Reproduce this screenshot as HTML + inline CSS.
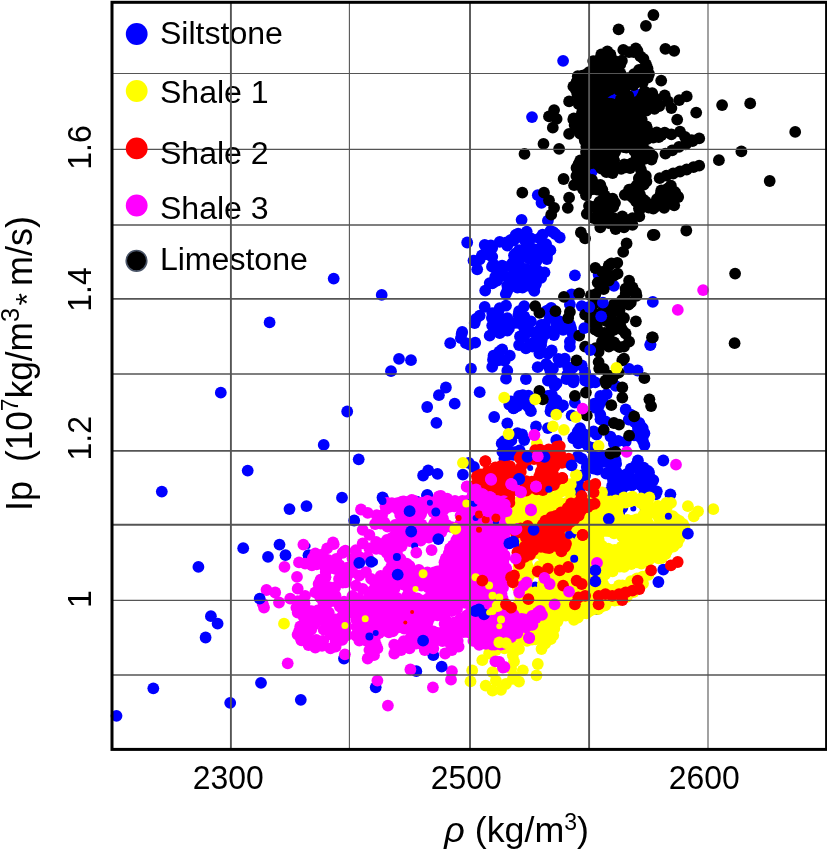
<!DOCTYPE html>
<html><head><meta charset="utf-8"><title>Crossplot</title>
<style>
html,body{margin:0;padding:0;background:#fff;}
svg{display:block;font-family:"Liberation Sans",sans-serif;}
</style></head><body>
<svg width="827" height="853" viewBox="0 0 827 853">
<rect width="827" height="853" fill="#fff"/>

<g fill="#0000ff">
<circle cx="586.0" cy="380.2" r="5.9"/>
<circle cx="523.5" cy="398.4" r="5.9"/>
<circle cx="511.0" cy="401.3" r="5.9"/>
<circle cx="547.4" cy="397.2" r="5.9"/>
<circle cx="556.4" cy="400.2" r="5.9"/>
<circle cx="553.9" cy="411.8" r="5.9"/>
<circle cx="599.3" cy="404.4" r="5.9"/>
<circle cx="581.4" cy="437.8" r="5.9"/>
<circle cx="574.5" cy="437.0" r="5.9"/>
<circle cx="583.9" cy="442.5" r="5.9"/>
<circle cx="637.9" cy="427.6" r="5.9"/>
<circle cx="639.0" cy="436.4" r="5.9"/>
<circle cx="594.2" cy="448.1" r="5.9"/>
<circle cx="597.2" cy="464.1" r="5.9"/>
<circle cx="595.5" cy="453.6" r="5.9"/>
<circle cx="610.6" cy="458.2" r="5.9"/>
<circle cx="593.6" cy="468.7" r="5.9"/>
<circle cx="592.8" cy="463.7" r="5.9"/>
<circle cx="613.5" cy="469.5" r="5.9"/>
<circle cx="619.1" cy="477.5" r="5.9"/>
<circle cx="640.3" cy="470.9" r="5.9"/>
<circle cx="649.0" cy="472.4" r="5.9"/>
<circle cx="643.8" cy="475.6" r="5.9"/>
<circle cx="626.6" cy="485.1" r="5.9"/>
<circle cx="630.2" cy="477.5" r="5.9"/>
<circle cx="617.6" cy="494.5" r="5.9"/>
<circle cx="617.3" cy="491.2" r="5.9"/>
<circle cx="647.8" cy="490.5" r="5.9"/>
<circle cx="652.1" cy="481.8" r="5.9"/>
<circle cx="508.3" cy="439.4" r="5.9"/>
<circle cx="504.0" cy="441.1" r="5.9"/>
<circle cx="519.6" cy="450.3" r="5.9"/>
<circle cx="509.3" cy="404.6" r="5.9"/>
<circle cx="551.9" cy="379.1" r="5.9"/>
<circle cx="556.5" cy="383.4" r="5.9"/>
<circle cx="567.5" cy="374.1" r="5.9"/>
<circle cx="573.9" cy="379.0" r="5.9"/>
<circle cx="589.1" cy="383.0" r="5.9"/>
<circle cx="591.3" cy="379.3" r="5.9"/>
<circle cx="602.3" cy="400.1" r="5.9"/>
<circle cx="522.8" cy="395.2" r="5.9"/>
<circle cx="528.4" cy="395.7" r="5.9"/>
<circle cx="528.9" cy="407.4" r="5.9"/>
<circle cx="513.6" cy="408.3" r="5.9"/>
<circle cx="550.2" cy="398.2" r="5.9"/>
<circle cx="553.9" cy="404.5" r="5.9"/>
<circle cx="563.0" cy="405.4" r="5.9"/>
<circle cx="554.5" cy="404.5" r="5.9"/>
<circle cx="606.6" cy="394.2" r="5.9"/>
<circle cx="594.3" cy="403.6" r="5.9"/>
<circle cx="600.5" cy="419.3" r="5.9"/>
<circle cx="628.7" cy="419.7" r="5.9"/>
<circle cx="522.1" cy="434.5" r="5.9"/>
<circle cx="577.7" cy="431.7" r="5.9"/>
<circle cx="579.4" cy="433.3" r="5.9"/>
<circle cx="577.4" cy="438.1" r="5.9"/>
<circle cx="584.0" cy="441.7" r="5.9"/>
<circle cx="634.7" cy="422.2" r="5.9"/>
<circle cx="644.4" cy="433.2" r="5.9"/>
<circle cx="634.0" cy="435.4" r="5.9"/>
<circle cx="618.2" cy="441.0" r="5.9"/>
<circle cx="642.8" cy="440.6" r="5.9"/>
<circle cx="596.6" cy="434.7" r="5.9"/>
<circle cx="591.8" cy="448.1" r="5.9"/>
<circle cx="597.7" cy="456.4" r="5.9"/>
<circle cx="603.1" cy="461.8" r="5.9"/>
<circle cx="611.6" cy="463.8" r="5.9"/>
<circle cx="616.1" cy="463.9" r="5.9"/>
<circle cx="591.5" cy="462.6" r="5.9"/>
<circle cx="591.9" cy="467.4" r="5.9"/>
<circle cx="577.8" cy="456.4" r="5.9"/>
<circle cx="606.1" cy="473.5" r="5.9"/>
<circle cx="612.9" cy="479.2" r="5.9"/>
<circle cx="619.2" cy="484.0" r="5.9"/>
<circle cx="627.8" cy="473.4" r="5.9"/>
<circle cx="637.9" cy="460.3" r="5.9"/>
<circle cx="636.5" cy="467.2" r="5.9"/>
<circle cx="647.9" cy="471.0" r="5.9"/>
<circle cx="639.8" cy="481.9" r="5.9"/>
<circle cx="628.1" cy="482.5" r="5.9"/>
<circle cx="631.3" cy="484.1" r="5.9"/>
<circle cx="615.3" cy="489.9" r="5.9"/>
<circle cx="616.4" cy="488.9" r="5.9"/>
<circle cx="640.9" cy="485.3" r="5.9"/>
<circle cx="653.3" cy="480.1" r="5.9"/>
<circle cx="610.4" cy="496.5" r="5.9"/>
<circle cx="585.1" cy="475.4" r="5.9"/>
<circle cx="579.4" cy="491.0" r="5.9"/>
<circle cx="619.3" cy="512.8" r="5.9"/>
<circle cx="511.4" cy="440.4" r="5.9"/>
<circle cx="502.4" cy="451.9" r="5.9"/>
<circle cx="513.4" cy="454.8" r="5.9"/>
<circle cx="508.9" cy="454.7" r="5.9"/>
<circle cx="656.8" cy="491.3" r="5.9"/>
<circle cx="490.9" cy="245.3" r="5.9"/>
<circle cx="506.5" cy="242.3" r="5.9"/>
<circle cx="510.8" cy="240.0" r="5.9"/>
<circle cx="481.9" cy="255.4" r="5.9"/>
<circle cx="488.5" cy="254.7" r="5.9"/>
<circle cx="492.0" cy="266.7" r="5.9"/>
<circle cx="495.2" cy="277.0" r="5.9"/>
<circle cx="502.1" cy="265.7" r="5.9"/>
<circle cx="512.5" cy="266.8" r="5.9"/>
<circle cx="492.3" cy="283.3" r="5.9"/>
<circle cx="494.5" cy="281.5" r="5.9"/>
<circle cx="509.5" cy="283.8" r="5.9"/>
<circle cx="513.5" cy="273.6" r="5.9"/>
<circle cx="505.8" cy="294.1" r="5.9"/>
<circle cx="503.7" cy="275.4" r="5.9"/>
<circle cx="476.0" cy="318.8" r="5.9"/>
<circle cx="491.9" cy="318.0" r="5.9"/>
<circle cx="498.4" cy="311.4" r="5.9"/>
<circle cx="505.6" cy="321.9" r="5.9"/>
<circle cx="502.8" cy="320.3" r="5.9"/>
<circle cx="494.3" cy="330.1" r="5.9"/>
<circle cx="499.1" cy="329.5" r="5.9"/>
<circle cx="508.9" cy="328.4" r="5.9"/>
<circle cx="493.6" cy="315.5" r="5.9"/>
<circle cx="461.6" cy="334.1" r="5.9"/>
<circle cx="469.3" cy="344.6" r="5.9"/>
<circle cx="493.0" cy="359.7" r="5.9"/>
<circle cx="499.3" cy="351.6" r="5.9"/>
<circle cx="500.8" cy="359.8" r="5.9"/>
<circle cx="499.7" cy="358.7" r="5.9"/>
<circle cx="526.2" cy="234.5" r="5.9"/>
<circle cx="524.3" cy="239.7" r="5.9"/>
<circle cx="518.2" cy="233.6" r="5.9"/>
<circle cx="527.9" cy="242.1" r="5.9"/>
<circle cx="542.6" cy="234.7" r="5.9"/>
<circle cx="546.1" cy="244.1" r="5.9"/>
<circle cx="553.3" cy="232.1" r="5.9"/>
<circle cx="547.9" cy="250.2" r="5.9"/>
<circle cx="546.9" cy="259.0" r="5.9"/>
<circle cx="538.2" cy="249.3" r="5.9"/>
<circle cx="535.0" cy="250.9" r="5.9"/>
<circle cx="528.3" cy="248.4" r="5.9"/>
<circle cx="522.7" cy="252.9" r="5.9"/>
<circle cx="515.9" cy="253.5" r="5.9"/>
<circle cx="524.0" cy="252.7" r="5.9"/>
<circle cx="527.3" cy="256.1" r="5.9"/>
<circle cx="537.2" cy="259.7" r="5.9"/>
<circle cx="537.3" cy="270.3" r="5.9"/>
<circle cx="526.8" cy="273.6" r="5.9"/>
<circle cx="519.2" cy="264.6" r="5.9"/>
<circle cx="541.1" cy="277.9" r="5.9"/>
<circle cx="533.4" cy="280.6" r="5.9"/>
<circle cx="522.8" cy="272.9" r="5.9"/>
<circle cx="514.4" cy="277.7" r="5.9"/>
<circle cx="516.8" cy="277.8" r="5.9"/>
<circle cx="534.5" cy="280.3" r="5.9"/>
<circle cx="533.6" cy="287.6" r="5.9"/>
<circle cx="523.2" cy="283.8" r="5.9"/>
<circle cx="514.3" cy="285.5" r="5.9"/>
<circle cx="534.4" cy="287.1" r="5.9"/>
<circle cx="518.4" cy="314.9" r="5.9"/>
<circle cx="524.8" cy="318.7" r="5.9"/>
<circle cx="526.3" cy="320.7" r="5.9"/>
<circle cx="523.6" cy="325.1" r="5.9"/>
<circle cx="515.1" cy="322.8" r="5.9"/>
<circle cx="527.7" cy="329.8" r="5.9"/>
<circle cx="520.0" cy="336.4" r="5.9"/>
<circle cx="528.7" cy="345.8" r="5.9"/>
<circle cx="533.5" cy="342.6" r="5.9"/>
<circle cx="541.7" cy="340.4" r="5.9"/>
<circle cx="536.4" cy="334.6" r="5.9"/>
<circle cx="541.3" cy="324.9" r="5.9"/>
<circle cx="553.9" cy="317.9" r="5.9"/>
<circle cx="548.3" cy="310.9" r="5.9"/>
<circle cx="548.8" cy="309.9" r="5.9"/>
<circle cx="551.2" cy="311.0" r="5.9"/>
<circle cx="556.4" cy="324.6" r="5.9"/>
<circle cx="557.4" cy="325.0" r="5.9"/>
<circle cx="554.0" cy="335.1" r="5.9"/>
<circle cx="541.6" cy="336.6" r="5.9"/>
<circle cx="536.9" cy="346.0" r="5.9"/>
<circle cx="551.7" cy="350.5" r="5.9"/>
<circle cx="539.7" cy="350.6" r="5.9"/>
<circle cx="563.1" cy="329.9" r="5.9"/>
<circle cx="570.9" cy="327.9" r="5.9"/>
<circle cx="573.2" cy="334.8" r="5.9"/>
<circle cx="549.0" cy="366.8" r="5.9"/>
<circle cx="550.3" cy="370.6" r="5.9"/>
<circle cx="558.4" cy="359.0" r="5.9"/>
<circle cx="572.7" cy="367.9" r="5.9"/>
<circle cx="585.2" cy="376.0" r="5.9"/>
<circle cx="525.0" cy="404.0" r="5.9"/>
<circle cx="516.5" cy="403.4" r="5.9"/>
<circle cx="551.9" cy="395.0" r="5.9"/>
<circle cx="552.1" cy="400.2" r="5.9"/>
<circle cx="550.5" cy="411.3" r="5.9"/>
<circle cx="598.1" cy="407.5" r="5.9"/>
<circle cx="582.8" cy="433.4" r="5.9"/>
<circle cx="577.6" cy="437.5" r="5.9"/>
<circle cx="580.0" cy="439.3" r="5.9"/>
<circle cx="640.6" cy="425.8" r="5.9"/>
<circle cx="643.1" cy="435.8" r="5.9"/>
<circle cx="591.1" cy="448.1" r="5.9"/>
<circle cx="595.8" cy="461.2" r="5.9"/>
<circle cx="601.1" cy="455.5" r="5.9"/>
<circle cx="610.0" cy="461.5" r="5.9"/>
<circle cx="597.5" cy="469.7" r="5.9"/>
<circle cx="587.7" cy="464.4" r="5.9"/>
<circle cx="616.5" cy="471.8" r="5.9"/>
<circle cx="623.3" cy="475.7" r="5.9"/>
<circle cx="643.7" cy="467.7" r="5.9"/>
<circle cx="645.4" cy="470.1" r="5.9"/>
<circle cx="639.6" cy="475.9" r="5.9"/>
<circle cx="631.9" cy="485.3" r="5.9"/>
<circle cx="628.2" cy="482.3" r="5.9"/>
<circle cx="621.4" cy="491.0" r="5.9"/>
<circle cx="615.8" cy="486.6" r="5.9"/>
<circle cx="644.2" cy="490.1" r="5.9"/>
<circle cx="650.3" cy="478.2" r="5.9"/>
<circle cx="508.5" cy="442.5" r="5.9"/>
<circle cx="501.7" cy="443.4" r="5.9"/>
<circle cx="514.0" cy="452.1" r="5.9"/>
<circle cx="333.7" cy="278.6" r="5.9"/>
<circle cx="381.7" cy="294.9" r="5.9"/>
<circle cx="269.6" cy="322.4" r="5.9"/>
<circle cx="399.0" cy="358.9" r="5.9"/>
<circle cx="411.0" cy="360.2" r="5.9"/>
<circle cx="391.0" cy="371.2" r="5.9"/>
<circle cx="220.8" cy="392.7" r="5.9"/>
<circle cx="347.2" cy="411.5" r="5.9"/>
<circle cx="161.8" cy="491.6" r="5.9"/>
<circle cx="247.7" cy="470.6" r="5.9"/>
<circle cx="289.5" cy="509.1" r="5.9"/>
<circle cx="243.2" cy="548.2" r="5.9"/>
<circle cx="279.5" cy="544.6" r="5.9"/>
<circle cx="285.5" cy="555.2" r="5.9"/>
<circle cx="268.0" cy="556.9" r="5.9"/>
<circle cx="198.4" cy="566.9" r="5.9"/>
<circle cx="210.9" cy="616.2" r="5.9"/>
<circle cx="217.6" cy="623.7" r="5.9"/>
<circle cx="205.6" cy="637.5" r="5.9"/>
<circle cx="153.3" cy="688.3" r="5.9"/>
<circle cx="116.5" cy="715.8" r="5.9"/>
<circle cx="230.2" cy="702.8" r="5.9"/>
<circle cx="261.0" cy="682.8" r="5.9"/>
<circle cx="300.8" cy="699.8" r="5.9"/>
<circle cx="467.2" cy="242.5" r="5.9"/>
<circle cx="484.7" cy="245.0" r="5.9"/>
<circle cx="492.2" cy="248.0" r="5.9"/>
<circle cx="499.7" cy="241.8" r="5.9"/>
<circle cx="507.3" cy="245.5" r="5.9"/>
<circle cx="513.5" cy="240.5" r="5.9"/>
<circle cx="473.5" cy="260.6" r="5.9"/>
<circle cx="479.7" cy="259.3" r="5.9"/>
<circle cx="477.2" cy="269.3" r="5.9"/>
<circle cx="492.2" cy="256.8" r="5.9"/>
<circle cx="493.5" cy="264.3" r="5.9"/>
<circle cx="497.2" cy="273.1" r="5.9"/>
<circle cx="504.7" cy="266.8" r="5.9"/>
<circle cx="512.3" cy="263.1" r="5.9"/>
<circle cx="489.7" cy="283.1" r="5.9"/>
<circle cx="497.2" cy="280.6" r="5.9"/>
<circle cx="507.3" cy="285.6" r="5.9"/>
<circle cx="513.5" cy="278.1" r="5.9"/>
<circle cx="485.2" cy="290.6" r="5.9"/>
<circle cx="507.3" cy="290.6" r="5.9"/>
<circle cx="499.7" cy="275.6" r="5.9"/>
<circle cx="484.7" cy="306.9" r="5.9"/>
<circle cx="479.7" cy="315.6" r="5.9"/>
<circle cx="474.7" cy="323.1" r="5.9"/>
<circle cx="492.2" cy="313.1" r="5.9"/>
<circle cx="499.7" cy="308.1" r="5.9"/>
<circle cx="506.0" cy="305.6" r="5.9"/>
<circle cx="507.3" cy="318.1" r="5.9"/>
<circle cx="499.7" cy="323.1" r="5.9"/>
<circle cx="492.2" cy="325.6" r="5.9"/>
<circle cx="489.7" cy="335.7" r="5.9"/>
<circle cx="499.7" cy="333.2" r="5.9"/>
<circle cx="507.3" cy="330.6" r="5.9"/>
<circle cx="497.2" cy="318.1" r="5.9"/>
<circle cx="462.2" cy="331.9" r="5.9"/>
<circle cx="460.9" cy="338.2" r="5.9"/>
<circle cx="450.2" cy="343.2" r="5.9"/>
<circle cx="465.9" cy="343.2" r="5.9"/>
<circle cx="475.2" cy="342.7" r="5.9"/>
<circle cx="493.5" cy="355.7" r="5.9"/>
<circle cx="502.2" cy="349.4" r="5.9"/>
<circle cx="509.8" cy="355.7" r="5.9"/>
<circle cx="492.2" cy="366.9" r="5.9"/>
<circle cx="504.7" cy="360.7" r="5.9"/>
<circle cx="497.2" cy="360.7" r="5.9"/>
<circle cx="471.0" cy="368.7" r="5.9"/>
<circle cx="507.3" cy="370.7" r="5.9"/>
<circle cx="506.0" cy="378.7" r="5.9"/>
<circle cx="445.9" cy="387.5" r="5.9"/>
<circle cx="438.9" cy="395.2" r="5.9"/>
<circle cx="479.7" cy="392.2" r="5.9"/>
<circle cx="427.2" cy="407.0" r="5.9"/>
<circle cx="454.7" cy="403.7" r="5.9"/>
<circle cx="494.2" cy="417.0" r="5.9"/>
<circle cx="436.4" cy="422.8" r="5.9"/>
<circle cx="513.5" cy="408.2" r="5.9"/>
<circle cx="507.3" cy="423.3" r="5.9"/>
<circle cx="563.1" cy="60.8" r="5.9"/>
<circle cx="532.0" cy="117.1" r="5.9"/>
<circle cx="591.8" cy="171.5" r="5.9"/>
<circle cx="537.8" cy="195.2" r="5.9"/>
<circle cx="541.5" cy="202.8" r="5.9"/>
<circle cx="635.4" cy="93.9" r="5.9"/>
<circle cx="611.1" cy="97.1" r="5.9"/>
<circle cx="521.6" cy="219.8" r="5.9"/>
<circle cx="547.9" cy="220.6" r="5.9"/>
<circle cx="526.7" cy="231.6" r="5.9"/>
<circle cx="520.8" cy="236.7" r="5.9"/>
<circle cx="515.7" cy="235.0" r="5.9"/>
<circle cx="530.9" cy="238.4" r="5.9"/>
<circle cx="539.4" cy="238.4" r="5.9"/>
<circle cx="542.8" cy="244.3" r="5.9"/>
<circle cx="550.4" cy="230.8" r="5.9"/>
<circle cx="555.5" cy="234.2" r="5.9"/>
<circle cx="559.7" cy="237.5" r="5.9"/>
<circle cx="550.4" cy="250.2" r="5.9"/>
<circle cx="547.0" cy="255.3" r="5.9"/>
<circle cx="539.4" cy="251.9" r="5.9"/>
<circle cx="532.6" cy="248.6" r="5.9"/>
<circle cx="525.9" cy="246.9" r="5.9"/>
<circle cx="519.1" cy="250.2" r="5.9"/>
<circle cx="514.0" cy="255.3" r="5.9"/>
<circle cx="522.5" cy="257.0" r="5.9"/>
<circle cx="529.2" cy="258.7" r="5.9"/>
<circle cx="536.0" cy="262.1" r="5.9"/>
<circle cx="532.6" cy="268.9" r="5.9"/>
<circle cx="525.9" cy="268.9" r="5.9"/>
<circle cx="519.1" cy="267.2" r="5.9"/>
<circle cx="544.5" cy="272.3" r="5.9"/>
<circle cx="537.7" cy="275.6" r="5.9"/>
<circle cx="530.9" cy="277.3" r="5.9"/>
<circle cx="524.2" cy="275.6" r="5.9"/>
<circle cx="517.4" cy="277.3" r="5.9"/>
<circle cx="514.0" cy="280.7" r="5.9"/>
<circle cx="536.0" cy="284.1" r="5.9"/>
<circle cx="529.2" cy="285.8" r="5.9"/>
<circle cx="522.5" cy="287.5" r="5.9"/>
<circle cx="517.4" cy="287.5" r="5.9"/>
<circle cx="534.3" cy="290.9" r="5.9"/>
<circle cx="574.9" cy="275.3" r="5.9"/>
<circle cx="598.6" cy="274.8" r="5.9"/>
<circle cx="613.9" cy="285.8" r="5.9"/>
<circle cx="571.6" cy="294.3" r="5.9"/>
<circle cx="524.2" cy="306.1" r="5.9"/>
<circle cx="519.1" cy="311.2" r="5.9"/>
<circle cx="524.2" cy="316.3" r="5.9"/>
<circle cx="530.9" cy="321.3" r="5.9"/>
<circle cx="524.2" cy="328.1" r="5.9"/>
<circle cx="519.1" cy="323.0" r="5.9"/>
<circle cx="530.9" cy="331.5" r="5.9"/>
<circle cx="524.2" cy="336.6" r="5.9"/>
<circle cx="519.1" cy="345.0" r="5.9"/>
<circle cx="525.9" cy="348.4" r="5.9"/>
<circle cx="532.6" cy="346.7" r="5.9"/>
<circle cx="539.4" cy="338.3" r="5.9"/>
<circle cx="537.7" cy="331.5" r="5.9"/>
<circle cx="544.5" cy="324.7" r="5.9"/>
<circle cx="549.6" cy="318.0" r="5.9"/>
<circle cx="551.2" cy="307.8" r="5.9"/>
<circle cx="546.2" cy="311.2" r="5.9"/>
<circle cx="554.6" cy="314.6" r="5.9"/>
<circle cx="559.7" cy="321.3" r="5.9"/>
<circle cx="556.3" cy="328.1" r="5.9"/>
<circle cx="551.2" cy="331.5" r="5.9"/>
<circle cx="544.5" cy="334.9" r="5.9"/>
<circle cx="541.1" cy="345.0" r="5.9"/>
<circle cx="547.9" cy="353.5" r="5.9"/>
<circle cx="539.4" cy="353.5" r="5.9"/>
<circle cx="564.8" cy="328.1" r="5.9"/>
<circle cx="569.9" cy="324.7" r="5.9"/>
<circle cx="571.6" cy="331.5" r="5.9"/>
<circle cx="569.9" cy="341.7" r="5.9"/>
<circle cx="569.9" cy="346.7" r="5.9"/>
<circle cx="569.9" cy="304.4" r="5.9"/>
<circle cx="581.7" cy="306.1" r="5.9"/>
<circle cx="650.3" cy="345.0" r="5.9"/>
<circle cx="652.8" cy="301.9" r="5.9"/>
<circle cx="537.7" cy="367.2" r="5.9"/>
<circle cx="546.2" cy="363.8" r="5.9"/>
<circle cx="552.9" cy="368.9" r="5.9"/>
<circle cx="559.7" cy="362.1" r="5.9"/>
<circle cx="564.8" cy="358.7" r="5.9"/>
<circle cx="568.2" cy="367.2" r="5.9"/>
<circle cx="581.7" cy="365.5" r="5.9"/>
<circle cx="585.1" cy="372.2" r="5.9"/>
<circle cx="629.1" cy="368.9" r="5.9"/>
<circle cx="637.6" cy="370.5" r="5.9"/>
<circle cx="525.9" cy="379.0" r="5.9"/>
<circle cx="547.9" cy="380.7" r="5.9"/>
<circle cx="554.6" cy="385.8" r="5.9"/>
<circle cx="566.5" cy="379.0" r="5.9"/>
<circle cx="573.3" cy="382.4" r="5.9"/>
<circle cx="585.1" cy="380.7" r="5.9"/>
<circle cx="595.3" cy="382.4" r="5.9"/>
<circle cx="615.6" cy="385.8" r="5.9"/>
<circle cx="600.3" cy="395.9" r="5.9"/>
<circle cx="519.1" cy="395.9" r="5.9"/>
<circle cx="525.9" cy="401.0" r="5.9"/>
<circle cx="530.9" cy="411.2" r="5.9"/>
<circle cx="517.4" cy="406.1" r="5.9"/>
<circle cx="547.9" cy="395.9" r="5.9"/>
<circle cx="554.6" cy="401.0" r="5.9"/>
<circle cx="559.7" cy="407.8" r="5.9"/>
<circle cx="551.2" cy="407.8" r="5.9"/>
<circle cx="574.9" cy="402.7" r="5.9"/>
<circle cx="602.0" cy="397.6" r="5.9"/>
<circle cx="595.3" cy="407.8" r="5.9"/>
<circle cx="600.3" cy="414.6" r="5.9"/>
<circle cx="625.7" cy="409.5" r="5.9"/>
<circle cx="630.8" cy="414.6" r="5.9"/>
<circle cx="517.4" cy="433.2" r="5.9"/>
<circle cx="524.2" cy="440.0" r="5.9"/>
<circle cx="536.0" cy="426.4" r="5.9"/>
<circle cx="547.9" cy="428.1" r="5.9"/>
<circle cx="571.6" cy="415.4" r="5.9"/>
<circle cx="580.0" cy="428.1" r="5.9"/>
<circle cx="585.1" cy="434.9" r="5.9"/>
<circle cx="573.3" cy="438.3" r="5.9"/>
<circle cx="578.3" cy="443.3" r="5.9"/>
<circle cx="556.3" cy="440.0" r="5.9"/>
<circle cx="605.4" cy="421.3" r="5.9"/>
<circle cx="639.3" cy="423.0" r="5.9"/>
<circle cx="642.7" cy="428.1" r="5.9"/>
<circle cx="639.3" cy="434.9" r="5.9"/>
<circle cx="610.5" cy="436.6" r="5.9"/>
<circle cx="613.9" cy="443.3" r="5.9"/>
<circle cx="625.7" cy="441.6" r="5.9"/>
<circle cx="644.4" cy="445.0" r="5.9"/>
<circle cx="593.6" cy="431.5" r="5.9"/>
<circle cx="588.5" cy="446.7" r="5.9"/>
<circle cx="593.6" cy="456.9" r="5.9"/>
<circle cx="600.3" cy="458.6" r="5.9"/>
<circle cx="607.1" cy="462.0" r="5.9"/>
<circle cx="615.6" cy="460.3" r="5.9"/>
<circle cx="595.3" cy="467.0" r="5.9"/>
<circle cx="586.8" cy="467.0" r="5.9"/>
<circle cx="581.7" cy="458.6" r="5.9"/>
<circle cx="608.8" cy="472.1" r="5.9"/>
<circle cx="615.6" cy="475.5" r="5.9"/>
<circle cx="622.3" cy="478.9" r="5.9"/>
<circle cx="630.8" cy="468.7" r="5.9"/>
<circle cx="635.9" cy="465.3" r="5.9"/>
<circle cx="641.0" cy="467.0" r="5.9"/>
<circle cx="646.0" cy="473.8" r="5.9"/>
<circle cx="639.3" cy="478.9" r="5.9"/>
<circle cx="632.5" cy="482.3" r="5.9"/>
<circle cx="625.7" cy="485.7" r="5.9"/>
<circle cx="619.0" cy="487.4" r="5.9"/>
<circle cx="612.2" cy="485.7" r="5.9"/>
<circle cx="644.4" cy="485.7" r="5.9"/>
<circle cx="651.1" cy="482.3" r="5.9"/>
<circle cx="608.8" cy="492.4" r="5.9"/>
<circle cx="581.7" cy="475.5" r="5.9"/>
<circle cx="580.0" cy="485.7" r="5.9"/>
<circle cx="578.3" cy="492.4" r="5.9"/>
<circle cx="615.6" cy="506.1" r="5.9"/>
<circle cx="622.3" cy="507.8" r="5.9"/>
<circle cx="630.8" cy="537.4" r="5.9"/>
<circle cx="605.4" cy="588.2" r="5.9"/>
<circle cx="568.2" cy="534.0" r="5.9"/>
<circle cx="573.3" cy="534.9" r="5.9"/>
<circle cx="576.6" cy="558.6" r="5.9"/>
<circle cx="569.9" cy="555.2" r="5.9"/>
<circle cx="534.3" cy="528.9" r="5.9"/>
<circle cx="517.4" cy="542.5" r="5.9"/>
<circle cx="535.2" cy="587.3" r="5.9"/>
<circle cx="546.2" cy="585.6" r="5.9"/>
<circle cx="587.6" cy="545.9" r="3"/>
<circle cx="633.3" cy="508.6" r="3"/>
<circle cx="642.7" cy="508.6" r="3"/>
<circle cx="613.0" cy="560.3" r="3"/>
<circle cx="601.2" cy="527.2" r="3"/>
<circle cx="597.0" cy="611.9" r="3"/>
<circle cx="507.7" cy="440.0" r="5.9"/>
<circle cx="504.4" cy="446.7" r="5.9"/>
<circle cx="509.4" cy="451.8" r="5.9"/>
<circle cx="504.4" cy="458.6" r="5.9"/>
<circle cx="468.8" cy="462.8" r="5.9"/>
<circle cx="473.9" cy="467.0" r="5.9"/>
<circle cx="462.9" cy="474.7" r="5.9"/>
<circle cx="423.1" cy="475.5" r="5.9"/>
<circle cx="428.2" cy="470.4" r="5.9"/>
<circle cx="437.5" cy="473.8" r="5.9"/>
<circle cx="382.5" cy="497.5" r="5.9"/>
<circle cx="427.3" cy="495.0" r="5.9"/>
<circle cx="473.9" cy="497.5" r="5.9"/>
<circle cx="306.5" cy="506.1" r="5.9"/>
<circle cx="354.2" cy="520.5" r="5.9"/>
<circle cx="308.5" cy="555.2" r="5.9"/>
<circle cx="307.6" cy="545.9" r="3"/>
<circle cx="344.0" cy="658.5" r="5.9"/>
<circle cx="416.3" cy="671.2" r="5.9"/>
<circle cx="433.3" cy="655.2" r="5.9"/>
<circle cx="375.7" cy="687.3" r="5.9"/>
<circle cx="423.1" cy="645.0" r="5.9"/>
<circle cx="663.3" cy="460.5" r="5.9"/>
<circle cx="655.7" cy="494.3" r="5.9"/>
<circle cx="670.4" cy="494.3" r="5.9"/>
<circle cx="663.3" cy="569.7" r="5.9"/>
<circle cx="658.4" cy="582.0" r="5.9"/>
<circle cx="650.5" cy="344.4" r="5.9"/>
<circle cx="323.7" cy="444.9" r="5.9"/>
<circle cx="358.7" cy="459.3" r="5.9"/>
<circle cx="342.0" cy="497.7" r="5.9"/>
<circle cx="383.0" cy="498.2" r="5.9"/>
<circle cx="427.0" cy="495.6" r="5.9"/>
<circle cx="416.8" cy="501.6" r="5.9"/>
</g>
<g fill="#000000">
<circle cx="611.5" cy="263.5" r="5.9"/>
<circle cx="602.2" cy="271.8" r="5.9"/>
<circle cx="617.6" cy="273.7" r="5.9"/>
<circle cx="604.4" cy="280.3" r="5.9"/>
<circle cx="597.7" cy="282.6" r="5.9"/>
<circle cx="600.3" cy="288.2" r="5.9"/>
<circle cx="630.7" cy="290.5" r="5.9"/>
<circle cx="636.5" cy="295.8" r="5.9"/>
<circle cx="625.6" cy="288.7" r="5.9"/>
<circle cx="590.9" cy="295.5" r="5.9"/>
<circle cx="616.6" cy="307.1" r="5.9"/>
<circle cx="622.1" cy="299.9" r="5.9"/>
<circle cx="628.6" cy="304.6" r="5.9"/>
<circle cx="619.5" cy="310.2" r="5.9"/>
<circle cx="608.6" cy="315.2" r="5.9"/>
<circle cx="620.3" cy="325.6" r="5.9"/>
<circle cx="620.1" cy="320.7" r="5.9"/>
<circle cx="611.6" cy="326.0" r="5.9"/>
<circle cx="604.8" cy="333.0" r="5.9"/>
<circle cx="625.6" cy="333.5" r="5.9"/>
<circle cx="595.1" cy="329.6" r="5.9"/>
<circle cx="603.0" cy="344.2" r="5.9"/>
<circle cx="607.6" cy="342.6" r="5.9"/>
<circle cx="614.0" cy="342.3" r="5.9"/>
<circle cx="619.6" cy="347.1" r="5.9"/>
<circle cx="595.6" cy="348.1" r="5.9"/>
<circle cx="597.4" cy="315.3" r="5.9"/>
<circle cx="594.2" cy="321.6" r="5.9"/>
<circle cx="594.4" cy="324.1" r="5.9"/>
<circle cx="602.7" cy="311.5" r="5.9"/>
<circle cx="608.9" cy="319.3" r="5.9"/>
<circle cx="599.2" cy="368.6" r="5.9"/>
<circle cx="612.3" cy="378.8" r="5.9"/>
<circle cx="618.7" cy="372.6" r="5.9"/>
<circle cx="606.1" cy="383.5" r="5.9"/>
<circle cx="722.1" cy="105.1" r="5.9"/>
<circle cx="750.2" cy="103.4" r="5.9"/>
<circle cx="795.2" cy="131.9" r="5.9"/>
<circle cx="741.4" cy="151.4" r="5.9"/>
<circle cx="718.9" cy="160.2" r="5.9"/>
<circle cx="769.7" cy="181.0" r="5.9"/>
<circle cx="635.8" cy="48.4" r="5.9"/>
<circle cx="607.4" cy="51.4" r="5.9"/>
<circle cx="623.3" cy="49.9" r="5.9"/>
<circle cx="629.0" cy="52.1" r="5.9"/>
<circle cx="633.9" cy="52.1" r="5.9"/>
<circle cx="637.5" cy="50.9" r="5.9"/>
<circle cx="601.3" cy="54.5" r="5.9"/>
<circle cx="603.9" cy="56.9" r="5.9"/>
<circle cx="610.4" cy="54.5" r="5.9"/>
<circle cx="640.4" cy="56.4" r="5.9"/>
<circle cx="593.2" cy="61.1" r="5.9"/>
<circle cx="598.8" cy="59.8" r="5.9"/>
<circle cx="603.3" cy="60.8" r="5.9"/>
<circle cx="606.6" cy="60.4" r="5.9"/>
<circle cx="614.0" cy="60.7" r="5.9"/>
<circle cx="621.9" cy="60.7" r="5.9"/>
<circle cx="643.5" cy="58.9" r="5.9"/>
<circle cx="594.6" cy="64.0" r="5.9"/>
<circle cx="599.2" cy="65.4" r="5.9"/>
<circle cx="604.9" cy="64.1" r="5.9"/>
<circle cx="610.6" cy="65.4" r="5.9"/>
<circle cx="615.1" cy="65.5" r="5.9"/>
<circle cx="620.3" cy="64.3" r="5.9"/>
<circle cx="646.0" cy="64.4" r="5.9"/>
<circle cx="594.1" cy="67.8" r="5.9"/>
<circle cx="598.0" cy="69.9" r="5.9"/>
<circle cx="603.8" cy="67.4" r="5.9"/>
<circle cx="606.7" cy="68.4" r="5.9"/>
<circle cx="611.5" cy="67.8" r="5.9"/>
<circle cx="616.5" cy="69.0" r="5.9"/>
<circle cx="639.0" cy="69.9" r="5.9"/>
<circle cx="642.0" cy="69.9" r="5.9"/>
<circle cx="647.5" cy="68.5" r="5.9"/>
<circle cx="586.2" cy="74.3" r="5.9"/>
<circle cx="589.1" cy="72.2" r="5.9"/>
<circle cx="593.9" cy="73.7" r="5.9"/>
<circle cx="599.6" cy="71.8" r="5.9"/>
<circle cx="605.1" cy="74.1" r="5.9"/>
<circle cx="611.3" cy="72.1" r="5.9"/>
<circle cx="614.3" cy="74.1" r="5.9"/>
<circle cx="620.5" cy="73.5" r="5.9"/>
<circle cx="634.0" cy="74.2" r="5.9"/>
<circle cx="640.7" cy="73.8" r="5.9"/>
<circle cx="644.1" cy="73.9" r="5.9"/>
<circle cx="649.0" cy="74.0" r="5.9"/>
<circle cx="577.8" cy="76.2" r="5.9"/>
<circle cx="582.4" cy="75.7" r="5.9"/>
<circle cx="587.1" cy="75.7" r="5.9"/>
<circle cx="593.5" cy="77.3" r="5.9"/>
<circle cx="596.9" cy="77.1" r="5.9"/>
<circle cx="604.1" cy="76.0" r="5.9"/>
<circle cx="608.8" cy="77.0" r="5.9"/>
<circle cx="612.8" cy="78.2" r="5.9"/>
<circle cx="617.5" cy="77.2" r="5.9"/>
<circle cx="623.4" cy="78.6" r="5.9"/>
<circle cx="627.3" cy="78.2" r="5.9"/>
<circle cx="633.4" cy="77.6" r="5.9"/>
<circle cx="637.5" cy="76.7" r="5.9"/>
<circle cx="641.5" cy="76.1" r="5.9"/>
<circle cx="576.7" cy="81.7" r="5.9"/>
<circle cx="579.6" cy="82.9" r="5.9"/>
<circle cx="584.7" cy="81.1" r="5.9"/>
<circle cx="588.8" cy="81.2" r="5.9"/>
<circle cx="595.2" cy="81.5" r="5.9"/>
<circle cx="599.4" cy="81.5" r="5.9"/>
<circle cx="603.8" cy="80.8" r="5.9"/>
<circle cx="609.1" cy="81.2" r="5.9"/>
<circle cx="613.9" cy="80.1" r="5.9"/>
<circle cx="619.7" cy="80.7" r="5.9"/>
<circle cx="625.6" cy="81.6" r="5.9"/>
<circle cx="631.1" cy="82.0" r="5.9"/>
<circle cx="636.0" cy="82.7" r="5.9"/>
<circle cx="640.0" cy="81.0" r="5.9"/>
<circle cx="573.4" cy="86.4" r="5.9"/>
<circle cx="577.0" cy="84.4" r="5.9"/>
<circle cx="581.7" cy="85.4" r="5.9"/>
<circle cx="586.6" cy="86.9" r="5.9"/>
<circle cx="593.0" cy="86.2" r="5.9"/>
<circle cx="598.2" cy="86.4" r="5.9"/>
<circle cx="602.8" cy="84.4" r="5.9"/>
<circle cx="608.7" cy="86.6" r="5.9"/>
<circle cx="612.8" cy="86.0" r="5.9"/>
<circle cx="618.3" cy="84.6" r="5.9"/>
<circle cx="623.5" cy="85.1" r="5.9"/>
<circle cx="626.5" cy="85.1" r="5.9"/>
<circle cx="633.5" cy="85.0" r="5.9"/>
<circle cx="575.8" cy="89.6" r="5.9"/>
<circle cx="580.4" cy="90.1" r="5.9"/>
<circle cx="585.2" cy="89.0" r="5.9"/>
<circle cx="591.5" cy="89.3" r="5.9"/>
<circle cx="596.8" cy="91.5" r="5.9"/>
<circle cx="598.9" cy="90.1" r="5.9"/>
<circle cx="606.3" cy="91.6" r="5.9"/>
<circle cx="610.2" cy="89.5" r="5.9"/>
<circle cx="619.4" cy="90.4" r="5.9"/>
<circle cx="624.2" cy="90.3" r="5.9"/>
<circle cx="644.5" cy="91.4" r="5.9"/>
<circle cx="577.4" cy="94.2" r="5.9"/>
<circle cx="584.3" cy="94.8" r="5.9"/>
<circle cx="587.4" cy="94.3" r="5.9"/>
<circle cx="592.1" cy="93.2" r="5.9"/>
<circle cx="596.6" cy="95.5" r="5.9"/>
<circle cx="602.2" cy="95.8" r="5.9"/>
<circle cx="624.0" cy="95.4" r="5.9"/>
<circle cx="628.2" cy="95.8" r="5.9"/>
<circle cx="643.5" cy="94.4" r="5.9"/>
<circle cx="648.6" cy="94.9" r="5.9"/>
<circle cx="652.2" cy="93.2" r="5.9"/>
<circle cx="579.4" cy="100.1" r="5.9"/>
<circle cx="585.3" cy="98.0" r="5.9"/>
<circle cx="591.5" cy="100.3" r="5.9"/>
<circle cx="595.2" cy="97.8" r="5.9"/>
<circle cx="599.4" cy="97.6" r="5.9"/>
<circle cx="621.1" cy="98.6" r="5.9"/>
<circle cx="625.1" cy="98.9" r="5.9"/>
<circle cx="641.7" cy="97.7" r="5.9"/>
<circle cx="645.3" cy="99.2" r="5.9"/>
<circle cx="651.4" cy="98.0" r="5.9"/>
<circle cx="654.6" cy="98.1" r="5.9"/>
<circle cx="578.8" cy="104.2" r="5.9"/>
<circle cx="584.2" cy="102.4" r="5.9"/>
<circle cx="586.6" cy="102.1" r="5.9"/>
<circle cx="592.9" cy="103.7" r="5.9"/>
<circle cx="599.1" cy="103.8" r="5.9"/>
<circle cx="603.3" cy="104.0" r="5.9"/>
<circle cx="607.7" cy="103.3" r="5.9"/>
<circle cx="611.4" cy="104.0" r="5.9"/>
<circle cx="617.0" cy="104.4" r="5.9"/>
<circle cx="623.3" cy="102.6" r="5.9"/>
<circle cx="626.7" cy="102.4" r="5.9"/>
<circle cx="633.2" cy="103.8" r="5.9"/>
<circle cx="636.7" cy="101.9" r="5.9"/>
<circle cx="642.9" cy="103.4" r="5.9"/>
<circle cx="647.5" cy="102.3" r="5.9"/>
<circle cx="653.1" cy="101.7" r="5.9"/>
<circle cx="657.2" cy="103.1" r="5.9"/>
<circle cx="585.8" cy="108.8" r="5.9"/>
<circle cx="589.5" cy="106.1" r="5.9"/>
<circle cx="594.8" cy="107.3" r="5.9"/>
<circle cx="600.9" cy="106.6" r="5.9"/>
<circle cx="606.2" cy="108.2" r="5.9"/>
<circle cx="610.3" cy="106.6" r="5.9"/>
<circle cx="616.7" cy="106.9" r="5.9"/>
<circle cx="621.3" cy="106.7" r="5.9"/>
<circle cx="624.5" cy="108.3" r="5.9"/>
<circle cx="629.7" cy="108.9" r="5.9"/>
<circle cx="635.3" cy="106.6" r="5.9"/>
<circle cx="639.5" cy="107.3" r="5.9"/>
<circle cx="645.8" cy="108.8" r="5.9"/>
<circle cx="649.3" cy="107.2" r="5.9"/>
<circle cx="654.5" cy="108.9" r="5.9"/>
<circle cx="659.2" cy="106.2" r="5.9"/>
<circle cx="582.4" cy="111.3" r="5.9"/>
<circle cx="586.8" cy="110.3" r="5.9"/>
<circle cx="592.2" cy="111.4" r="5.9"/>
<circle cx="599.2" cy="110.7" r="5.9"/>
<circle cx="604.2" cy="111.0" r="5.9"/>
<circle cx="607.4" cy="112.8" r="5.9"/>
<circle cx="613.8" cy="111.6" r="5.9"/>
<circle cx="616.5" cy="111.8" r="5.9"/>
<circle cx="622.4" cy="113.1" r="5.9"/>
<circle cx="626.9" cy="111.4" r="5.9"/>
<circle cx="634.0" cy="110.4" r="5.9"/>
<circle cx="637.5" cy="112.8" r="5.9"/>
<circle cx="643.6" cy="110.5" r="5.9"/>
<circle cx="646.4" cy="110.5" r="5.9"/>
<circle cx="581.6" cy="114.7" r="5.9"/>
<circle cx="584.5" cy="116.1" r="5.9"/>
<circle cx="591.7" cy="117.5" r="5.9"/>
<circle cx="595.0" cy="115.4" r="5.9"/>
<circle cx="600.1" cy="116.1" r="5.9"/>
<circle cx="606.6" cy="115.2" r="5.9"/>
<circle cx="611.2" cy="116.9" r="5.9"/>
<circle cx="616.3" cy="117.0" r="5.9"/>
<circle cx="620.6" cy="115.6" r="5.9"/>
<circle cx="624.8" cy="115.7" r="5.9"/>
<circle cx="631.2" cy="114.9" r="5.9"/>
<circle cx="634.4" cy="116.9" r="5.9"/>
<circle cx="639.6" cy="114.9" r="5.9"/>
<circle cx="573.3" cy="119.4" r="5.9"/>
<circle cx="578.8" cy="119.9" r="5.9"/>
<circle cx="583.0" cy="120.1" r="5.9"/>
<circle cx="588.5" cy="119.6" r="5.9"/>
<circle cx="592.1" cy="119.7" r="5.9"/>
<circle cx="596.8" cy="121.6" r="5.9"/>
<circle cx="603.1" cy="120.0" r="5.9"/>
<circle cx="607.5" cy="122.0" r="5.9"/>
<circle cx="612.8" cy="119.7" r="5.9"/>
<circle cx="618.7" cy="121.0" r="5.9"/>
<circle cx="624.3" cy="119.3" r="5.9"/>
<circle cx="627.7" cy="121.5" r="5.9"/>
<circle cx="633.8" cy="121.7" r="5.9"/>
<circle cx="636.4" cy="119.9" r="5.9"/>
<circle cx="641.7" cy="119.6" r="5.9"/>
<circle cx="574.6" cy="125.1" r="5.9"/>
<circle cx="580.8" cy="123.9" r="5.9"/>
<circle cx="583.9" cy="124.3" r="5.9"/>
<circle cx="590.9" cy="123.9" r="5.9"/>
<circle cx="594.8" cy="123.9" r="5.9"/>
<circle cx="601.2" cy="125.0" r="5.9"/>
<circle cx="604.0" cy="123.6" r="5.9"/>
<circle cx="610.0" cy="125.0" r="5.9"/>
<circle cx="615.7" cy="123.6" r="5.9"/>
<circle cx="619.3" cy="125.4" r="5.9"/>
<circle cx="625.0" cy="124.2" r="5.9"/>
<circle cx="629.7" cy="126.2" r="5.9"/>
<circle cx="634.8" cy="125.0" r="5.9"/>
<circle cx="639.9" cy="124.6" r="5.9"/>
<circle cx="646.4" cy="126.3" r="5.9"/>
<circle cx="577.4" cy="129.2" r="5.9"/>
<circle cx="581.8" cy="128.5" r="5.9"/>
<circle cx="587.9" cy="130.4" r="5.9"/>
<circle cx="591.6" cy="129.1" r="5.9"/>
<circle cx="598.7" cy="130.6" r="5.9"/>
<circle cx="601.9" cy="128.0" r="5.9"/>
<circle cx="609.1" cy="130.6" r="5.9"/>
<circle cx="612.8" cy="127.8" r="5.9"/>
<circle cx="619.1" cy="128.8" r="5.9"/>
<circle cx="624.0" cy="129.5" r="5.9"/>
<circle cx="628.8" cy="128.1" r="5.9"/>
<circle cx="633.7" cy="128.3" r="5.9"/>
<circle cx="637.5" cy="130.2" r="5.9"/>
<circle cx="643.8" cy="128.2" r="5.9"/>
<circle cx="647.0" cy="128.9" r="5.9"/>
<circle cx="580.1" cy="133.7" r="5.9"/>
<circle cx="585.1" cy="134.0" r="5.9"/>
<circle cx="590.2" cy="133.3" r="5.9"/>
<circle cx="593.9" cy="133.8" r="5.9"/>
<circle cx="600.3" cy="132.7" r="5.9"/>
<circle cx="606.1" cy="134.3" r="5.9"/>
<circle cx="610.2" cy="132.5" r="5.9"/>
<circle cx="615.2" cy="132.3" r="5.9"/>
<circle cx="619.2" cy="133.3" r="5.9"/>
<circle cx="624.1" cy="133.3" r="5.9"/>
<circle cx="630.3" cy="132.1" r="5.9"/>
<circle cx="635.7" cy="132.2" r="5.9"/>
<circle cx="641.0" cy="134.3" r="5.9"/>
<circle cx="645.4" cy="132.1" r="5.9"/>
<circle cx="650.3" cy="133.1" r="5.9"/>
<circle cx="656.7" cy="132.4" r="5.9"/>
<circle cx="661.4" cy="135.0" r="5.9"/>
<circle cx="584.0" cy="137.1" r="5.9"/>
<circle cx="588.8" cy="136.7" r="5.9"/>
<circle cx="592.8" cy="139.1" r="5.9"/>
<circle cx="596.9" cy="137.1" r="5.9"/>
<circle cx="602.8" cy="137.3" r="5.9"/>
<circle cx="606.4" cy="136.9" r="5.9"/>
<circle cx="611.8" cy="139.1" r="5.9"/>
<circle cx="618.4" cy="139.0" r="5.9"/>
<circle cx="621.8" cy="138.7" r="5.9"/>
<circle cx="626.7" cy="137.9" r="5.9"/>
<circle cx="633.2" cy="137.4" r="5.9"/>
<circle cx="638.9" cy="138.0" r="5.9"/>
<circle cx="643.1" cy="139.0" r="5.9"/>
<circle cx="646.6" cy="139.3" r="5.9"/>
<circle cx="653.2" cy="137.5" r="5.9"/>
<circle cx="658.7" cy="137.1" r="5.9"/>
<circle cx="584.8" cy="140.6" r="5.9"/>
<circle cx="588.9" cy="141.1" r="5.9"/>
<circle cx="595.7" cy="141.9" r="5.9"/>
<circle cx="600.4" cy="143.3" r="5.9"/>
<circle cx="604.2" cy="141.3" r="5.9"/>
<circle cx="610.8" cy="140.7" r="5.9"/>
<circle cx="613.8" cy="141.7" r="5.9"/>
<circle cx="619.1" cy="141.7" r="5.9"/>
<circle cx="624.5" cy="142.4" r="5.9"/>
<circle cx="630.6" cy="141.3" r="5.9"/>
<circle cx="635.7" cy="142.1" r="5.9"/>
<circle cx="639.2" cy="143.5" r="5.9"/>
<circle cx="586.4" cy="146.6" r="5.9"/>
<circle cx="594.1" cy="145.4" r="5.9"/>
<circle cx="596.9" cy="146.8" r="5.9"/>
<circle cx="602.8" cy="146.9" r="5.9"/>
<circle cx="608.8" cy="145.5" r="5.9"/>
<circle cx="612.2" cy="145.9" r="5.9"/>
<circle cx="616.5" cy="147.6" r="5.9"/>
<circle cx="623.7" cy="147.1" r="5.9"/>
<circle cx="626.3" cy="147.5" r="5.9"/>
<circle cx="633.6" cy="146.4" r="5.9"/>
<circle cx="638.5" cy="146.3" r="5.9"/>
<circle cx="642.0" cy="145.3" r="5.9"/>
<circle cx="586.0" cy="152.1" r="5.9"/>
<circle cx="591.1" cy="150.3" r="5.9"/>
<circle cx="596.5" cy="150.3" r="5.9"/>
<circle cx="599.5" cy="152.0" r="5.9"/>
<circle cx="605.7" cy="151.4" r="5.9"/>
<circle cx="610.8" cy="152.2" r="5.9"/>
<circle cx="615.2" cy="151.8" r="5.9"/>
<circle cx="634.5" cy="151.2" r="5.9"/>
<circle cx="639.1" cy="152.0" r="5.9"/>
<circle cx="644.3" cy="149.4" r="5.9"/>
<circle cx="649.1" cy="152.1" r="5.9"/>
<circle cx="586.7" cy="153.7" r="5.9"/>
<circle cx="593.9" cy="156.1" r="5.9"/>
<circle cx="598.2" cy="156.1" r="5.9"/>
<circle cx="603.2" cy="154.5" r="5.9"/>
<circle cx="606.6" cy="153.9" r="5.9"/>
<circle cx="613.6" cy="154.2" r="5.9"/>
<circle cx="639.2" cy="155.1" r="5.9"/>
<circle cx="643.9" cy="155.5" r="5.9"/>
<circle cx="646.4" cy="154.9" r="5.9"/>
<circle cx="652.6" cy="156.0" r="5.9"/>
<circle cx="580.3" cy="160.4" r="5.9"/>
<circle cx="584.4" cy="159.4" r="5.9"/>
<circle cx="589.9" cy="160.5" r="5.9"/>
<circle cx="594.6" cy="160.8" r="5.9"/>
<circle cx="599.7" cy="158.6" r="5.9"/>
<circle cx="605.9" cy="159.5" r="5.9"/>
<circle cx="609.1" cy="159.9" r="5.9"/>
<circle cx="614.1" cy="160.3" r="5.9"/>
<circle cx="636.5" cy="158.2" r="5.9"/>
<circle cx="641.5" cy="158.0" r="5.9"/>
<circle cx="644.4" cy="158.8" r="5.9"/>
<circle cx="651.5" cy="159.5" r="5.9"/>
<circle cx="578.6" cy="164.0" r="5.9"/>
<circle cx="581.7" cy="163.7" r="5.9"/>
<circle cx="589.0" cy="163.0" r="5.9"/>
<circle cx="591.9" cy="163.2" r="5.9"/>
<circle cx="598.4" cy="164.8" r="5.9"/>
<circle cx="601.8" cy="162.8" r="5.9"/>
<circle cx="607.1" cy="163.3" r="5.9"/>
<circle cx="612.9" cy="162.8" r="5.9"/>
<circle cx="624.2" cy="164.5" r="5.9"/>
<circle cx="626.6" cy="165.2" r="5.9"/>
<circle cx="631.6" cy="163.4" r="5.9"/>
<circle cx="639.3" cy="164.7" r="5.9"/>
<circle cx="576.5" cy="167.9" r="5.9"/>
<circle cx="580.5" cy="168.9" r="5.9"/>
<circle cx="585.1" cy="167.3" r="5.9"/>
<circle cx="601.4" cy="168.7" r="5.9"/>
<circle cx="605.7" cy="168.0" r="5.9"/>
<circle cx="609.8" cy="168.5" r="5.9"/>
<circle cx="614.1" cy="167.9" r="5.9"/>
<circle cx="621.2" cy="168.8" r="5.9"/>
<circle cx="625.7" cy="167.4" r="5.9"/>
<circle cx="630.1" cy="168.0" r="5.9"/>
<circle cx="640.8" cy="169.4" r="5.9"/>
<circle cx="577.5" cy="173.8" r="5.9"/>
<circle cx="581.9" cy="173.0" r="5.9"/>
<circle cx="606.4" cy="172.2" r="5.9"/>
<circle cx="612.6" cy="173.0" r="5.9"/>
<circle cx="641.7" cy="173.3" r="5.9"/>
<circle cx="576.4" cy="176.1" r="5.9"/>
<circle cx="579.9" cy="176.0" r="5.9"/>
<circle cx="585.1" cy="175.8" r="5.9"/>
<circle cx="638.9" cy="178.1" r="5.9"/>
<circle cx="645.8" cy="176.0" r="5.9"/>
<circle cx="577.9" cy="181.8" r="5.9"/>
<circle cx="582.6" cy="182.3" r="5.9"/>
<circle cx="588.0" cy="180.4" r="5.9"/>
<circle cx="592.0" cy="180.0" r="5.9"/>
<circle cx="639.2" cy="179.8" r="5.9"/>
<circle cx="643.2" cy="181.5" r="5.9"/>
<circle cx="646.4" cy="181.4" r="5.9"/>
<circle cx="579.4" cy="185.2" r="5.9"/>
<circle cx="585.1" cy="185.6" r="5.9"/>
<circle cx="591.3" cy="184.8" r="5.9"/>
<circle cx="596.3" cy="185.2" r="5.9"/>
<circle cx="600.3" cy="184.8" r="5.9"/>
<circle cx="636.5" cy="185.6" r="5.9"/>
<circle cx="639.0" cy="184.8" r="5.9"/>
<circle cx="643.8" cy="184.5" r="5.9"/>
<circle cx="670.9" cy="185.7" r="5.9"/>
<circle cx="583.3" cy="189.4" r="5.9"/>
<circle cx="588.8" cy="190.6" r="5.9"/>
<circle cx="593.0" cy="189.0" r="5.9"/>
<circle cx="597.2" cy="189.5" r="5.9"/>
<circle cx="602.3" cy="189.6" r="5.9"/>
<circle cx="629.1" cy="189.6" r="5.9"/>
<circle cx="631.4" cy="189.4" r="5.9"/>
<circle cx="638.1" cy="191.1" r="5.9"/>
<circle cx="661.3" cy="190.3" r="5.9"/>
<circle cx="666.7" cy="191.2" r="5.9"/>
<circle cx="671.6" cy="190.9" r="5.9"/>
<circle cx="586.0" cy="195.2" r="5.9"/>
<circle cx="604.6" cy="195.5" r="5.9"/>
<circle cx="624.8" cy="194.8" r="5.9"/>
<circle cx="629.3" cy="195.2" r="5.9"/>
<circle cx="635.3" cy="192.8" r="5.9"/>
<circle cx="639.9" cy="194.3" r="5.9"/>
<circle cx="660.7" cy="193.9" r="5.9"/>
<circle cx="665.0" cy="195.0" r="5.9"/>
<circle cx="671.7" cy="195.0" r="5.9"/>
<circle cx="675.5" cy="193.5" r="5.9"/>
<circle cx="603.7" cy="197.8" r="5.9"/>
<circle cx="606.3" cy="197.7" r="5.9"/>
<circle cx="612.6" cy="198.7" r="5.9"/>
<circle cx="633.0" cy="197.8" r="5.9"/>
<circle cx="638.9" cy="199.4" r="5.9"/>
<circle cx="643.4" cy="199.7" r="5.9"/>
<circle cx="656.9" cy="199.2" r="5.9"/>
<circle cx="664.1" cy="197.6" r="5.9"/>
<circle cx="668.1" cy="199.0" r="5.9"/>
<circle cx="672.7" cy="197.6" r="5.9"/>
<circle cx="599.4" cy="201.8" r="5.9"/>
<circle cx="604.4" cy="203.4" r="5.9"/>
<circle cx="609.9" cy="203.0" r="5.9"/>
<circle cx="615.0" cy="202.8" r="5.9"/>
<circle cx="636.2" cy="201.7" r="5.9"/>
<circle cx="640.6" cy="202.3" r="5.9"/>
<circle cx="645.4" cy="201.3" r="5.9"/>
<circle cx="648.9" cy="204.2" r="5.9"/>
<circle cx="656.4" cy="202.7" r="5.9"/>
<circle cx="660.5" cy="202.0" r="5.9"/>
<circle cx="589.0" cy="205.8" r="5.9"/>
<circle cx="593.1" cy="206.8" r="5.9"/>
<circle cx="596.7" cy="208.5" r="5.9"/>
<circle cx="602.1" cy="207.3" r="5.9"/>
<circle cx="608.2" cy="208.5" r="5.9"/>
<circle cx="613.3" cy="206.8" r="5.9"/>
<circle cx="639.0" cy="208.3" r="5.9"/>
<circle cx="643.8" cy="205.7" r="5.9"/>
<circle cx="648.7" cy="207.7" r="5.9"/>
<circle cx="653.3" cy="208.5" r="5.9"/>
<circle cx="656.5" cy="206.0" r="5.9"/>
<circle cx="639.5" cy="210.1" r="5.9"/>
<circle cx="653.4" cy="15.0" r="5.9"/>
<circle cx="645.9" cy="25.8" r="5.9"/>
<circle cx="618.6" cy="29.3" r="5.9"/>
<circle cx="665.4" cy="48.8" r="5.9"/>
<circle cx="674.2" cy="50.8" r="5.9"/>
<circle cx="661.2" cy="80.6" r="5.9"/>
<circle cx="686.7" cy="96.4" r="5.9"/>
<circle cx="679.2" cy="100.1" r="5.9"/>
<circle cx="696.2" cy="112.6" r="5.9"/>
<circle cx="677.2" cy="119.6" r="5.9"/>
<circle cx="554.1" cy="110.1" r="5.9"/>
<circle cx="549.0" cy="116.4" r="5.9"/>
<circle cx="556.6" cy="118.9" r="5.9"/>
<circle cx="552.8" cy="127.7" r="5.9"/>
<circle cx="569.1" cy="101.4" r="5.9"/>
<circle cx="569.1" cy="133.9" r="5.9"/>
<circle cx="543.5" cy="143.9" r="5.9"/>
<circle cx="559.1" cy="148.9" r="5.9"/>
<circle cx="524.5" cy="153.9" r="5.9"/>
<circle cx="563.6" cy="179.0" r="5.9"/>
<circle cx="522.3" cy="192.7" r="5.9"/>
<circle cx="544.0" cy="192.7" r="5.9"/>
<circle cx="549.0" cy="200.3" r="5.9"/>
<circle cx="554.1" cy="207.8" r="5.9"/>
<circle cx="569.1" cy="197.7" r="5.9"/>
<circle cx="574.1" cy="185.2" r="5.9"/>
<circle cx="567.8" cy="207.8" r="5.9"/>
<circle cx="647.7" cy="77.6" r="5.9"/>
<circle cx="642.7" cy="82.6" r="5.9"/>
<circle cx="664.7" cy="95.4" r="5.9"/>
<circle cx="667.9" cy="101.4" r="5.9"/>
<circle cx="671.4" cy="108.1" r="5.9"/>
<circle cx="680.0" cy="131.7" r="5.9"/>
<circle cx="685.0" cy="136.9" r="5.9"/>
<circle cx="691.7" cy="140.2" r="5.9"/>
<circle cx="699.2" cy="138.4" r="5.9"/>
<circle cx="664.7" cy="132.7" r="5.9"/>
<circle cx="671.4" cy="134.4" r="5.9"/>
<circle cx="692.5" cy="141.2" r="5.9"/>
<circle cx="685.7" cy="144.4" r="5.9"/>
<circle cx="679.0" cy="146.9" r="5.9"/>
<circle cx="672.2" cy="150.4" r="5.9"/>
<circle cx="665.4" cy="153.7" r="5.9"/>
<circle cx="659.7" cy="178.2" r="5.9"/>
<circle cx="666.4" cy="175.7" r="5.9"/>
<circle cx="673.2" cy="173.5" r="5.9"/>
<circle cx="680.0" cy="171.5" r="5.9"/>
<circle cx="686.7" cy="169.5" r="5.9"/>
<circle cx="693.5" cy="167.2" r="5.9"/>
<circle cx="699.2" cy="165.7" r="5.9"/>
<circle cx="667.9" cy="188.5" r="5.9"/>
<circle cx="674.7" cy="192.0" r="5.9"/>
<circle cx="678.2" cy="197.0" r="5.9"/>
<circle cx="671.4" cy="198.7" r="5.9"/>
<circle cx="573.8" cy="118.4" r="5.9"/>
<circle cx="664.2" cy="207.8" r="5.9"/>
<circle cx="674.2" cy="205.3" r="5.9"/>
<circle cx="551.2" cy="214.7" r="5.9"/>
<circle cx="586.8" cy="213.8" r="5.9"/>
<circle cx="602.0" cy="216.4" r="5.9"/>
<circle cx="598.6" cy="221.5" r="5.9"/>
<circle cx="600.3" cy="227.4" r="5.9"/>
<circle cx="613.9" cy="218.1" r="5.9"/>
<circle cx="619.0" cy="223.2" r="5.9"/>
<circle cx="615.6" cy="229.1" r="5.9"/>
<circle cx="625.7" cy="219.8" r="5.9"/>
<circle cx="632.5" cy="218.1" r="5.9"/>
<circle cx="639.3" cy="216.4" r="5.9"/>
<circle cx="632.5" cy="224.9" r="5.9"/>
<circle cx="624.0" cy="227.4" r="5.9"/>
<circle cx="580.9" cy="232.5" r="5.9"/>
<circle cx="585.1" cy="238.4" r="5.9"/>
<circle cx="652.8" cy="235.0" r="5.9"/>
<circle cx="626.6" cy="243.5" r="5.9"/>
<circle cx="623.2" cy="251.9" r="5.9"/>
<circle cx="595.3" cy="268.0" r="5.9"/>
<circle cx="608.8" cy="265.5" r="5.9"/>
<circle cx="617.3" cy="262.9" r="5.9"/>
<circle cx="606.3" cy="272.3" r="5.9"/>
<circle cx="613.9" cy="275.6" r="5.9"/>
<circle cx="608.8" cy="280.7" r="5.9"/>
<circle cx="600.3" cy="282.4" r="5.9"/>
<circle cx="603.7" cy="289.2" r="5.9"/>
<circle cx="629.1" cy="280.7" r="5.9"/>
<circle cx="632.5" cy="287.5" r="5.9"/>
<circle cx="635.9" cy="292.6" r="5.9"/>
<circle cx="625.7" cy="293.4" r="5.9"/>
<circle cx="595.3" cy="294.3" r="5.9"/>
<circle cx="579.2" cy="293.4" r="5.9"/>
<circle cx="563.9" cy="296.8" r="5.9"/>
<circle cx="535.2" cy="306.1" r="5.9"/>
<circle cx="539.4" cy="312.9" r="5.9"/>
<circle cx="555.5" cy="311.2" r="5.9"/>
<circle cx="569.9" cy="312.0" r="5.9"/>
<circle cx="568.2" cy="318.0" r="5.9"/>
<circle cx="613.9" cy="304.4" r="5.9"/>
<circle cx="622.3" cy="304.4" r="5.9"/>
<circle cx="630.8" cy="302.7" r="5.9"/>
<circle cx="615.6" cy="311.2" r="5.9"/>
<circle cx="610.5" cy="318.0" r="5.9"/>
<circle cx="617.3" cy="323.0" r="5.9"/>
<circle cx="624.0" cy="318.0" r="5.9"/>
<circle cx="613.9" cy="329.8" r="5.9"/>
<circle cx="608.8" cy="334.9" r="5.9"/>
<circle cx="622.3" cy="329.8" r="5.9"/>
<circle cx="635.9" cy="321.3" r="5.9"/>
<circle cx="598.6" cy="331.5" r="5.9"/>
<circle cx="602.0" cy="341.7" r="5.9"/>
<circle cx="608.8" cy="346.7" r="5.9"/>
<circle cx="615.6" cy="345.0" r="5.9"/>
<circle cx="624.0" cy="346.7" r="5.9"/>
<circle cx="629.1" cy="341.7" r="5.9"/>
<circle cx="598.6" cy="351.8" r="5.9"/>
<circle cx="579.2" cy="335.7" r="5.9"/>
<circle cx="585.1" cy="346.7" r="5.9"/>
<circle cx="652.8" cy="337.4" r="5.9"/>
<circle cx="594.4" cy="303.6" r="5.9"/>
<circle cx="593.6" cy="312.9" r="5.9"/>
<circle cx="590.2" cy="321.3" r="5.9"/>
<circle cx="597.0" cy="324.7" r="5.9"/>
<circle cx="606.3" cy="309.5" r="5.9"/>
<circle cx="607.1" cy="321.3" r="5.9"/>
<circle cx="585.1" cy="314.6" r="5.9"/>
<circle cx="608.8" cy="223.2" r="5.9"/>
<circle cx="622.3" cy="216.4" r="5.9"/>
<circle cx="608.8" cy="214.7" r="5.9"/>
<circle cx="593.6" cy="218.1" r="5.9"/>
<circle cx="576.6" cy="360.4" r="5.9"/>
<circle cx="598.6" cy="362.1" r="5.9"/>
<circle cx="603.7" cy="368.9" r="5.9"/>
<circle cx="608.8" cy="375.6" r="5.9"/>
<circle cx="615.6" cy="373.9" r="5.9"/>
<circle cx="622.3" cy="360.4" r="5.9"/>
<circle cx="605.4" cy="380.7" r="5.9"/>
<circle cx="622.3" cy="387.5" r="5.9"/>
<circle cx="644.4" cy="378.2" r="5.9"/>
<circle cx="539.4" cy="390.9" r="5.9"/>
<circle cx="542.8" cy="399.3" r="5.9"/>
<circle cx="574.9" cy="395.9" r="5.9"/>
<circle cx="585.9" cy="392.6" r="5.9"/>
<circle cx="611.3" cy="405.2" r="5.9"/>
<circle cx="622.3" cy="397.6" r="5.9"/>
<circle cx="649.4" cy="399.3" r="5.9"/>
<circle cx="651.1" cy="406.1" r="5.9"/>
<circle cx="586.8" cy="415.4" r="5.9"/>
<circle cx="634.2" cy="416.3" r="5.9"/>
<circle cx="613.9" cy="423.0" r="5.9"/>
<circle cx="619.0" cy="424.7" r="5.9"/>
<circle cx="603.7" cy="429.8" r="5.9"/>
<circle cx="629.1" cy="435.7" r="5.9"/>
<circle cx="610.5" cy="453.5" r="5.9"/>
<circle cx="615.6" cy="451.8" r="5.9"/>
<circle cx="624.0" cy="358.7" r="5.9"/>
<circle cx="735.1" cy="273.6" r="5.9"/>
<circle cx="734.6" cy="343.2" r="5.9"/>
<circle cx="654.5" cy="234.8" r="5.9"/>
<circle cx="686.3" cy="230.5" r="5.9"/>
<circle cx="652.0" cy="337.4" r="5.9"/>
</g>
<g fill="#ffff00">
<circle cx="284.0" cy="623.7" r="5.9"/>
<circle cx="504.2" cy="397.7" r="5.9"/>
<circle cx="616.4" cy="368.0" r="5.9"/>
<circle cx="535.2" cy="399.3" r="5.9"/>
<circle cx="556.3" cy="414.6" r="5.9"/>
<circle cx="575.8" cy="417.1" r="5.9"/>
<circle cx="563.9" cy="429.8" r="5.9"/>
<circle cx="552.9" cy="426.4" r="5.9"/>
<circle cx="536.9" cy="443.3" r="5.9"/>
<circle cx="598.6" cy="445.9" r="5.9"/>
<circle cx="576.6" cy="475.5" r="5.9"/>
<circle cx="542.8" cy="495.8" r="5.9"/>
<circle cx="551.2" cy="497.5" r="5.9"/>
<circle cx="559.7" cy="492.4" r="5.9"/>
<circle cx="566.5" cy="485.7" r="5.9"/>
<circle cx="569.9" cy="492.4" r="5.9"/>
<circle cx="530.9" cy="497.5" r="5.9"/>
<circle cx="602.0" cy="492.4" r="5.9"/>
<circle cx="624.0" cy="497.5" r="5.9"/>
<circle cx="632.5" cy="496.7" r="5.9"/>
<circle cx="641.0" cy="498.4" r="5.9"/>
<circle cx="649.4" cy="497.5" r="5.9"/>
<circle cx="520.7" cy="500.6" r="5.9"/>
<circle cx="527.8" cy="503.0" r="5.9"/>
<circle cx="530.9" cy="503.1" r="5.9"/>
<circle cx="537.4" cy="501.4" r="5.9"/>
<circle cx="541.8" cy="503.3" r="5.9"/>
<circle cx="546.5" cy="503.3" r="5.9"/>
<circle cx="550.7" cy="501.6" r="5.9"/>
<circle cx="557.2" cy="501.1" r="5.9"/>
<circle cx="560.9" cy="503.1" r="5.9"/>
<circle cx="566.5" cy="502.8" r="5.9"/>
<circle cx="570.7" cy="501.0" r="5.9"/>
<circle cx="576.1" cy="501.0" r="5.9"/>
<circle cx="582.9" cy="501.3" r="5.9"/>
<circle cx="586.7" cy="500.8" r="5.9"/>
<circle cx="591.6" cy="501.6" r="5.9"/>
<circle cx="596.2" cy="500.6" r="5.9"/>
<circle cx="600.4" cy="502.9" r="5.9"/>
<circle cx="606.1" cy="501.2" r="5.9"/>
<circle cx="610.6" cy="501.3" r="5.9"/>
<circle cx="615.7" cy="500.5" r="5.9"/>
<circle cx="622.0" cy="501.5" r="5.9"/>
<circle cx="625.5" cy="502.6" r="5.9"/>
<circle cx="630.3" cy="501.3" r="5.9"/>
<circle cx="637.5" cy="500.8" r="5.9"/>
<circle cx="641.3" cy="503.0" r="5.9"/>
<circle cx="647.4" cy="500.9" r="5.9"/>
<circle cx="518.1" cy="507.6" r="5.9"/>
<circle cx="524.0" cy="505.5" r="5.9"/>
<circle cx="528.9" cy="505.2" r="5.9"/>
<circle cx="534.6" cy="505.6" r="5.9"/>
<circle cx="540.2" cy="506.5" r="5.9"/>
<circle cx="543.6" cy="505.5" r="5.9"/>
<circle cx="549.3" cy="505.4" r="5.9"/>
<circle cx="555.1" cy="505.1" r="5.9"/>
<circle cx="559.0" cy="506.4" r="5.9"/>
<circle cx="563.3" cy="507.1" r="5.9"/>
<circle cx="568.7" cy="506.7" r="5.9"/>
<circle cx="574.2" cy="505.7" r="5.9"/>
<circle cx="578.7" cy="505.0" r="5.9"/>
<circle cx="583.0" cy="507.3" r="5.9"/>
<circle cx="588.5" cy="506.8" r="5.9"/>
<circle cx="592.8" cy="506.5" r="5.9"/>
<circle cx="598.6" cy="506.3" r="5.9"/>
<circle cx="603.4" cy="505.0" r="5.9"/>
<circle cx="608.4" cy="505.5" r="5.9"/>
<circle cx="612.9" cy="506.9" r="5.9"/>
<circle cx="618.3" cy="506.0" r="5.9"/>
<circle cx="644.5" cy="505.8" r="5.9"/>
<circle cx="648.7" cy="506.8" r="5.9"/>
<circle cx="517.5" cy="510.2" r="5.9"/>
<circle cx="521.9" cy="509.6" r="5.9"/>
<circle cx="525.3" cy="511.8" r="5.9"/>
<circle cx="532.2" cy="511.2" r="5.9"/>
<circle cx="535.1" cy="509.2" r="5.9"/>
<circle cx="540.5" cy="509.7" r="5.9"/>
<circle cx="545.9" cy="510.2" r="5.9"/>
<circle cx="550.1" cy="510.0" r="5.9"/>
<circle cx="556.9" cy="509.6" r="5.9"/>
<circle cx="562.5" cy="510.8" r="5.9"/>
<circle cx="567.1" cy="509.9" r="5.9"/>
<circle cx="571.3" cy="511.2" r="5.9"/>
<circle cx="576.0" cy="509.1" r="5.9"/>
<circle cx="582.5" cy="511.4" r="5.9"/>
<circle cx="585.9" cy="509.2" r="5.9"/>
<circle cx="592.6" cy="510.9" r="5.9"/>
<circle cx="595.1" cy="509.8" r="5.9"/>
<circle cx="600.3" cy="511.5" r="5.9"/>
<circle cx="605.6" cy="511.8" r="5.9"/>
<circle cx="612.2" cy="509.4" r="5.9"/>
<circle cx="617.1" cy="510.3" r="5.9"/>
<circle cx="646.9" cy="510.5" r="5.9"/>
<circle cx="650.2" cy="511.2" r="5.9"/>
<circle cx="520.3" cy="513.8" r="5.9"/>
<circle cx="524.8" cy="513.6" r="5.9"/>
<circle cx="529.6" cy="515.9" r="5.9"/>
<circle cx="533.3" cy="515.1" r="5.9"/>
<circle cx="540.4" cy="515.3" r="5.9"/>
<circle cx="544.1" cy="514.2" r="5.9"/>
<circle cx="547.7" cy="514.5" r="5.9"/>
<circle cx="553.7" cy="514.0" r="5.9"/>
<circle cx="558.4" cy="513.8" r="5.9"/>
<circle cx="564.6" cy="515.4" r="5.9"/>
<circle cx="568.2" cy="514.2" r="5.9"/>
<circle cx="574.0" cy="514.8" r="5.9"/>
<circle cx="580.3" cy="514.5" r="5.9"/>
<circle cx="583.4" cy="516.1" r="5.9"/>
<circle cx="587.9" cy="515.1" r="5.9"/>
<circle cx="593.5" cy="515.9" r="5.9"/>
<circle cx="599.1" cy="515.7" r="5.9"/>
<circle cx="603.0" cy="515.4" r="5.9"/>
<circle cx="609.3" cy="514.8" r="5.9"/>
<circle cx="614.8" cy="515.9" r="5.9"/>
<circle cx="617.8" cy="514.3" r="5.9"/>
<circle cx="643.5" cy="514.8" r="5.9"/>
<circle cx="648.6" cy="513.9" r="5.9"/>
<circle cx="518.0" cy="520.0" r="5.9"/>
<circle cx="520.3" cy="519.9" r="5.9"/>
<circle cx="527.9" cy="519.5" r="5.9"/>
<circle cx="530.3" cy="519.2" r="5.9"/>
<circle cx="536.3" cy="518.3" r="5.9"/>
<circle cx="541.6" cy="517.8" r="5.9"/>
<circle cx="547.8" cy="519.7" r="5.9"/>
<circle cx="551.9" cy="520.6" r="5.9"/>
<circle cx="557.0" cy="518.5" r="5.9"/>
<circle cx="560.7" cy="518.2" r="5.9"/>
<circle cx="565.1" cy="520.1" r="5.9"/>
<circle cx="572.5" cy="518.7" r="5.9"/>
<circle cx="575.6" cy="519.7" r="5.9"/>
<circle cx="582.5" cy="520.5" r="5.9"/>
<circle cx="585.5" cy="520.1" r="5.9"/>
<circle cx="592.5" cy="520.0" r="5.9"/>
<circle cx="596.0" cy="518.3" r="5.9"/>
<circle cx="602.5" cy="518.7" r="5.9"/>
<circle cx="606.1" cy="519.4" r="5.9"/>
<circle cx="611.1" cy="520.3" r="5.9"/>
<circle cx="615.7" cy="517.9" r="5.9"/>
<circle cx="621.7" cy="519.6" r="5.9"/>
<circle cx="627.5" cy="519.9" r="5.9"/>
<circle cx="632.7" cy="520.6" r="5.9"/>
<circle cx="636.5" cy="519.3" r="5.9"/>
<circle cx="640.5" cy="518.7" r="5.9"/>
<circle cx="646.7" cy="518.0" r="5.9"/>
<circle cx="517.8" cy="522.2" r="5.9"/>
<circle cx="523.8" cy="522.7" r="5.9"/>
<circle cx="529.7" cy="522.1" r="5.9"/>
<circle cx="539.9" cy="523.4" r="5.9"/>
<circle cx="543.3" cy="524.1" r="5.9"/>
<circle cx="549.0" cy="523.4" r="5.9"/>
<circle cx="553.5" cy="523.4" r="5.9"/>
<circle cx="559.5" cy="524.6" r="5.9"/>
<circle cx="565.2" cy="522.6" r="5.9"/>
<circle cx="568.4" cy="523.4" r="5.9"/>
<circle cx="574.2" cy="523.1" r="5.9"/>
<circle cx="578.1" cy="522.3" r="5.9"/>
<circle cx="583.5" cy="523.5" r="5.9"/>
<circle cx="590.4" cy="524.8" r="5.9"/>
<circle cx="595.1" cy="525.0" r="5.9"/>
<circle cx="600.4" cy="524.0" r="5.9"/>
<circle cx="604.9" cy="522.3" r="5.9"/>
<circle cx="609.5" cy="523.9" r="5.9"/>
<circle cx="613.4" cy="523.8" r="5.9"/>
<circle cx="620.4" cy="523.5" r="5.9"/>
<circle cx="624.4" cy="523.0" r="5.9"/>
<circle cx="628.5" cy="524.7" r="5.9"/>
<circle cx="632.6" cy="522.7" r="5.9"/>
<circle cx="639.5" cy="523.4" r="5.9"/>
<circle cx="642.8" cy="524.1" r="5.9"/>
<circle cx="648.6" cy="523.8" r="5.9"/>
<circle cx="520.3" cy="527.0" r="5.9"/>
<circle cx="541.6" cy="527.2" r="5.9"/>
<circle cx="546.5" cy="528.1" r="5.9"/>
<circle cx="550.7" cy="528.1" r="5.9"/>
<circle cx="555.3" cy="528.0" r="5.9"/>
<circle cx="561.8" cy="526.7" r="5.9"/>
<circle cx="566.2" cy="526.6" r="5.9"/>
<circle cx="576.7" cy="528.6" r="5.9"/>
<circle cx="582.3" cy="526.8" r="5.9"/>
<circle cx="588.0" cy="528.6" r="5.9"/>
<circle cx="590.3" cy="528.9" r="5.9"/>
<circle cx="596.2" cy="526.9" r="5.9"/>
<circle cx="602.9" cy="528.1" r="5.9"/>
<circle cx="607.3" cy="526.8" r="5.9"/>
<circle cx="612.3" cy="526.6" r="5.9"/>
<circle cx="615.7" cy="527.5" r="5.9"/>
<circle cx="620.0" cy="528.2" r="5.9"/>
<circle cx="625.6" cy="527.3" r="5.9"/>
<circle cx="632.1" cy="527.7" r="5.9"/>
<circle cx="637.7" cy="528.3" r="5.9"/>
<circle cx="642.6" cy="528.1" r="5.9"/>
<circle cx="647.8" cy="529.0" r="5.9"/>
<circle cx="650.5" cy="528.7" r="5.9"/>
<circle cx="519.5" cy="533.2" r="5.9"/>
<circle cx="522.9" cy="531.9" r="5.9"/>
<circle cx="544.1" cy="533.2" r="5.9"/>
<circle cx="547.8" cy="533.5" r="5.9"/>
<circle cx="554.5" cy="531.5" r="5.9"/>
<circle cx="558.1" cy="532.1" r="5.9"/>
<circle cx="583.4" cy="532.8" r="5.9"/>
<circle cx="588.6" cy="531.2" r="5.9"/>
<circle cx="595.1" cy="532.4" r="5.9"/>
<circle cx="599.6" cy="533.2" r="5.9"/>
<circle cx="605.3" cy="530.8" r="5.9"/>
<circle cx="608.5" cy="531.2" r="5.9"/>
<circle cx="614.0" cy="533.4" r="5.9"/>
<circle cx="619.9" cy="530.9" r="5.9"/>
<circle cx="623.0" cy="533.2" r="5.9"/>
<circle cx="629.5" cy="531.9" r="5.9"/>
<circle cx="633.9" cy="531.2" r="5.9"/>
<circle cx="640.0" cy="531.9" r="5.9"/>
<circle cx="645.1" cy="532.6" r="5.9"/>
<circle cx="647.7" cy="531.7" r="5.9"/>
<circle cx="520.5" cy="536.2" r="5.9"/>
<circle cx="526.4" cy="536.8" r="5.9"/>
<circle cx="531.2" cy="536.1" r="5.9"/>
<circle cx="535.0" cy="536.8" r="5.9"/>
<circle cx="541.0" cy="535.1" r="5.9"/>
<circle cx="546.4" cy="538.0" r="5.9"/>
<circle cx="550.1" cy="535.5" r="5.9"/>
<circle cx="557.0" cy="535.9" r="5.9"/>
<circle cx="560.8" cy="536.6" r="5.9"/>
<circle cx="581.7" cy="537.4" r="5.9"/>
<circle cx="587.6" cy="537.4" r="5.9"/>
<circle cx="591.9" cy="537.0" r="5.9"/>
<circle cx="596.1" cy="535.9" r="5.9"/>
<circle cx="621.9" cy="536.1" r="5.9"/>
<circle cx="626.7" cy="536.3" r="5.9"/>
<circle cx="630.2" cy="536.1" r="5.9"/>
<circle cx="636.0" cy="538.0" r="5.9"/>
<circle cx="641.4" cy="536.2" r="5.9"/>
<circle cx="645.7" cy="535.8" r="5.9"/>
<circle cx="524.2" cy="540.3" r="5.9"/>
<circle cx="528.0" cy="539.6" r="5.9"/>
<circle cx="533.4" cy="540.3" r="5.9"/>
<circle cx="539.7" cy="541.1" r="5.9"/>
<circle cx="545.3" cy="540.4" r="5.9"/>
<circle cx="550.3" cy="541.2" r="5.9"/>
<circle cx="552.7" cy="540.0" r="5.9"/>
<circle cx="559.2" cy="542.4" r="5.9"/>
<circle cx="563.6" cy="541.7" r="5.9"/>
<circle cx="568.8" cy="542.0" r="5.9"/>
<circle cx="580.2" cy="540.2" r="5.9"/>
<circle cx="583.3" cy="539.5" r="5.9"/>
<circle cx="588.0" cy="540.2" r="5.9"/>
<circle cx="594.6" cy="540.1" r="5.9"/>
<circle cx="598.7" cy="540.0" r="5.9"/>
<circle cx="624.9" cy="542.0" r="5.9"/>
<circle cx="628.5" cy="539.8" r="5.9"/>
<circle cx="633.1" cy="541.0" r="5.9"/>
<circle cx="640.1" cy="541.3" r="5.9"/>
<circle cx="645.3" cy="540.1" r="5.9"/>
<circle cx="648.5" cy="541.7" r="5.9"/>
<circle cx="525.1" cy="545.6" r="5.9"/>
<circle cx="531.0" cy="545.2" r="5.9"/>
<circle cx="536.8" cy="544.5" r="5.9"/>
<circle cx="541.4" cy="543.8" r="5.9"/>
<circle cx="547.8" cy="545.4" r="5.9"/>
<circle cx="553.0" cy="543.9" r="5.9"/>
<circle cx="556.8" cy="545.9" r="5.9"/>
<circle cx="561.0" cy="544.0" r="5.9"/>
<circle cx="565.5" cy="544.2" r="5.9"/>
<circle cx="572.3" cy="544.0" r="5.9"/>
<circle cx="577.4" cy="545.0" r="5.9"/>
<circle cx="581.6" cy="545.5" r="5.9"/>
<circle cx="586.7" cy="545.7" r="5.9"/>
<circle cx="591.8" cy="544.7" r="5.9"/>
<circle cx="597.2" cy="544.5" r="5.9"/>
<circle cx="602.1" cy="546.0" r="5.9"/>
<circle cx="621.6" cy="546.6" r="5.9"/>
<circle cx="625.4" cy="543.8" r="5.9"/>
<circle cx="631.4" cy="545.7" r="5.9"/>
<circle cx="637.3" cy="544.8" r="5.9"/>
<circle cx="643.0" cy="544.4" r="5.9"/>
<circle cx="647.3" cy="544.0" r="5.9"/>
<circle cx="650.1" cy="544.1" r="5.9"/>
<circle cx="525.3" cy="549.2" r="5.9"/>
<circle cx="527.9" cy="548.6" r="5.9"/>
<circle cx="534.7" cy="550.8" r="5.9"/>
<circle cx="538.0" cy="548.2" r="5.9"/>
<circle cx="544.8" cy="548.8" r="5.9"/>
<circle cx="550.4" cy="549.6" r="5.9"/>
<circle cx="554.4" cy="549.1" r="5.9"/>
<circle cx="559.9" cy="549.5" r="5.9"/>
<circle cx="563.5" cy="550.8" r="5.9"/>
<circle cx="567.8" cy="550.3" r="5.9"/>
<circle cx="572.7" cy="550.0" r="5.9"/>
<circle cx="578.7" cy="550.7" r="5.9"/>
<circle cx="582.7" cy="549.8" r="5.9"/>
<circle cx="588.7" cy="550.8" r="5.9"/>
<circle cx="595.3" cy="550.0" r="5.9"/>
<circle cx="598.2" cy="548.8" r="5.9"/>
<circle cx="603.3" cy="549.4" r="5.9"/>
<circle cx="608.2" cy="548.7" r="5.9"/>
<circle cx="614.8" cy="550.0" r="5.9"/>
<circle cx="618.4" cy="551.1" r="5.9"/>
<circle cx="623.1" cy="549.8" r="5.9"/>
<circle cx="628.0" cy="550.7" r="5.9"/>
<circle cx="635.1" cy="548.9" r="5.9"/>
<circle cx="639.8" cy="550.5" r="5.9"/>
<circle cx="643.3" cy="549.1" r="5.9"/>
<circle cx="649.0" cy="550.7" r="5.9"/>
<circle cx="521.7" cy="555.1" r="5.9"/>
<circle cx="525.6" cy="555.1" r="5.9"/>
<circle cx="531.1" cy="554.7" r="5.9"/>
<circle cx="537.6" cy="553.0" r="5.9"/>
<circle cx="542.6" cy="555.4" r="5.9"/>
<circle cx="545.9" cy="552.5" r="5.9"/>
<circle cx="550.3" cy="555.3" r="5.9"/>
<circle cx="555.0" cy="555.1" r="5.9"/>
<circle cx="560.5" cy="554.6" r="5.9"/>
<circle cx="565.3" cy="552.9" r="5.9"/>
<circle cx="572.0" cy="552.7" r="5.9"/>
<circle cx="576.0" cy="555.2" r="5.9"/>
<circle cx="582.1" cy="555.1" r="5.9"/>
<circle cx="587.9" cy="552.5" r="5.9"/>
<circle cx="590.7" cy="554.8" r="5.9"/>
<circle cx="597.1" cy="552.5" r="5.9"/>
<circle cx="601.5" cy="553.1" r="5.9"/>
<circle cx="606.3" cy="552.7" r="5.9"/>
<circle cx="610.1" cy="555.4" r="5.9"/>
<circle cx="615.9" cy="555.0" r="5.9"/>
<circle cx="620.4" cy="553.9" r="5.9"/>
<circle cx="625.4" cy="553.7" r="5.9"/>
<circle cx="630.5" cy="554.5" r="5.9"/>
<circle cx="635.4" cy="554.6" r="5.9"/>
<circle cx="641.5" cy="552.7" r="5.9"/>
<circle cx="646.1" cy="553.9" r="5.9"/>
<circle cx="520.1" cy="558.9" r="5.9"/>
<circle cx="523.3" cy="557.3" r="5.9"/>
<circle cx="528.3" cy="556.9" r="5.9"/>
<circle cx="543.6" cy="556.8" r="5.9"/>
<circle cx="549.6" cy="558.7" r="5.9"/>
<circle cx="554.1" cy="558.4" r="5.9"/>
<circle cx="559.6" cy="559.7" r="5.9"/>
<circle cx="565.1" cy="558.9" r="5.9"/>
<circle cx="568.7" cy="557.7" r="5.9"/>
<circle cx="573.8" cy="559.7" r="5.9"/>
<circle cx="578.7" cy="557.9" r="5.9"/>
<circle cx="583.7" cy="557.2" r="5.9"/>
<circle cx="590.5" cy="556.7" r="5.9"/>
<circle cx="594.3" cy="559.5" r="5.9"/>
<circle cx="598.3" cy="558.6" r="5.9"/>
<circle cx="603.6" cy="557.5" r="5.9"/>
<circle cx="608.1" cy="557.1" r="5.9"/>
<circle cx="615.0" cy="559.1" r="5.9"/>
<circle cx="620.2" cy="556.9" r="5.9"/>
<circle cx="624.6" cy="557.7" r="5.9"/>
<circle cx="629.4" cy="558.4" r="5.9"/>
<circle cx="633.4" cy="559.6" r="5.9"/>
<circle cx="637.5" cy="559.0" r="5.9"/>
<circle cx="645.1" cy="558.3" r="5.9"/>
<circle cx="649.3" cy="559.7" r="5.9"/>
<circle cx="522.1" cy="562.2" r="5.9"/>
<circle cx="526.6" cy="562.9" r="5.9"/>
<circle cx="545.8" cy="563.8" r="5.9"/>
<circle cx="551.4" cy="563.2" r="5.9"/>
<circle cx="556.6" cy="562.5" r="5.9"/>
<circle cx="560.7" cy="561.5" r="5.9"/>
<circle cx="567.8" cy="562.7" r="5.9"/>
<circle cx="571.6" cy="562.6" r="5.9"/>
<circle cx="577.4" cy="561.8" r="5.9"/>
<circle cx="580.5" cy="563.5" r="5.9"/>
<circle cx="586.4" cy="563.0" r="5.9"/>
<circle cx="592.5" cy="563.7" r="5.9"/>
<circle cx="597.6" cy="561.2" r="5.9"/>
<circle cx="601.1" cy="563.6" r="5.9"/>
<circle cx="607.5" cy="561.4" r="5.9"/>
<circle cx="610.5" cy="561.8" r="5.9"/>
<circle cx="615.3" cy="562.1" r="5.9"/>
<circle cx="622.4" cy="562.6" r="5.9"/>
<circle cx="626.4" cy="561.3" r="5.9"/>
<circle cx="631.2" cy="564.1" r="5.9"/>
<circle cx="637.1" cy="562.4" r="5.9"/>
<circle cx="641.4" cy="563.5" r="5.9"/>
<circle cx="647.3" cy="561.5" r="5.9"/>
<circle cx="518.6" cy="566.4" r="5.9"/>
<circle cx="523.6" cy="565.4" r="5.9"/>
<circle cx="528.1" cy="567.1" r="5.9"/>
<circle cx="539.7" cy="566.2" r="5.9"/>
<circle cx="543.5" cy="566.1" r="5.9"/>
<circle cx="550.0" cy="565.7" r="5.9"/>
<circle cx="554.4" cy="568.0" r="5.9"/>
<circle cx="558.1" cy="566.7" r="5.9"/>
<circle cx="564.9" cy="567.2" r="5.9"/>
<circle cx="568.6" cy="565.5" r="5.9"/>
<circle cx="573.8" cy="566.5" r="5.9"/>
<circle cx="579.6" cy="566.3" r="5.9"/>
<circle cx="583.7" cy="567.3" r="5.9"/>
<circle cx="589.9" cy="566.5" r="5.9"/>
<circle cx="593.7" cy="567.1" r="5.9"/>
<circle cx="600.3" cy="566.0" r="5.9"/>
<circle cx="605.4" cy="567.5" r="5.9"/>
<circle cx="608.6" cy="567.4" r="5.9"/>
<circle cx="613.5" cy="565.6" r="5.9"/>
<circle cx="619.8" cy="566.5" r="5.9"/>
<circle cx="624.1" cy="566.9" r="5.9"/>
<circle cx="522.0" cy="571.9" r="5.9"/>
<circle cx="526.2" cy="569.8" r="5.9"/>
<circle cx="532.0" cy="571.4" r="5.9"/>
<circle cx="537.3" cy="572.0" r="5.9"/>
<circle cx="540.4" cy="570.4" r="5.9"/>
<circle cx="545.2" cy="572.2" r="5.9"/>
<circle cx="550.3" cy="570.0" r="5.9"/>
<circle cx="557.3" cy="571.4" r="5.9"/>
<circle cx="560.2" cy="571.8" r="5.9"/>
<circle cx="567.1" cy="571.2" r="5.9"/>
<circle cx="570.2" cy="571.8" r="5.9"/>
<circle cx="576.3" cy="571.5" r="5.9"/>
<circle cx="583.0" cy="572.2" r="5.9"/>
<circle cx="587.6" cy="570.2" r="5.9"/>
<circle cx="591.0" cy="571.3" r="5.9"/>
<circle cx="595.0" cy="572.7" r="5.9"/>
<circle cx="600.8" cy="570.5" r="5.9"/>
<circle cx="605.9" cy="570.5" r="5.9"/>
<circle cx="612.6" cy="571.4" r="5.9"/>
<circle cx="520.3" cy="575.7" r="5.9"/>
<circle cx="522.7" cy="575.0" r="5.9"/>
<circle cx="529.1" cy="575.3" r="5.9"/>
<circle cx="543.4" cy="576.2" r="5.9"/>
<circle cx="549.9" cy="575.8" r="5.9"/>
<circle cx="553.9" cy="576.9" r="5.9"/>
<circle cx="558.8" cy="576.7" r="5.9"/>
<circle cx="562.7" cy="575.4" r="5.9"/>
<circle cx="569.4" cy="574.2" r="5.9"/>
<circle cx="575.1" cy="574.3" r="5.9"/>
<circle cx="579.3" cy="574.6" r="5.9"/>
<circle cx="585.3" cy="575.7" r="5.9"/>
<circle cx="589.9" cy="575.5" r="5.9"/>
<circle cx="594.5" cy="576.1" r="5.9"/>
<circle cx="598.4" cy="574.7" r="5.9"/>
<circle cx="605.0" cy="574.5" r="5.9"/>
<circle cx="642.6" cy="576.6" r="5.9"/>
<circle cx="648.4" cy="574.8" r="5.9"/>
<circle cx="522.7" cy="579.4" r="5.9"/>
<circle cx="527.5" cy="578.8" r="5.9"/>
<circle cx="545.7" cy="580.0" r="5.9"/>
<circle cx="550.3" cy="579.8" r="5.9"/>
<circle cx="557.2" cy="579.7" r="5.9"/>
<circle cx="562.0" cy="578.7" r="5.9"/>
<circle cx="567.5" cy="578.8" r="5.9"/>
<circle cx="572.8" cy="581.4" r="5.9"/>
<circle cx="577.8" cy="580.0" r="5.9"/>
<circle cx="580.9" cy="579.4" r="5.9"/>
<circle cx="587.3" cy="579.9" r="5.9"/>
<circle cx="592.8" cy="578.7" r="5.9"/>
<circle cx="596.5" cy="581.0" r="5.9"/>
<circle cx="631.0" cy="581.2" r="5.9"/>
<circle cx="637.0" cy="578.5" r="5.9"/>
<circle cx="641.0" cy="579.7" r="5.9"/>
<circle cx="519.2" cy="583.0" r="5.9"/>
<circle cx="524.2" cy="585.1" r="5.9"/>
<circle cx="542.9" cy="584.4" r="5.9"/>
<circle cx="548.6" cy="583.8" r="5.9"/>
<circle cx="554.5" cy="583.2" r="5.9"/>
<circle cx="558.0" cy="585.5" r="5.9"/>
<circle cx="563.5" cy="585.2" r="5.9"/>
<circle cx="570.1" cy="584.2" r="5.9"/>
<circle cx="572.9" cy="583.0" r="5.9"/>
<circle cx="580.1" cy="583.1" r="5.9"/>
<circle cx="584.0" cy="584.3" r="5.9"/>
<circle cx="587.9" cy="584.1" r="5.9"/>
<circle cx="593.0" cy="584.3" r="5.9"/>
<circle cx="599.0" cy="583.8" r="5.9"/>
<circle cx="603.1" cy="583.9" r="5.9"/>
<circle cx="619.0" cy="585.4" r="5.9"/>
<circle cx="622.5" cy="585.5" r="5.9"/>
<circle cx="629.0" cy="585.1" r="5.9"/>
<circle cx="634.2" cy="584.8" r="5.9"/>
<circle cx="638.2" cy="585.0" r="5.9"/>
<circle cx="643.0" cy="583.5" r="5.9"/>
<circle cx="517.7" cy="587.3" r="5.9"/>
<circle cx="521.7" cy="587.7" r="5.9"/>
<circle cx="526.8" cy="589.4" r="5.9"/>
<circle cx="542.9" cy="587.2" r="5.9"/>
<circle cx="546.9" cy="589.1" r="5.9"/>
<circle cx="552.4" cy="588.1" r="5.9"/>
<circle cx="557.4" cy="588.4" r="5.9"/>
<circle cx="562.8" cy="587.1" r="5.9"/>
<circle cx="567.8" cy="588.3" r="5.9"/>
<circle cx="571.2" cy="587.3" r="5.9"/>
<circle cx="575.7" cy="589.2" r="5.9"/>
<circle cx="582.0" cy="587.5" r="5.9"/>
<circle cx="586.0" cy="587.5" r="5.9"/>
<circle cx="590.6" cy="587.7" r="5.9"/>
<circle cx="596.0" cy="590.0" r="5.9"/>
<circle cx="603.0" cy="589.4" r="5.9"/>
<circle cx="606.4" cy="588.5" r="5.9"/>
<circle cx="612.3" cy="589.8" r="5.9"/>
<circle cx="617.3" cy="589.0" r="5.9"/>
<circle cx="620.6" cy="588.9" r="5.9"/>
<circle cx="627.5" cy="589.4" r="5.9"/>
<circle cx="630.3" cy="589.2" r="5.9"/>
<circle cx="636.0" cy="587.5" r="5.9"/>
<circle cx="520.0" cy="593.8" r="5.9"/>
<circle cx="524.3" cy="592.7" r="5.9"/>
<circle cx="530.0" cy="593.7" r="5.9"/>
<circle cx="535.1" cy="592.3" r="5.9"/>
<circle cx="540.4" cy="593.0" r="5.9"/>
<circle cx="545.3" cy="591.7" r="5.9"/>
<circle cx="550.4" cy="593.7" r="5.9"/>
<circle cx="553.3" cy="593.9" r="5.9"/>
<circle cx="558.2" cy="592.0" r="5.9"/>
<circle cx="563.9" cy="592.1" r="5.9"/>
<circle cx="569.0" cy="594.1" r="5.9"/>
<circle cx="574.6" cy="593.5" r="5.9"/>
<circle cx="578.7" cy="593.7" r="5.9"/>
<circle cx="584.9" cy="593.4" r="5.9"/>
<circle cx="590.3" cy="593.9" r="5.9"/>
<circle cx="593.7" cy="591.6" r="5.9"/>
<circle cx="599.5" cy="593.9" r="5.9"/>
<circle cx="603.5" cy="593.2" r="5.9"/>
<circle cx="610.0" cy="593.8" r="5.9"/>
<circle cx="612.5" cy="592.8" r="5.9"/>
<circle cx="617.5" cy="591.7" r="5.9"/>
<circle cx="624.9" cy="592.6" r="5.9"/>
<circle cx="629.3" cy="592.7" r="5.9"/>
<circle cx="633.5" cy="592.0" r="5.9"/>
<circle cx="520.4" cy="597.8" r="5.9"/>
<circle cx="525.1" cy="598.2" r="5.9"/>
<circle cx="530.6" cy="596.5" r="5.9"/>
<circle cx="537.9" cy="596.8" r="5.9"/>
<circle cx="540.7" cy="598.4" r="5.9"/>
<circle cx="546.8" cy="598.4" r="5.9"/>
<circle cx="551.2" cy="597.2" r="5.9"/>
<circle cx="557.9" cy="597.2" r="5.9"/>
<circle cx="563.0" cy="596.3" r="5.9"/>
<circle cx="567.5" cy="596.2" r="5.9"/>
<circle cx="571.6" cy="595.7" r="5.9"/>
<circle cx="575.5" cy="598.5" r="5.9"/>
<circle cx="581.4" cy="598.1" r="5.9"/>
<circle cx="585.8" cy="596.8" r="5.9"/>
<circle cx="590.3" cy="597.4" r="5.9"/>
<circle cx="597.6" cy="597.2" r="5.9"/>
<circle cx="601.1" cy="598.5" r="5.9"/>
<circle cx="607.7" cy="597.7" r="5.9"/>
<circle cx="610.2" cy="597.6" r="5.9"/>
<circle cx="616.3" cy="598.6" r="5.9"/>
<circle cx="621.1" cy="597.7" r="5.9"/>
<circle cx="626.9" cy="596.8" r="5.9"/>
<circle cx="520.2" cy="602.2" r="5.9"/>
<circle cx="524.7" cy="600.1" r="5.9"/>
<circle cx="528.5" cy="600.4" r="5.9"/>
<circle cx="535.4" cy="602.7" r="5.9"/>
<circle cx="537.9" cy="601.8" r="5.9"/>
<circle cx="544.2" cy="600.2" r="5.9"/>
<circle cx="548.7" cy="602.3" r="5.9"/>
<circle cx="554.4" cy="600.9" r="5.9"/>
<circle cx="559.8" cy="600.9" r="5.9"/>
<circle cx="564.1" cy="601.3" r="5.9"/>
<circle cx="570.4" cy="602.0" r="5.9"/>
<circle cx="574.9" cy="602.1" r="5.9"/>
<circle cx="578.6" cy="602.9" r="5.9"/>
<circle cx="584.6" cy="602.1" r="5.9"/>
<circle cx="588.3" cy="600.5" r="5.9"/>
<circle cx="594.2" cy="602.5" r="5.9"/>
<circle cx="599.9" cy="601.1" r="5.9"/>
<circle cx="602.9" cy="601.6" r="5.9"/>
<circle cx="610.1" cy="600.5" r="5.9"/>
<circle cx="614.7" cy="600.5" r="5.9"/>
<circle cx="618.4" cy="600.2" r="5.9"/>
<circle cx="517.9" cy="605.2" r="5.9"/>
<circle cx="520.6" cy="607.1" r="5.9"/>
<circle cx="526.4" cy="606.9" r="5.9"/>
<circle cx="531.9" cy="606.7" r="5.9"/>
<circle cx="535.9" cy="604.8" r="5.9"/>
<circle cx="542.3" cy="605.8" r="5.9"/>
<circle cx="546.7" cy="606.4" r="5.9"/>
<circle cx="552.3" cy="605.2" r="5.9"/>
<circle cx="556.1" cy="607.1" r="5.9"/>
<circle cx="561.6" cy="605.2" r="5.9"/>
<circle cx="566.9" cy="605.1" r="5.9"/>
<circle cx="572.3" cy="604.5" r="5.9"/>
<circle cx="577.5" cy="606.1" r="5.9"/>
<circle cx="581.1" cy="607.2" r="5.9"/>
<circle cx="585.8" cy="605.1" r="5.9"/>
<circle cx="590.2" cy="606.0" r="5.9"/>
<circle cx="597.3" cy="606.4" r="5.9"/>
<circle cx="601.2" cy="606.8" r="5.9"/>
<circle cx="605.3" cy="605.3" r="5.9"/>
<circle cx="517.7" cy="609.9" r="5.9"/>
<circle cx="524.0" cy="611.2" r="5.9"/>
<circle cx="529.5" cy="610.4" r="5.9"/>
<circle cx="533.7" cy="610.4" r="5.9"/>
<circle cx="538.3" cy="611.2" r="5.9"/>
<circle cx="544.9" cy="611.2" r="5.9"/>
<circle cx="548.0" cy="610.7" r="5.9"/>
<circle cx="554.8" cy="610.2" r="5.9"/>
<circle cx="560.2" cy="611.4" r="5.9"/>
<circle cx="564.7" cy="611.2" r="5.9"/>
<circle cx="569.4" cy="611.3" r="5.9"/>
<circle cx="572.9" cy="610.8" r="5.9"/>
<circle cx="579.6" cy="610.5" r="5.9"/>
<circle cx="583.3" cy="608.9" r="5.9"/>
<circle cx="589.3" cy="611.2" r="5.9"/>
<circle cx="593.3" cy="609.3" r="5.9"/>
<circle cx="598.2" cy="609.0" r="5.9"/>
<circle cx="520.7" cy="615.4" r="5.9"/>
<circle cx="525.6" cy="615.5" r="5.9"/>
<circle cx="532.4" cy="614.6" r="5.9"/>
<circle cx="535.1" cy="615.4" r="5.9"/>
<circle cx="540.1" cy="614.5" r="5.9"/>
<circle cx="546.3" cy="613.2" r="5.9"/>
<circle cx="551.9" cy="615.2" r="5.9"/>
<circle cx="556.8" cy="614.2" r="5.9"/>
<circle cx="561.5" cy="614.8" r="5.9"/>
<circle cx="565.7" cy="615.6" r="5.9"/>
<circle cx="573.0" cy="615.4" r="5.9"/>
<circle cx="577.9" cy="614.0" r="5.9"/>
<circle cx="583.0" cy="613.2" r="5.9"/>
<circle cx="586.4" cy="613.4" r="5.9"/>
<circle cx="519.7" cy="619.2" r="5.9"/>
<circle cx="523.3" cy="618.4" r="5.9"/>
<circle cx="528.0" cy="619.3" r="5.9"/>
<circle cx="535.5" cy="618.3" r="5.9"/>
<circle cx="537.6" cy="617.9" r="5.9"/>
<circle cx="543.6" cy="620.1" r="5.9"/>
<circle cx="549.9" cy="618.7" r="5.9"/>
<circle cx="552.8" cy="617.7" r="5.9"/>
<circle cx="558.0" cy="619.7" r="5.9"/>
<circle cx="573.9" cy="619.8" r="5.9"/>
<circle cx="577.9" cy="617.7" r="5.9"/>
<circle cx="520.6" cy="622.4" r="5.9"/>
<circle cx="527.7" cy="622.8" r="5.9"/>
<circle cx="530.3" cy="623.5" r="5.9"/>
<circle cx="535.4" cy="622.3" r="5.9"/>
<circle cx="541.4" cy="623.4" r="5.9"/>
<circle cx="546.9" cy="623.8" r="5.9"/>
<circle cx="551.3" cy="621.9" r="5.9"/>
<circle cx="557.2" cy="621.8" r="5.9"/>
<circle cx="518.1" cy="628.4" r="5.9"/>
<circle cx="523.0" cy="627.6" r="5.9"/>
<circle cx="527.8" cy="628.4" r="5.9"/>
<circle cx="535.2" cy="628.8" r="5.9"/>
<circle cx="537.5" cy="628.6" r="5.9"/>
<circle cx="544.2" cy="628.5" r="5.9"/>
<circle cx="549.0" cy="627.9" r="5.9"/>
<circle cx="554.3" cy="628.4" r="5.9"/>
<circle cx="522.2" cy="632.7" r="5.9"/>
<circle cx="527.7" cy="632.9" r="5.9"/>
<circle cx="532.2" cy="630.4" r="5.9"/>
<circle cx="537.0" cy="632.9" r="5.9"/>
<circle cx="541.3" cy="633.0" r="5.9"/>
<circle cx="545.5" cy="633.2" r="5.9"/>
<circle cx="551.3" cy="632.5" r="5.9"/>
<circle cx="517.8" cy="635.3" r="5.9"/>
<circle cx="523.4" cy="637.4" r="5.9"/>
<circle cx="527.5" cy="635.5" r="5.9"/>
<circle cx="534.6" cy="637.6" r="5.9"/>
<circle cx="538.0" cy="636.0" r="5.9"/>
<circle cx="544.6" cy="636.7" r="5.9"/>
<circle cx="549.7" cy="636.9" r="5.9"/>
<circle cx="553.2" cy="635.4" r="5.9"/>
<circle cx="522.7" cy="639.5" r="5.9"/>
<circle cx="527.0" cy="640.8" r="5.9"/>
<circle cx="532.0" cy="639.5" r="5.9"/>
<circle cx="535.4" cy="639.3" r="5.9"/>
<circle cx="542.9" cy="640.2" r="5.9"/>
<circle cx="547.0" cy="640.7" r="5.9"/>
<circle cx="550.7" cy="639.2" r="5.9"/>
<circle cx="545.1" cy="643.7" r="5.9"/>
<circle cx="508.6" cy="434.0" r="5.9"/>
<circle cx="462.9" cy="462.8" r="5.9"/>
<circle cx="499.3" cy="495.0" r="3"/>
<circle cx="472.2" cy="670.4" r="5.9"/>
<circle cx="470.5" cy="681.4" r="5.9"/>
<circle cx="482.3" cy="660.2" r="5.9"/>
<circle cx="489.1" cy="653.5" r="5.9"/>
<circle cx="495.9" cy="650.1" r="5.9"/>
<circle cx="504.4" cy="648.4" r="5.9"/>
<circle cx="512.8" cy="655.2" r="5.9"/>
<circle cx="485.7" cy="685.6" r="5.9"/>
<circle cx="492.5" cy="690.7" r="5.9"/>
<circle cx="501.0" cy="689.9" r="5.9"/>
<circle cx="495.9" cy="680.6" r="5.9"/>
<circle cx="506.0" cy="683.9" r="5.9"/>
<circle cx="512.8" cy="678.9" r="5.9"/>
<circle cx="492.5" cy="672.1" r="5.9"/>
<circle cx="511.1" cy="668.7" r="5.9"/>
<circle cx="666.3" cy="503.0" r="5.9"/>
<circle cx="671.0" cy="502.9" r="5.9"/>
<circle cx="657.8" cy="505.9" r="5.9"/>
<circle cx="661.6" cy="508.6" r="5.9"/>
<circle cx="666.6" cy="508.0" r="5.9"/>
<circle cx="659.9" cy="510.6" r="5.9"/>
<circle cx="665.4" cy="510.4" r="5.9"/>
<circle cx="658.5" cy="516.3" r="5.9"/>
<circle cx="661.3" cy="516.9" r="5.9"/>
<circle cx="666.7" cy="516.8" r="5.9"/>
<circle cx="672.8" cy="516.2" r="5.9"/>
<circle cx="659.4" cy="518.9" r="5.9"/>
<circle cx="665.9" cy="520.8" r="5.9"/>
<circle cx="669.8" cy="520.3" r="5.9"/>
<circle cx="675.9" cy="518.9" r="5.9"/>
<circle cx="679.4" cy="520.8" r="5.9"/>
<circle cx="658.6" cy="525.7" r="5.9"/>
<circle cx="663.7" cy="523.9" r="5.9"/>
<circle cx="667.4" cy="523.4" r="5.9"/>
<circle cx="671.9" cy="523.3" r="5.9"/>
<circle cx="677.3" cy="525.9" r="5.9"/>
<circle cx="683.1" cy="524.1" r="5.9"/>
<circle cx="660.9" cy="527.6" r="5.9"/>
<circle cx="666.2" cy="529.3" r="5.9"/>
<circle cx="669.5" cy="528.6" r="5.9"/>
<circle cx="675.1" cy="529.0" r="5.9"/>
<circle cx="680.9" cy="530.1" r="5.9"/>
<circle cx="684.3" cy="527.4" r="5.9"/>
<circle cx="656.0" cy="534.4" r="5.9"/>
<circle cx="661.9" cy="533.1" r="5.9"/>
<circle cx="668.7" cy="532.3" r="5.9"/>
<circle cx="672.7" cy="531.9" r="5.9"/>
<circle cx="677.5" cy="533.9" r="5.9"/>
<circle cx="681.3" cy="534.0" r="5.9"/>
<circle cx="655.7" cy="538.9" r="5.9"/>
<circle cx="660.5" cy="537.7" r="5.9"/>
<circle cx="665.8" cy="538.5" r="5.9"/>
<circle cx="670.2" cy="538.0" r="5.9"/>
<circle cx="673.8" cy="537.0" r="5.9"/>
<circle cx="679.3" cy="538.6" r="5.9"/>
<circle cx="656.0" cy="543.2" r="5.9"/>
<circle cx="661.9" cy="541.5" r="5.9"/>
<circle cx="668.4" cy="542.0" r="5.9"/>
<circle cx="672.7" cy="541.7" r="5.9"/>
<circle cx="677.2" cy="543.2" r="5.9"/>
<circle cx="660.7" cy="546.0" r="5.9"/>
<circle cx="663.5" cy="547.5" r="5.9"/>
<circle cx="668.7" cy="547.3" r="5.9"/>
<circle cx="673.4" cy="546.6" r="5.9"/>
<circle cx="656.6" cy="551.9" r="5.9"/>
<circle cx="661.4" cy="549.4" r="5.9"/>
<circle cx="667.5" cy="550.1" r="5.9"/>
<circle cx="660.3" cy="554.6" r="5.9"/>
<circle cx="665.4" cy="554.2" r="5.9"/>
<circle cx="658.5" cy="558.4" r="5.9"/>
<circle cx="661.5" cy="558.2" r="5.9"/>
<circle cx="687.9" cy="506.2" r="5.9"/>
<circle cx="698.0" cy="511.3" r="5.9"/>
<circle cx="693.8" cy="516.3" r="5.9"/>
<circle cx="713.3" cy="509.2" r="5.9"/>
<circle cx="514.0" cy="646.5" r="5.9"/>
<circle cx="519.0" cy="649.0" r="5.9"/>
<circle cx="514.0" cy="661.5" r="5.9"/>
<circle cx="522.8" cy="670.3" r="5.9"/>
<circle cx="519.0" cy="681.6" r="5.9"/>
<circle cx="537.8" cy="664.0" r="5.9"/>
<circle cx="536.5" cy="675.3" r="5.9"/>
<circle cx="541.5" cy="649.0" r="5.9"/>
<circle cx="514.0" cy="676.5" r="5.9"/>
<circle cx="526.8" cy="497.7" r="5.9"/>
<circle cx="535.3" cy="501.1" r="5.9"/>
<circle cx="545.4" cy="504.5" r="5.9"/>
<circle cx="555.6" cy="501.1" r="5.9"/>
<circle cx="548.8" cy="494.3" r="5.9"/>
<circle cx="559.0" cy="485.9" r="5.9"/>
<circle cx="565.7" cy="490.9" r="5.9"/>
<circle cx="542.0" cy="509.6" r="5.9"/>
<circle cx="528.5" cy="509.6" r="5.9"/>
<circle cx="518.3" cy="509.6" r="5.9"/>
<circle cx="513.3" cy="518.0" r="5.9"/>
<circle cx="525.1" cy="518.0" r="5.9"/>
<circle cx="538.6" cy="518.0" r="5.9"/>
<circle cx="575.9" cy="474.9" r="5.9"/>
<circle cx="562.3" cy="480.8" r="5.9"/>
<circle cx="570.8" cy="484.2" r="5.9"/>
</g>
<g fill="#ff0000">
<circle cx="556.8" cy="446.6" r="5.9"/>
<circle cx="535.2" cy="450.2" r="5.9"/>
<circle cx="540.1" cy="449.6" r="5.9"/>
<circle cx="543.1" cy="451.3" r="5.9"/>
<circle cx="548.6" cy="449.3" r="5.9"/>
<circle cx="553.6" cy="450.6" r="5.9"/>
<circle cx="557.5" cy="450.4" r="5.9"/>
<circle cx="521.1" cy="455.4" r="5.9"/>
<circle cx="525.2" cy="455.8" r="5.9"/>
<circle cx="532.9" cy="454.6" r="5.9"/>
<circle cx="536.5" cy="454.7" r="5.9"/>
<circle cx="541.6" cy="453.2" r="5.9"/>
<circle cx="547.9" cy="453.8" r="5.9"/>
<circle cx="550.5" cy="453.4" r="5.9"/>
<circle cx="555.8" cy="455.6" r="5.9"/>
<circle cx="560.1" cy="453.4" r="5.9"/>
<circle cx="519.6" cy="457.8" r="5.9"/>
<circle cx="525.1" cy="459.6" r="5.9"/>
<circle cx="527.6" cy="457.8" r="5.9"/>
<circle cx="534.0" cy="459.0" r="5.9"/>
<circle cx="538.3" cy="457.8" r="5.9"/>
<circle cx="543.7" cy="457.9" r="5.9"/>
<circle cx="549.3" cy="460.0" r="5.9"/>
<circle cx="552.9" cy="459.2" r="5.9"/>
<circle cx="559.7" cy="458.0" r="5.9"/>
<circle cx="565.0" cy="460.3" r="5.9"/>
<circle cx="568.7" cy="458.7" r="5.9"/>
<circle cx="522.3" cy="462.8" r="5.9"/>
<circle cx="525.7" cy="462.8" r="5.9"/>
<circle cx="542.4" cy="464.3" r="5.9"/>
<circle cx="545.2" cy="463.3" r="5.9"/>
<circle cx="552.9" cy="464.6" r="5.9"/>
<circle cx="555.7" cy="463.1" r="5.9"/>
<circle cx="561.9" cy="462.9" r="5.9"/>
<circle cx="566.6" cy="462.0" r="5.9"/>
<circle cx="520.4" cy="468.5" r="5.9"/>
<circle cx="544.5" cy="466.9" r="5.9"/>
<circle cx="549.1" cy="468.9" r="5.9"/>
<circle cx="554.4" cy="466.9" r="5.9"/>
<circle cx="517.9" cy="472.0" r="5.9"/>
<circle cx="520.8" cy="471.9" r="5.9"/>
<circle cx="540.9" cy="471.2" r="5.9"/>
<circle cx="545.3" cy="472.1" r="5.9"/>
<circle cx="552.5" cy="472.3" r="5.9"/>
<circle cx="518.2" cy="476.3" r="5.9"/>
<circle cx="539.2" cy="476.3" r="5.9"/>
<circle cx="543.4" cy="477.7" r="5.9"/>
<circle cx="548.4" cy="477.1" r="5.9"/>
<circle cx="553.0" cy="475.0" r="5.9"/>
<circle cx="517.9" cy="481.3" r="5.9"/>
<circle cx="520.5" cy="480.1" r="5.9"/>
<circle cx="526.1" cy="481.1" r="5.9"/>
<circle cx="531.8" cy="481.7" r="5.9"/>
<circle cx="537.5" cy="480.7" r="5.9"/>
<circle cx="542.2" cy="481.3" r="5.9"/>
<circle cx="547.3" cy="480.5" r="5.9"/>
<circle cx="552.4" cy="481.2" r="5.9"/>
<circle cx="557.7" cy="479.5" r="5.9"/>
<circle cx="519.9" cy="486.1" r="5.9"/>
<circle cx="524.3" cy="484.6" r="5.9"/>
<circle cx="528.9" cy="484.8" r="5.9"/>
<circle cx="534.7" cy="484.3" r="5.9"/>
<circle cx="538.7" cy="485.1" r="5.9"/>
<circle cx="543.7" cy="484.4" r="5.9"/>
<circle cx="549.9" cy="486.0" r="5.9"/>
<circle cx="554.0" cy="484.8" r="5.9"/>
<circle cx="517.5" cy="490.3" r="5.9"/>
<circle cx="522.9" cy="488.4" r="5.9"/>
<circle cx="526.3" cy="490.5" r="5.9"/>
<circle cx="530.0" cy="487.9" r="5.9"/>
<circle cx="536.7" cy="489.3" r="5.9"/>
<circle cx="542.8" cy="490.1" r="5.9"/>
<circle cx="562.2" cy="478.0" r="5.9"/>
<circle cx="588.5" cy="485.7" r="5.9"/>
<circle cx="595.3" cy="484.0" r="5.9"/>
<circle cx="593.6" cy="492.4" r="5.9"/>
<circle cx="581.7" cy="495.8" r="5.9"/>
<circle cx="571.1" cy="503.4" r="5.9"/>
<circle cx="573.5" cy="504.9" r="5.9"/>
<circle cx="578.6" cy="502.2" r="5.9"/>
<circle cx="584.2" cy="503.0" r="5.9"/>
<circle cx="591.2" cy="504.7" r="5.9"/>
<circle cx="594.6" cy="503.7" r="5.9"/>
<circle cx="567.7" cy="507.9" r="5.9"/>
<circle cx="572.8" cy="508.9" r="5.9"/>
<circle cx="575.8" cy="507.9" r="5.9"/>
<circle cx="582.8" cy="508.6" r="5.9"/>
<circle cx="587.7" cy="507.0" r="5.9"/>
<circle cx="561.1" cy="512.5" r="5.9"/>
<circle cx="564.4" cy="512.9" r="5.9"/>
<circle cx="569.6" cy="511.3" r="5.9"/>
<circle cx="574.8" cy="510.8" r="5.9"/>
<circle cx="580.3" cy="511.3" r="5.9"/>
<circle cx="551.3" cy="517.2" r="5.9"/>
<circle cx="555.8" cy="515.8" r="5.9"/>
<circle cx="561.6" cy="517.3" r="5.9"/>
<circle cx="568.8" cy="515.2" r="5.9"/>
<circle cx="571.1" cy="517.9" r="5.9"/>
<circle cx="578.7" cy="515.6" r="5.9"/>
<circle cx="545.4" cy="520.6" r="5.9"/>
<circle cx="550.5" cy="520.1" r="5.9"/>
<circle cx="555.7" cy="521.9" r="5.9"/>
<circle cx="558.6" cy="521.2" r="5.9"/>
<circle cx="563.9" cy="521.6" r="5.9"/>
<circle cx="570.7" cy="521.8" r="5.9"/>
<circle cx="574.0" cy="519.7" r="5.9"/>
<circle cx="527.7" cy="525.9" r="5.9"/>
<circle cx="542.8" cy="524.6" r="5.9"/>
<circle cx="546.3" cy="524.5" r="5.9"/>
<circle cx="553.1" cy="526.3" r="5.9"/>
<circle cx="558.0" cy="526.7" r="5.9"/>
<circle cx="563.2" cy="524.7" r="5.9"/>
<circle cx="566.8" cy="526.0" r="5.9"/>
<circle cx="520.6" cy="528.4" r="5.9"/>
<circle cx="523.5" cy="529.3" r="5.9"/>
<circle cx="545.4" cy="530.4" r="5.9"/>
<circle cx="549.4" cy="529.5" r="5.9"/>
<circle cx="556.1" cy="530.9" r="5.9"/>
<circle cx="560.2" cy="528.4" r="5.9"/>
<circle cx="516.0" cy="533.3" r="5.9"/>
<circle cx="523.1" cy="532.9" r="5.9"/>
<circle cx="526.1" cy="532.7" r="5.9"/>
<circle cx="541.3" cy="534.7" r="5.9"/>
<circle cx="547.1" cy="533.5" r="5.9"/>
<circle cx="551.2" cy="533.2" r="5.9"/>
<circle cx="558.7" cy="532.8" r="5.9"/>
<circle cx="525.9" cy="537.7" r="5.9"/>
<circle cx="528.8" cy="539.0" r="5.9"/>
<circle cx="534.3" cy="537.3" r="5.9"/>
<circle cx="539.6" cy="539.2" r="5.9"/>
<circle cx="545.9" cy="538.5" r="5.9"/>
<circle cx="548.3" cy="539.1" r="5.9"/>
<circle cx="555.1" cy="539.5" r="5.9"/>
<circle cx="561.2" cy="537.8" r="5.9"/>
<circle cx="527.8" cy="542.2" r="5.9"/>
<circle cx="533.3" cy="541.5" r="5.9"/>
<circle cx="537.4" cy="542.1" r="5.9"/>
<circle cx="543.3" cy="542.1" r="5.9"/>
<circle cx="548.3" cy="543.7" r="5.9"/>
<circle cx="553.4" cy="541.5" r="5.9"/>
<circle cx="558.6" cy="543.3" r="5.9"/>
<circle cx="562.8" cy="543.1" r="5.9"/>
<circle cx="566.0" cy="543.7" r="5.9"/>
<circle cx="524.7" cy="546.6" r="5.9"/>
<circle cx="530.7" cy="548.3" r="5.9"/>
<circle cx="534.2" cy="547.3" r="5.9"/>
<circle cx="541.0" cy="546.8" r="5.9"/>
<circle cx="546.0" cy="547.6" r="5.9"/>
<circle cx="549.2" cy="548.1" r="5.9"/>
<circle cx="555.0" cy="545.8" r="5.9"/>
<circle cx="560.1" cy="547.9" r="5.9"/>
<circle cx="564.9" cy="546.9" r="5.9"/>
<circle cx="517.4" cy="552.2" r="5.9"/>
<circle cx="523.2" cy="550.8" r="5.9"/>
<circle cx="526.5" cy="552.0" r="5.9"/>
<circle cx="533.2" cy="550.4" r="5.9"/>
<circle cx="561.4" cy="551.4" r="5.9"/>
<circle cx="521.0" cy="557.0" r="5.9"/>
<circle cx="524.8" cy="556.9" r="5.9"/>
<circle cx="530.0" cy="554.5" r="5.9"/>
<circle cx="518.6" cy="559.8" r="5.9"/>
<circle cx="521.1" cy="558.6" r="5.9"/>
<circle cx="519.5" cy="563.8" r="5.9"/>
<circle cx="582.6" cy="534.9" r="5.9"/>
<circle cx="537.7" cy="571.3" r="5.9"/>
<circle cx="547.9" cy="568.7" r="5.9"/>
<circle cx="559.7" cy="570.4" r="5.9"/>
<circle cx="568.2" cy="567.0" r="5.9"/>
<circle cx="576.6" cy="580.6" r="5.9"/>
<circle cx="581.7" cy="584.0" r="5.9"/>
<circle cx="563.1" cy="585.6" r="5.9"/>
<circle cx="528.4" cy="599.2" r="5.9"/>
<circle cx="578.3" cy="597.5" r="5.9"/>
<circle cx="585.1" cy="595.8" r="5.9"/>
<circle cx="574.9" cy="604.3" r="5.9"/>
<circle cx="598.6" cy="595.8" r="5.9"/>
<circle cx="605.4" cy="594.1" r="5.9"/>
<circle cx="612.2" cy="595.8" r="5.9"/>
<circle cx="619.0" cy="594.1" r="5.9"/>
<circle cx="625.7" cy="592.4" r="5.9"/>
<circle cx="632.5" cy="590.7" r="5.9"/>
<circle cx="639.3" cy="589.0" r="5.9"/>
<circle cx="637.6" cy="580.6" r="5.9"/>
<circle cx="598.6" cy="604.3" r="5.9"/>
<circle cx="622.3" cy="600.0" r="5.9"/>
<circle cx="651.1" cy="570.4" r="5.9"/>
<circle cx="514.0" cy="575.5" r="5.9"/>
<circle cx="495.3" cy="467.3" r="5.9"/>
<circle cx="500.7" cy="466.2" r="5.9"/>
<circle cx="506.6" cy="466.7" r="5.9"/>
<circle cx="510.0" cy="466.1" r="5.9"/>
<circle cx="487.6" cy="471.3" r="5.9"/>
<circle cx="491.5" cy="471.6" r="5.9"/>
<circle cx="498.9" cy="470.8" r="5.9"/>
<circle cx="501.5" cy="471.6" r="5.9"/>
<circle cx="507.7" cy="471.2" r="5.9"/>
<circle cx="476.9" cy="476.3" r="5.9"/>
<circle cx="480.8" cy="474.5" r="5.9"/>
<circle cx="485.1" cy="474.4" r="5.9"/>
<circle cx="491.7" cy="475.9" r="5.9"/>
<circle cx="496.4" cy="476.0" r="5.9"/>
<circle cx="502.0" cy="475.6" r="5.9"/>
<circle cx="505.0" cy="475.8" r="5.9"/>
<circle cx="509.8" cy="475.4" r="5.9"/>
<circle cx="478.0" cy="478.7" r="5.9"/>
<circle cx="484.3" cy="478.1" r="5.9"/>
<circle cx="489.3" cy="480.1" r="5.9"/>
<circle cx="491.9" cy="480.2" r="5.9"/>
<circle cx="498.2" cy="480.6" r="5.9"/>
<circle cx="503.3" cy="479.2" r="5.9"/>
<circle cx="509.3" cy="478.1" r="5.9"/>
<circle cx="476.6" cy="483.5" r="5.9"/>
<circle cx="481.2" cy="483.0" r="5.9"/>
<circle cx="486.2" cy="484.2" r="5.9"/>
<circle cx="489.3" cy="483.7" r="5.9"/>
<circle cx="496.2" cy="482.9" r="5.9"/>
<circle cx="501.0" cy="483.0" r="5.9"/>
<circle cx="505.1" cy="485.0" r="5.9"/>
<circle cx="511.8" cy="485.2" r="5.9"/>
<circle cx="478.9" cy="488.8" r="5.9"/>
<circle cx="482.9" cy="489.1" r="5.9"/>
<circle cx="487.7" cy="489.4" r="5.9"/>
<circle cx="492.9" cy="486.9" r="5.9"/>
<circle cx="498.7" cy="487.0" r="5.9"/>
<circle cx="503.5" cy="486.7" r="5.9"/>
<circle cx="509.5" cy="488.2" r="5.9"/>
<circle cx="474.7" cy="493.3" r="5.9"/>
<circle cx="479.1" cy="492.3" r="5.9"/>
<circle cx="484.3" cy="493.4" r="5.9"/>
<circle cx="491.7" cy="491.0" r="5.9"/>
<circle cx="495.4" cy="492.3" r="5.9"/>
<circle cx="501.2" cy="493.1" r="5.9"/>
<circle cx="505.0" cy="493.7" r="5.9"/>
<circle cx="509.6" cy="491.3" r="5.9"/>
<circle cx="473.9" cy="495.6" r="5.9"/>
<circle cx="477.1" cy="496.7" r="5.9"/>
<circle cx="482.5" cy="495.7" r="5.9"/>
<circle cx="489.3" cy="496.6" r="5.9"/>
<circle cx="493.9" cy="495.9" r="5.9"/>
<circle cx="499.2" cy="495.9" r="5.9"/>
<circle cx="504.2" cy="497.0" r="5.9"/>
<circle cx="509.4" cy="497.5" r="5.9"/>
<circle cx="485.4" cy="461.1" r="5.9"/>
<circle cx="670.9" cy="565.4" r="5.9"/>
<circle cx="677.7" cy="562.0" r="5.9"/>
</g>
<g fill="#ff00ff">
<circle cx="284.5" cy="566.9" r="5.9"/>
<circle cx="299.0" cy="562.4" r="5.9"/>
<circle cx="297.0" cy="576.9" r="5.9"/>
<circle cx="297.7" cy="588.7" r="5.9"/>
<circle cx="266.5" cy="590.0" r="5.9"/>
<circle cx="275.2" cy="592.5" r="5.9"/>
<circle cx="262.7" cy="603.7" r="5.9"/>
<circle cx="279.0" cy="602.5" r="5.9"/>
<circle cx="290.2" cy="598.7" r="5.9"/>
<circle cx="297.7" cy="601.2" r="5.9"/>
<circle cx="297.7" cy="612.5" r="5.9"/>
<circle cx="300.3" cy="626.3" r="5.9"/>
<circle cx="264.0" cy="607.5" r="5.9"/>
<circle cx="287.7" cy="663.3" r="5.9"/>
<circle cx="301.5" cy="640.3" r="5.9"/>
<circle cx="582.6" cy="408.6" r="5.9"/>
<circle cx="534.3" cy="434.9" r="5.9"/>
<circle cx="537.7" cy="456.0" r="5.9"/>
<circle cx="626.6" cy="451.8" r="5.9"/>
<circle cx="536.0" cy="486.5" r="5.9"/>
<circle cx="520.8" cy="492.4" r="5.9"/>
<circle cx="514.0" cy="485.7" r="5.9"/>
<circle cx="530.9" cy="509.5" r="5.9"/>
<circle cx="516.5" cy="528.9" r="5.9"/>
<circle cx="515.7" cy="558.6" r="5.9"/>
<circle cx="597.0" cy="562.8" r="5.9"/>
<circle cx="523.3" cy="585.6" r="5.9"/>
<circle cx="544.5" cy="578.0" r="5.9"/>
<circle cx="549.6" cy="584.0" r="5.9"/>
<circle cx="569.0" cy="591.6" r="5.9"/>
<circle cx="554.6" cy="604.3" r="5.9"/>
<circle cx="537.7" cy="612.7" r="5.9"/>
<circle cx="530.9" cy="619.5" r="5.9"/>
<circle cx="519.1" cy="624.6" r="5.9"/>
<circle cx="517.4" cy="633.0" r="5.9"/>
<circle cx="529.2" cy="638.1" r="5.9"/>
<circle cx="440.9" cy="495.8" r="5.9"/>
<circle cx="467.1" cy="486.5" r="5.9"/>
<circle cx="490.8" cy="478.9" r="5.9"/>
<circle cx="511.1" cy="484.0" r="5.9"/>
<circle cx="475.6" cy="490.7" r="5.9"/>
<circle cx="482.3" cy="494.1" r="5.9"/>
<circle cx="490.8" cy="497.5" r="5.9"/>
<circle cx="404.5" cy="501.7" r="5.9"/>
<circle cx="412.1" cy="500.9" r="5.9"/>
<circle cx="387.2" cy="502.9" r="5.9"/>
<circle cx="391.9" cy="503.2" r="5.9"/>
<circle cx="397.4" cy="503.1" r="5.9"/>
<circle cx="403.2" cy="501.4" r="5.9"/>
<circle cx="409.5" cy="501.7" r="5.9"/>
<circle cx="413.7" cy="500.6" r="5.9"/>
<circle cx="419.1" cy="503.4" r="5.9"/>
<circle cx="421.9" cy="502.7" r="5.9"/>
<circle cx="427.4" cy="500.9" r="5.9"/>
<circle cx="432.7" cy="502.4" r="5.9"/>
<circle cx="439.5" cy="503.4" r="5.9"/>
<circle cx="444.6" cy="502.3" r="5.9"/>
<circle cx="448.6" cy="500.9" r="5.9"/>
<circle cx="453.8" cy="502.1" r="5.9"/>
<circle cx="457.7" cy="503.1" r="5.9"/>
<circle cx="462.4" cy="500.9" r="5.9"/>
<circle cx="467.1" cy="500.9" r="5.9"/>
<circle cx="473.4" cy="502.8" r="5.9"/>
<circle cx="477.1" cy="502.0" r="5.9"/>
<circle cx="483.3" cy="502.1" r="5.9"/>
<circle cx="487.9" cy="502.1" r="5.9"/>
<circle cx="491.7" cy="500.6" r="5.9"/>
<circle cx="497.9" cy="501.2" r="5.9"/>
<circle cx="503.9" cy="501.2" r="5.9"/>
<circle cx="385.5" cy="506.3" r="5.9"/>
<circle cx="391.9" cy="506.6" r="5.9"/>
<circle cx="394.7" cy="505.0" r="5.9"/>
<circle cx="399.4" cy="505.8" r="5.9"/>
<circle cx="404.4" cy="506.7" r="5.9"/>
<circle cx="410.4" cy="505.7" r="5.9"/>
<circle cx="415.7" cy="507.6" r="5.9"/>
<circle cx="419.8" cy="505.2" r="5.9"/>
<circle cx="425.0" cy="505.7" r="5.9"/>
<circle cx="431.8" cy="506.9" r="5.9"/>
<circle cx="435.4" cy="505.3" r="5.9"/>
<circle cx="439.3" cy="505.1" r="5.9"/>
<circle cx="446.7" cy="506.7" r="5.9"/>
<circle cx="449.6" cy="506.6" r="5.9"/>
<circle cx="454.3" cy="506.3" r="5.9"/>
<circle cx="460.1" cy="505.1" r="5.9"/>
<circle cx="466.3" cy="506.9" r="5.9"/>
<circle cx="470.6" cy="505.3" r="5.9"/>
<circle cx="476.1" cy="506.1" r="5.9"/>
<circle cx="481.1" cy="505.0" r="5.9"/>
<circle cx="486.8" cy="504.8" r="5.9"/>
<circle cx="489.8" cy="506.0" r="5.9"/>
<circle cx="494.7" cy="505.0" r="5.9"/>
<circle cx="501.2" cy="507.8" r="5.9"/>
<circle cx="505.1" cy="505.6" r="5.9"/>
<circle cx="398.1" cy="509.7" r="5.9"/>
<circle cx="403.6" cy="510.6" r="5.9"/>
<circle cx="409.0" cy="510.0" r="5.9"/>
<circle cx="414.4" cy="511.5" r="5.9"/>
<circle cx="418.0" cy="509.5" r="5.9"/>
<circle cx="423.1" cy="509.5" r="5.9"/>
<circle cx="433.3" cy="512.0" r="5.9"/>
<circle cx="436.7" cy="511.3" r="5.9"/>
<circle cx="444.0" cy="509.4" r="5.9"/>
<circle cx="462.7" cy="511.2" r="5.9"/>
<circle cx="467.4" cy="512.0" r="5.9"/>
<circle cx="472.9" cy="509.1" r="5.9"/>
<circle cx="476.9" cy="511.3" r="5.9"/>
<circle cx="484.2" cy="511.0" r="5.9"/>
<circle cx="487.1" cy="511.7" r="5.9"/>
<circle cx="493.8" cy="509.4" r="5.9"/>
<circle cx="497.8" cy="511.1" r="5.9"/>
<circle cx="501.6" cy="509.2" r="5.9"/>
<circle cx="376.7" cy="515.2" r="5.9"/>
<circle cx="382.0" cy="515.4" r="5.9"/>
<circle cx="400.2" cy="515.0" r="5.9"/>
<circle cx="405.9" cy="514.1" r="5.9"/>
<circle cx="409.9" cy="514.9" r="5.9"/>
<circle cx="415.6" cy="514.7" r="5.9"/>
<circle cx="421.1" cy="514.0" r="5.9"/>
<circle cx="436.5" cy="515.0" r="5.9"/>
<circle cx="439.9" cy="516.2" r="5.9"/>
<circle cx="460.6" cy="515.6" r="5.9"/>
<circle cx="464.8" cy="514.8" r="5.9"/>
<circle cx="470.2" cy="514.4" r="5.9"/>
<circle cx="475.2" cy="515.7" r="5.9"/>
<circle cx="481.3" cy="514.1" r="5.9"/>
<circle cx="484.8" cy="515.8" r="5.9"/>
<circle cx="491.1" cy="515.5" r="5.9"/>
<circle cx="496.0" cy="515.5" r="5.9"/>
<circle cx="499.9" cy="513.6" r="5.9"/>
<circle cx="505.2" cy="513.5" r="5.9"/>
<circle cx="379.0" cy="518.5" r="5.9"/>
<circle cx="403.8" cy="520.5" r="5.9"/>
<circle cx="409.2" cy="520.4" r="5.9"/>
<circle cx="412.9" cy="519.0" r="5.9"/>
<circle cx="417.6" cy="520.7" r="5.9"/>
<circle cx="439.2" cy="520.4" r="5.9"/>
<circle cx="442.9" cy="518.3" r="5.9"/>
<circle cx="463.4" cy="518.5" r="5.9"/>
<circle cx="466.7" cy="518.9" r="5.9"/>
<circle cx="472.8" cy="517.8" r="5.9"/>
<circle cx="477.7" cy="520.0" r="5.9"/>
<circle cx="482.6" cy="519.8" r="5.9"/>
<circle cx="488.5" cy="518.3" r="5.9"/>
<circle cx="491.7" cy="519.8" r="5.9"/>
<circle cx="498.4" cy="518.6" r="5.9"/>
<circle cx="502.2" cy="520.3" r="5.9"/>
<circle cx="375.1" cy="524.0" r="5.9"/>
<circle cx="380.9" cy="523.6" r="5.9"/>
<circle cx="384.5" cy="522.7" r="5.9"/>
<circle cx="395.2" cy="524.8" r="5.9"/>
<circle cx="399.5" cy="525.1" r="5.9"/>
<circle cx="404.8" cy="524.7" r="5.9"/>
<circle cx="409.8" cy="523.9" r="5.9"/>
<circle cx="415.2" cy="522.2" r="5.9"/>
<circle cx="421.5" cy="524.5" r="5.9"/>
<circle cx="434.3" cy="523.2" r="5.9"/>
<circle cx="439.8" cy="524.0" r="5.9"/>
<circle cx="446.4" cy="524.6" r="5.9"/>
<circle cx="459.9" cy="524.4" r="5.9"/>
<circle cx="465.4" cy="525.1" r="5.9"/>
<circle cx="469.4" cy="523.5" r="5.9"/>
<circle cx="474.8" cy="522.1" r="5.9"/>
<circle cx="479.4" cy="522.4" r="5.9"/>
<circle cx="485.2" cy="523.4" r="5.9"/>
<circle cx="490.6" cy="523.0" r="5.9"/>
<circle cx="496.2" cy="523.6" r="5.9"/>
<circle cx="502.1" cy="522.6" r="5.9"/>
<circle cx="505.6" cy="523.6" r="5.9"/>
<circle cx="387.5" cy="526.7" r="5.9"/>
<circle cx="394.5" cy="527.5" r="5.9"/>
<circle cx="397.0" cy="528.4" r="5.9"/>
<circle cx="403.2" cy="527.4" r="5.9"/>
<circle cx="407.6" cy="529.0" r="5.9"/>
<circle cx="412.6" cy="527.7" r="5.9"/>
<circle cx="419.5" cy="527.5" r="5.9"/>
<circle cx="422.8" cy="526.9" r="5.9"/>
<circle cx="428.6" cy="528.4" r="5.9"/>
<circle cx="433.0" cy="527.6" r="5.9"/>
<circle cx="437.3" cy="528.8" r="5.9"/>
<circle cx="443.0" cy="528.9" r="5.9"/>
<circle cx="451.7" cy="527.1" r="5.9"/>
<circle cx="459.5" cy="528.5" r="5.9"/>
<circle cx="463.6" cy="527.9" r="5.9"/>
<circle cx="468.0" cy="527.0" r="5.9"/>
<circle cx="472.1" cy="528.4" r="5.9"/>
<circle cx="478.7" cy="527.2" r="5.9"/>
<circle cx="483.5" cy="526.8" r="5.9"/>
<circle cx="488.5" cy="526.9" r="5.9"/>
<circle cx="493.1" cy="527.4" r="5.9"/>
<circle cx="498.3" cy="526.8" r="5.9"/>
<circle cx="503.1" cy="528.3" r="5.9"/>
<circle cx="507.0" cy="527.4" r="5.9"/>
<circle cx="401.1" cy="531.1" r="5.9"/>
<circle cx="405.9" cy="530.9" r="5.9"/>
<circle cx="411.9" cy="533.7" r="5.9"/>
<circle cx="416.3" cy="531.6" r="5.9"/>
<circle cx="421.7" cy="531.3" r="5.9"/>
<circle cx="426.6" cy="532.3" r="5.9"/>
<circle cx="429.2" cy="533.4" r="5.9"/>
<circle cx="435.4" cy="533.2" r="5.9"/>
<circle cx="441.2" cy="532.4" r="5.9"/>
<circle cx="459.3" cy="531.0" r="5.9"/>
<circle cx="466.0" cy="531.1" r="5.9"/>
<circle cx="469.6" cy="531.6" r="5.9"/>
<circle cx="475.0" cy="533.5" r="5.9"/>
<circle cx="481.8" cy="533.4" r="5.9"/>
<circle cx="487.1" cy="532.1" r="5.9"/>
<circle cx="491.5" cy="531.6" r="5.9"/>
<circle cx="496.9" cy="533.2" r="5.9"/>
<circle cx="501.3" cy="531.4" r="5.9"/>
<circle cx="504.4" cy="533.5" r="5.9"/>
<circle cx="392.5" cy="537.3" r="5.9"/>
<circle cx="399.1" cy="535.8" r="5.9"/>
<circle cx="403.7" cy="536.3" r="5.9"/>
<circle cx="407.3" cy="535.7" r="5.9"/>
<circle cx="414.5" cy="536.2" r="5.9"/>
<circle cx="418.1" cy="536.6" r="5.9"/>
<circle cx="421.7" cy="537.3" r="5.9"/>
<circle cx="428.8" cy="537.7" r="5.9"/>
<circle cx="432.7" cy="535.7" r="5.9"/>
<circle cx="458.1" cy="537.4" r="5.9"/>
<circle cx="462.2" cy="537.3" r="5.9"/>
<circle cx="467.7" cy="537.5" r="5.9"/>
<circle cx="471.9" cy="535.9" r="5.9"/>
<circle cx="478.5" cy="536.5" r="5.9"/>
<circle cx="482.7" cy="536.8" r="5.9"/>
<circle cx="487.3" cy="536.4" r="5.9"/>
<circle cx="491.6" cy="537.5" r="5.9"/>
<circle cx="497.4" cy="537.6" r="5.9"/>
<circle cx="503.3" cy="536.9" r="5.9"/>
<circle cx="376.1" cy="541.9" r="5.9"/>
<circle cx="387.0" cy="540.0" r="5.9"/>
<circle cx="389.4" cy="540.7" r="5.9"/>
<circle cx="395.6" cy="539.9" r="5.9"/>
<circle cx="399.8" cy="542.0" r="5.9"/>
<circle cx="405.3" cy="539.9" r="5.9"/>
<circle cx="409.7" cy="541.1" r="5.9"/>
<circle cx="414.7" cy="540.8" r="5.9"/>
<circle cx="420.7" cy="540.7" r="5.9"/>
<circle cx="456.3" cy="540.1" r="5.9"/>
<circle cx="460.8" cy="541.4" r="5.9"/>
<circle cx="465.2" cy="540.9" r="5.9"/>
<circle cx="469.3" cy="541.3" r="5.9"/>
<circle cx="476.2" cy="539.9" r="5.9"/>
<circle cx="480.8" cy="541.6" r="5.9"/>
<circle cx="484.4" cy="541.9" r="5.9"/>
<circle cx="491.7" cy="539.6" r="5.9"/>
<circle cx="494.9" cy="539.7" r="5.9"/>
<circle cx="499.9" cy="539.7" r="5.9"/>
<circle cx="505.6" cy="540.2" r="5.9"/>
<circle cx="378.8" cy="544.1" r="5.9"/>
<circle cx="382.3" cy="543.8" r="5.9"/>
<circle cx="387.6" cy="544.1" r="5.9"/>
<circle cx="393.7" cy="546.1" r="5.9"/>
<circle cx="399.6" cy="544.4" r="5.9"/>
<circle cx="401.7" cy="546.0" r="5.9"/>
<circle cx="453.0" cy="545.5" r="5.9"/>
<circle cx="457.3" cy="545.4" r="5.9"/>
<circle cx="464.2" cy="544.0" r="5.9"/>
<circle cx="467.7" cy="546.4" r="5.9"/>
<circle cx="474.5" cy="543.8" r="5.9"/>
<circle cx="478.5" cy="545.6" r="5.9"/>
<circle cx="484.1" cy="545.2" r="5.9"/>
<circle cx="487.0" cy="544.6" r="5.9"/>
<circle cx="493.8" cy="545.9" r="5.9"/>
<circle cx="497.2" cy="545.7" r="5.9"/>
<circle cx="503.6" cy="545.7" r="5.9"/>
<circle cx="376.1" cy="548.9" r="5.9"/>
<circle cx="381.5" cy="549.0" r="5.9"/>
<circle cx="385.8" cy="550.5" r="5.9"/>
<circle cx="389.5" cy="550.3" r="5.9"/>
<circle cx="394.3" cy="550.9" r="5.9"/>
<circle cx="450.0" cy="548.4" r="5.9"/>
<circle cx="454.2" cy="549.4" r="5.9"/>
<circle cx="461.7" cy="548.7" r="5.9"/>
<circle cx="465.4" cy="550.4" r="5.9"/>
<circle cx="469.9" cy="548.5" r="5.9"/>
<circle cx="475.7" cy="549.4" r="5.9"/>
<circle cx="481.9" cy="550.8" r="5.9"/>
<circle cx="484.8" cy="549.8" r="5.9"/>
<circle cx="490.4" cy="548.2" r="5.9"/>
<circle cx="495.4" cy="550.8" r="5.9"/>
<circle cx="500.0" cy="549.8" r="5.9"/>
<circle cx="386.7" cy="552.9" r="5.9"/>
<circle cx="392.3" cy="552.6" r="5.9"/>
<circle cx="396.9" cy="553.0" r="5.9"/>
<circle cx="448.8" cy="553.2" r="5.9"/>
<circle cx="453.1" cy="553.0" r="5.9"/>
<circle cx="457.9" cy="553.2" r="5.9"/>
<circle cx="463.4" cy="553.3" r="5.9"/>
<circle cx="467.4" cy="554.3" r="5.9"/>
<circle cx="471.9" cy="554.8" r="5.9"/>
<circle cx="478.1" cy="553.1" r="5.9"/>
<circle cx="482.0" cy="553.9" r="5.9"/>
<circle cx="488.1" cy="554.6" r="5.9"/>
<circle cx="492.7" cy="553.6" r="5.9"/>
<circle cx="499.3" cy="553.2" r="5.9"/>
<circle cx="504.6" cy="555.1" r="5.9"/>
<circle cx="389.6" cy="557.5" r="5.9"/>
<circle cx="396.0" cy="557.3" r="5.9"/>
<circle cx="400.5" cy="558.9" r="5.9"/>
<circle cx="445.8" cy="558.3" r="5.9"/>
<circle cx="449.7" cy="559.6" r="5.9"/>
<circle cx="457.0" cy="559.1" r="5.9"/>
<circle cx="462.1" cy="558.1" r="5.9"/>
<circle cx="466.6" cy="557.5" r="5.9"/>
<circle cx="471.3" cy="558.9" r="5.9"/>
<circle cx="476.9" cy="559.2" r="5.9"/>
<circle cx="481.8" cy="557.5" r="5.9"/>
<circle cx="486.5" cy="558.2" r="5.9"/>
<circle cx="490.1" cy="557.8" r="5.9"/>
<circle cx="496.5" cy="559.3" r="5.9"/>
<circle cx="501.6" cy="558.7" r="5.9"/>
<circle cx="504.6" cy="557.2" r="5.9"/>
<circle cx="392.5" cy="561.9" r="5.9"/>
<circle cx="397.8" cy="561.1" r="5.9"/>
<circle cx="406.7" cy="563.6" r="5.9"/>
<circle cx="444.5" cy="562.2" r="5.9"/>
<circle cx="449.6" cy="563.7" r="5.9"/>
<circle cx="452.0" cy="563.6" r="5.9"/>
<circle cx="456.7" cy="563.2" r="5.9"/>
<circle cx="464.0" cy="563.2" r="5.9"/>
<circle cx="468.3" cy="563.5" r="5.9"/>
<circle cx="472.1" cy="562.7" r="5.9"/>
<circle cx="477.4" cy="562.3" r="5.9"/>
<circle cx="482.2" cy="563.2" r="5.9"/>
<circle cx="488.3" cy="563.4" r="5.9"/>
<circle cx="493.5" cy="562.9" r="5.9"/>
<circle cx="499.4" cy="563.5" r="5.9"/>
<circle cx="503.3" cy="562.0" r="5.9"/>
<circle cx="391.4" cy="566.3" r="5.9"/>
<circle cx="394.4" cy="567.3" r="5.9"/>
<circle cx="401.5" cy="566.1" r="5.9"/>
<circle cx="406.2" cy="568.1" r="5.9"/>
<circle cx="409.5" cy="565.8" r="5.9"/>
<circle cx="444.2" cy="566.8" r="5.9"/>
<circle cx="450.4" cy="568.3" r="5.9"/>
<circle cx="455.4" cy="567.9" r="5.9"/>
<circle cx="461.5" cy="567.2" r="5.9"/>
<circle cx="464.8" cy="566.3" r="5.9"/>
<circle cx="470.6" cy="566.6" r="5.9"/>
<circle cx="476.1" cy="566.9" r="5.9"/>
<circle cx="480.1" cy="567.2" r="5.9"/>
<circle cx="487.1" cy="566.0" r="5.9"/>
<circle cx="490.1" cy="565.4" r="5.9"/>
<circle cx="494.4" cy="565.6" r="5.9"/>
<circle cx="500.4" cy="567.9" r="5.9"/>
<circle cx="506.2" cy="568.3" r="5.9"/>
<circle cx="388.2" cy="570.9" r="5.9"/>
<circle cx="393.1" cy="570.9" r="5.9"/>
<circle cx="396.9" cy="571.9" r="5.9"/>
<circle cx="404.0" cy="571.5" r="5.9"/>
<circle cx="407.0" cy="571.5" r="5.9"/>
<circle cx="414.2" cy="572.7" r="5.9"/>
<circle cx="418.9" cy="569.9" r="5.9"/>
<circle cx="427.4" cy="572.5" r="5.9"/>
<circle cx="434.1" cy="572.4" r="5.9"/>
<circle cx="437.4" cy="571.5" r="5.9"/>
<circle cx="442.8" cy="570.6" r="5.9"/>
<circle cx="448.9" cy="571.6" r="5.9"/>
<circle cx="452.6" cy="571.4" r="5.9"/>
<circle cx="459.4" cy="571.4" r="5.9"/>
<circle cx="464.4" cy="571.4" r="5.9"/>
<circle cx="469.6" cy="569.8" r="5.9"/>
<circle cx="473.0" cy="571.4" r="5.9"/>
<circle cx="478.8" cy="572.6" r="5.9"/>
<circle cx="483.5" cy="571.2" r="5.9"/>
<circle cx="488.5" cy="571.3" r="5.9"/>
<circle cx="493.7" cy="572.6" r="5.9"/>
<circle cx="496.7" cy="570.7" r="5.9"/>
<circle cx="504.2" cy="569.9" r="5.9"/>
<circle cx="380.7" cy="575.9" r="5.9"/>
<circle cx="385.1" cy="575.8" r="5.9"/>
<circle cx="392.0" cy="576.4" r="5.9"/>
<circle cx="397.0" cy="574.8" r="5.9"/>
<circle cx="400.7" cy="575.2" r="5.9"/>
<circle cx="405.2" cy="576.5" r="5.9"/>
<circle cx="409.6" cy="575.7" r="5.9"/>
<circle cx="416.4" cy="576.9" r="5.9"/>
<circle cx="419.2" cy="574.9" r="5.9"/>
<circle cx="425.6" cy="576.9" r="5.9"/>
<circle cx="429.6" cy="576.6" r="5.9"/>
<circle cx="435.3" cy="575.7" r="5.9"/>
<circle cx="441.9" cy="574.2" r="5.9"/>
<circle cx="445.1" cy="574.5" r="5.9"/>
<circle cx="449.5" cy="575.0" r="5.9"/>
<circle cx="456.2" cy="575.8" r="5.9"/>
<circle cx="459.5" cy="576.5" r="5.9"/>
<circle cx="465.6" cy="574.5" r="5.9"/>
<circle cx="471.6" cy="576.5" r="5.9"/>
<circle cx="474.8" cy="576.9" r="5.9"/>
<circle cx="481.5" cy="574.7" r="5.9"/>
<circle cx="484.1" cy="576.7" r="5.9"/>
<circle cx="491.6" cy="574.3" r="5.9"/>
<circle cx="496.4" cy="576.4" r="5.9"/>
<circle cx="501.0" cy="576.6" r="5.9"/>
<circle cx="378.7" cy="580.9" r="5.9"/>
<circle cx="383.3" cy="579.2" r="5.9"/>
<circle cx="387.4" cy="580.0" r="5.9"/>
<circle cx="392.0" cy="581.0" r="5.9"/>
<circle cx="399.3" cy="579.1" r="5.9"/>
<circle cx="403.7" cy="580.4" r="5.9"/>
<circle cx="407.0" cy="580.7" r="5.9"/>
<circle cx="413.9" cy="579.3" r="5.9"/>
<circle cx="416.9" cy="579.2" r="5.9"/>
<circle cx="423.9" cy="579.8" r="5.9"/>
<circle cx="429.1" cy="578.9" r="5.9"/>
<circle cx="431.9" cy="579.4" r="5.9"/>
<circle cx="439.3" cy="578.9" r="5.9"/>
<circle cx="441.8" cy="580.6" r="5.9"/>
<circle cx="446.9" cy="580.4" r="5.9"/>
<circle cx="451.9" cy="579.1" r="5.9"/>
<circle cx="458.6" cy="581.0" r="5.9"/>
<circle cx="462.8" cy="579.7" r="5.9"/>
<circle cx="466.7" cy="579.4" r="5.9"/>
<circle cx="472.3" cy="580.8" r="5.9"/>
<circle cx="478.8" cy="580.7" r="5.9"/>
<circle cx="483.2" cy="580.5" r="5.9"/>
<circle cx="487.0" cy="579.5" r="5.9"/>
<circle cx="492.5" cy="579.2" r="5.9"/>
<circle cx="498.8" cy="579.0" r="5.9"/>
<circle cx="502.6" cy="579.2" r="5.9"/>
<circle cx="375.5" cy="584.4" r="5.9"/>
<circle cx="381.7" cy="583.5" r="5.9"/>
<circle cx="384.9" cy="583.0" r="5.9"/>
<circle cx="390.6" cy="585.0" r="5.9"/>
<circle cx="394.6" cy="584.0" r="5.9"/>
<circle cx="402.1" cy="584.2" r="5.9"/>
<circle cx="405.3" cy="585.2" r="5.9"/>
<circle cx="411.8" cy="583.8" r="5.9"/>
<circle cx="414.5" cy="584.6" r="5.9"/>
<circle cx="421.3" cy="585.5" r="5.9"/>
<circle cx="426.1" cy="583.6" r="5.9"/>
<circle cx="430.7" cy="583.6" r="5.9"/>
<circle cx="435.5" cy="584.1" r="5.9"/>
<circle cx="441.9" cy="585.4" r="5.9"/>
<circle cx="446.9" cy="584.1" r="5.9"/>
<circle cx="452.0" cy="583.1" r="5.9"/>
<circle cx="456.9" cy="584.6" r="5.9"/>
<circle cx="461.7" cy="584.0" r="5.9"/>
<circle cx="467.1" cy="582.8" r="5.9"/>
<circle cx="471.7" cy="585.2" r="5.9"/>
<circle cx="475.2" cy="585.2" r="5.9"/>
<circle cx="479.8" cy="585.0" r="5.9"/>
<circle cx="485.5" cy="583.9" r="5.9"/>
<circle cx="489.7" cy="585.1" r="5.9"/>
<circle cx="496.3" cy="583.0" r="5.9"/>
<circle cx="502.0" cy="583.4" r="5.9"/>
<circle cx="374.4" cy="588.9" r="5.9"/>
<circle cx="377.7" cy="587.4" r="5.9"/>
<circle cx="381.8" cy="588.6" r="5.9"/>
<circle cx="388.4" cy="588.4" r="5.9"/>
<circle cx="394.6" cy="588.3" r="5.9"/>
<circle cx="408.4" cy="588.7" r="5.9"/>
<circle cx="428.3" cy="587.7" r="5.9"/>
<circle cx="431.8" cy="587.5" r="5.9"/>
<circle cx="437.7" cy="589.4" r="5.9"/>
<circle cx="444.3" cy="587.8" r="5.9"/>
<circle cx="449.0" cy="588.4" r="5.9"/>
<circle cx="453.2" cy="588.6" r="5.9"/>
<circle cx="456.7" cy="587.2" r="5.9"/>
<circle cx="463.6" cy="589.1" r="5.9"/>
<circle cx="467.8" cy="589.8" r="5.9"/>
<circle cx="474.1" cy="587.9" r="5.9"/>
<circle cx="476.8" cy="588.7" r="5.9"/>
<circle cx="483.6" cy="587.7" r="5.9"/>
<circle cx="486.7" cy="588.5" r="5.9"/>
<circle cx="491.7" cy="589.3" r="5.9"/>
<circle cx="498.5" cy="587.9" r="5.9"/>
<circle cx="503.0" cy="587.7" r="5.9"/>
<circle cx="376.5" cy="593.2" r="5.9"/>
<circle cx="381.1" cy="592.6" r="5.9"/>
<circle cx="385.8" cy="591.9" r="5.9"/>
<circle cx="392.0" cy="593.4" r="5.9"/>
<circle cx="409.2" cy="592.7" r="5.9"/>
<circle cx="435.2" cy="593.7" r="5.9"/>
<circle cx="440.8" cy="593.8" r="5.9"/>
<circle cx="447.1" cy="592.5" r="5.9"/>
<circle cx="452.1" cy="591.4" r="5.9"/>
<circle cx="456.7" cy="591.5" r="5.9"/>
<circle cx="460.8" cy="592.5" r="5.9"/>
<circle cx="466.4" cy="592.3" r="5.9"/>
<circle cx="469.7" cy="593.7" r="5.9"/>
<circle cx="475.8" cy="593.6" r="5.9"/>
<circle cx="480.6" cy="591.5" r="5.9"/>
<circle cx="486.4" cy="592.0" r="5.9"/>
<circle cx="490.5" cy="591.4" r="5.9"/>
<circle cx="494.9" cy="593.4" r="5.9"/>
<circle cx="501.4" cy="593.3" r="5.9"/>
<circle cx="378.8" cy="596.3" r="5.9"/>
<circle cx="382.5" cy="596.7" r="5.9"/>
<circle cx="386.9" cy="596.7" r="5.9"/>
<circle cx="393.8" cy="597.4" r="5.9"/>
<circle cx="397.1" cy="597.9" r="5.9"/>
<circle cx="407.1" cy="596.0" r="5.9"/>
<circle cx="412.4" cy="597.2" r="5.9"/>
<circle cx="417.4" cy="598.4" r="5.9"/>
<circle cx="428.9" cy="597.8" r="5.9"/>
<circle cx="433.3" cy="596.5" r="5.9"/>
<circle cx="439.5" cy="598.6" r="5.9"/>
<circle cx="441.7" cy="596.7" r="5.9"/>
<circle cx="447.6" cy="596.3" r="5.9"/>
<circle cx="452.9" cy="598.4" r="5.9"/>
<circle cx="456.7" cy="598.2" r="5.9"/>
<circle cx="462.5" cy="595.7" r="5.9"/>
<circle cx="469.3" cy="596.5" r="5.9"/>
<circle cx="472.3" cy="596.1" r="5.9"/>
<circle cx="477.7" cy="596.1" r="5.9"/>
<circle cx="482.2" cy="596.5" r="5.9"/>
<circle cx="488.3" cy="597.0" r="5.9"/>
<circle cx="492.5" cy="597.3" r="5.9"/>
<circle cx="498.9" cy="597.9" r="5.9"/>
<circle cx="502.6" cy="598.5" r="5.9"/>
<circle cx="375.9" cy="600.3" r="5.9"/>
<circle cx="381.9" cy="602.7" r="5.9"/>
<circle cx="384.2" cy="602.1" r="5.9"/>
<circle cx="389.8" cy="601.6" r="5.9"/>
<circle cx="396.6" cy="601.1" r="5.9"/>
<circle cx="400.6" cy="602.0" r="5.9"/>
<circle cx="404.7" cy="601.9" r="5.9"/>
<circle cx="410.4" cy="603.0" r="5.9"/>
<circle cx="414.7" cy="602.2" r="5.9"/>
<circle cx="419.2" cy="600.9" r="5.9"/>
<circle cx="424.5" cy="600.5" r="5.9"/>
<circle cx="430.7" cy="600.6" r="5.9"/>
<circle cx="436.5" cy="600.3" r="5.9"/>
<circle cx="441.0" cy="602.6" r="5.9"/>
<circle cx="444.5" cy="600.7" r="5.9"/>
<circle cx="451.4" cy="601.4" r="5.9"/>
<circle cx="456.9" cy="601.0" r="5.9"/>
<circle cx="460.3" cy="602.9" r="5.9"/>
<circle cx="465.1" cy="602.9" r="5.9"/>
<circle cx="471.8" cy="600.6" r="5.9"/>
<circle cx="475.8" cy="602.9" r="5.9"/>
<circle cx="479.5" cy="602.6" r="5.9"/>
<circle cx="486.4" cy="602.3" r="5.9"/>
<circle cx="490.9" cy="600.3" r="5.9"/>
<circle cx="497.0" cy="600.3" r="5.9"/>
<circle cx="501.5" cy="602.2" r="5.9"/>
<circle cx="377.8" cy="606.8" r="5.9"/>
<circle cx="383.0" cy="606.8" r="5.9"/>
<circle cx="387.5" cy="606.0" r="5.9"/>
<circle cx="391.7" cy="605.8" r="5.9"/>
<circle cx="396.9" cy="606.9" r="5.9"/>
<circle cx="403.6" cy="605.6" r="5.9"/>
<circle cx="409.5" cy="607.2" r="5.9"/>
<circle cx="414.5" cy="604.6" r="5.9"/>
<circle cx="418.7" cy="606.5" r="5.9"/>
<circle cx="423.4" cy="604.4" r="5.9"/>
<circle cx="429.4" cy="605.7" r="5.9"/>
<circle cx="433.4" cy="606.8" r="5.9"/>
<circle cx="437.4" cy="604.5" r="5.9"/>
<circle cx="444.4" cy="605.2" r="5.9"/>
<circle cx="446.7" cy="604.8" r="5.9"/>
<circle cx="454.6" cy="606.6" r="5.9"/>
<circle cx="457.2" cy="604.8" r="5.9"/>
<circle cx="472.9" cy="607.2" r="5.9"/>
<circle cx="476.6" cy="605.6" r="5.9"/>
<circle cx="481.8" cy="607.4" r="5.9"/>
<circle cx="486.9" cy="607.2" r="5.9"/>
<circle cx="494.1" cy="606.6" r="5.9"/>
<circle cx="496.7" cy="606.5" r="5.9"/>
<circle cx="503.1" cy="605.8" r="5.9"/>
<circle cx="374.9" cy="609.4" r="5.9"/>
<circle cx="380.5" cy="610.6" r="5.9"/>
<circle cx="385.8" cy="611.4" r="5.9"/>
<circle cx="390.6" cy="610.2" r="5.9"/>
<circle cx="397.1" cy="609.3" r="5.9"/>
<circle cx="399.2" cy="609.7" r="5.9"/>
<circle cx="405.1" cy="609.1" r="5.9"/>
<circle cx="410.4" cy="608.8" r="5.9"/>
<circle cx="416.9" cy="610.1" r="5.9"/>
<circle cx="421.8" cy="610.8" r="5.9"/>
<circle cx="426.3" cy="611.0" r="5.9"/>
<circle cx="430.0" cy="610.9" r="5.9"/>
<circle cx="434.7" cy="610.4" r="5.9"/>
<circle cx="440.9" cy="611.0" r="5.9"/>
<circle cx="444.6" cy="609.7" r="5.9"/>
<circle cx="451.6" cy="611.1" r="5.9"/>
<circle cx="457.0" cy="609.0" r="5.9"/>
<circle cx="471.1" cy="611.0" r="5.9"/>
<circle cx="475.7" cy="610.4" r="5.9"/>
<circle cx="481.9" cy="610.6" r="5.9"/>
<circle cx="486.1" cy="610.5" r="5.9"/>
<circle cx="495.8" cy="609.1" r="5.9"/>
<circle cx="500.4" cy="610.0" r="5.9"/>
<circle cx="379.5" cy="613.3" r="5.9"/>
<circle cx="381.7" cy="615.2" r="5.9"/>
<circle cx="387.8" cy="614.4" r="5.9"/>
<circle cx="393.4" cy="614.1" r="5.9"/>
<circle cx="397.3" cy="613.1" r="5.9"/>
<circle cx="404.2" cy="615.8" r="5.9"/>
<circle cx="407.5" cy="614.4" r="5.9"/>
<circle cx="412.6" cy="613.2" r="5.9"/>
<circle cx="419.3" cy="615.5" r="5.9"/>
<circle cx="422.3" cy="613.8" r="5.9"/>
<circle cx="428.7" cy="615.4" r="5.9"/>
<circle cx="433.0" cy="614.2" r="5.9"/>
<circle cx="437.3" cy="615.4" r="5.9"/>
<circle cx="444.2" cy="615.6" r="5.9"/>
<circle cx="466.8" cy="615.5" r="5.9"/>
<circle cx="473.6" cy="614.4" r="5.9"/>
<circle cx="479.3" cy="615.8" r="5.9"/>
<circle cx="483.5" cy="613.3" r="5.9"/>
<circle cx="502.3" cy="614.1" r="5.9"/>
<circle cx="375.1" cy="620.2" r="5.9"/>
<circle cx="382.0" cy="618.3" r="5.9"/>
<circle cx="385.9" cy="617.7" r="5.9"/>
<circle cx="390.3" cy="619.2" r="5.9"/>
<circle cx="396.0" cy="618.4" r="5.9"/>
<circle cx="399.2" cy="617.7" r="5.9"/>
<circle cx="405.8" cy="617.9" r="5.9"/>
<circle cx="410.0" cy="619.2" r="5.9"/>
<circle cx="416.8" cy="618.9" r="5.9"/>
<circle cx="419.9" cy="619.1" r="5.9"/>
<circle cx="424.9" cy="619.7" r="5.9"/>
<circle cx="429.6" cy="618.1" r="5.9"/>
<circle cx="444.5" cy="618.0" r="5.9"/>
<circle cx="460.5" cy="618.5" r="5.9"/>
<circle cx="466.4" cy="620.1" r="5.9"/>
<circle cx="470.4" cy="620.1" r="5.9"/>
<circle cx="474.9" cy="620.3" r="5.9"/>
<circle cx="480.7" cy="619.4" r="5.9"/>
<circle cx="485.3" cy="618.2" r="5.9"/>
<circle cx="500.5" cy="618.9" r="5.9"/>
<circle cx="504.7" cy="617.9" r="5.9"/>
<circle cx="378.7" cy="623.0" r="5.9"/>
<circle cx="381.8" cy="622.5" r="5.9"/>
<circle cx="387.2" cy="624.2" r="5.9"/>
<circle cx="393.3" cy="622.7" r="5.9"/>
<circle cx="397.4" cy="622.6" r="5.9"/>
<circle cx="402.5" cy="622.7" r="5.9"/>
<circle cx="409.0" cy="624.0" r="5.9"/>
<circle cx="413.7" cy="624.3" r="5.9"/>
<circle cx="418.6" cy="622.0" r="5.9"/>
<circle cx="421.7" cy="622.2" r="5.9"/>
<circle cx="427.4" cy="623.3" r="5.9"/>
<circle cx="444.6" cy="623.9" r="5.9"/>
<circle cx="447.6" cy="621.8" r="5.9"/>
<circle cx="454.6" cy="622.5" r="5.9"/>
<circle cx="459.2" cy="622.0" r="5.9"/>
<circle cx="463.6" cy="622.8" r="5.9"/>
<circle cx="469.3" cy="622.6" r="5.9"/>
<circle cx="471.9" cy="622.3" r="5.9"/>
<circle cx="479.0" cy="624.6" r="5.9"/>
<circle cx="483.5" cy="623.7" r="5.9"/>
<circle cx="487.5" cy="622.5" r="5.9"/>
<circle cx="491.9" cy="624.6" r="5.9"/>
<circle cx="496.7" cy="623.5" r="5.9"/>
<circle cx="502.7" cy="622.2" r="5.9"/>
<circle cx="375.6" cy="626.6" r="5.9"/>
<circle cx="381.7" cy="626.3" r="5.9"/>
<circle cx="384.6" cy="626.7" r="5.9"/>
<circle cx="390.7" cy="627.4" r="5.9"/>
<circle cx="395.8" cy="628.2" r="5.9"/>
<circle cx="401.8" cy="627.4" r="5.9"/>
<circle cx="404.2" cy="628.5" r="5.9"/>
<circle cx="409.2" cy="627.0" r="5.9"/>
<circle cx="414.5" cy="627.8" r="5.9"/>
<circle cx="421.5" cy="626.4" r="5.9"/>
<circle cx="425.0" cy="628.6" r="5.9"/>
<circle cx="446.1" cy="627.0" r="5.9"/>
<circle cx="449.5" cy="626.5" r="5.9"/>
<circle cx="455.3" cy="626.4" r="5.9"/>
<circle cx="460.3" cy="627.7" r="5.9"/>
<circle cx="465.8" cy="627.2" r="5.9"/>
<circle cx="471.5" cy="626.3" r="5.9"/>
<circle cx="475.1" cy="628.8" r="5.9"/>
<circle cx="481.7" cy="628.8" r="5.9"/>
<circle cx="486.4" cy="627.6" r="5.9"/>
<circle cx="491.5" cy="627.7" r="5.9"/>
<circle cx="494.5" cy="626.8" r="5.9"/>
<circle cx="499.4" cy="628.6" r="5.9"/>
<circle cx="505.1" cy="627.2" r="5.9"/>
<circle cx="379.0" cy="633.0" r="5.9"/>
<circle cx="382.6" cy="630.8" r="5.9"/>
<circle cx="388.9" cy="632.4" r="5.9"/>
<circle cx="392.7" cy="631.4" r="5.9"/>
<circle cx="413.2" cy="632.6" r="5.9"/>
<circle cx="419.3" cy="631.4" r="5.9"/>
<circle cx="423.7" cy="631.6" r="5.9"/>
<circle cx="429.2" cy="632.6" r="5.9"/>
<circle cx="433.3" cy="631.4" r="5.9"/>
<circle cx="437.4" cy="633.0" r="5.9"/>
<circle cx="444.0" cy="631.3" r="5.9"/>
<circle cx="446.9" cy="630.9" r="5.9"/>
<circle cx="454.5" cy="630.5" r="5.9"/>
<circle cx="459.0" cy="631.9" r="5.9"/>
<circle cx="463.3" cy="632.0" r="5.9"/>
<circle cx="467.8" cy="632.0" r="5.9"/>
<circle cx="471.9" cy="633.1" r="5.9"/>
<circle cx="476.9" cy="630.8" r="5.9"/>
<circle cx="483.6" cy="632.3" r="5.9"/>
<circle cx="489.0" cy="632.4" r="5.9"/>
<circle cx="494.4" cy="630.5" r="5.9"/>
<circle cx="496.6" cy="631.1" r="5.9"/>
<circle cx="504.0" cy="630.8" r="5.9"/>
<circle cx="508.2" cy="632.7" r="5.9"/>
<circle cx="375.3" cy="636.1" r="5.9"/>
<circle cx="410.8" cy="637.1" r="5.9"/>
<circle cx="415.7" cy="637.6" r="5.9"/>
<circle cx="419.1" cy="637.4" r="5.9"/>
<circle cx="426.3" cy="636.1" r="5.9"/>
<circle cx="431.7" cy="635.1" r="5.9"/>
<circle cx="435.1" cy="636.8" r="5.9"/>
<circle cx="441.6" cy="635.8" r="5.9"/>
<circle cx="447.1" cy="636.6" r="5.9"/>
<circle cx="449.3" cy="635.0" r="5.9"/>
<circle cx="454.3" cy="636.4" r="5.9"/>
<circle cx="475.8" cy="636.0" r="5.9"/>
<circle cx="480.0" cy="636.5" r="5.9"/>
<circle cx="485.2" cy="637.6" r="5.9"/>
<circle cx="492.0" cy="636.9" r="5.9"/>
<circle cx="496.6" cy="634.9" r="5.9"/>
<circle cx="499.5" cy="635.7" r="5.9"/>
<circle cx="504.5" cy="635.9" r="5.9"/>
<circle cx="374.5" cy="639.7" r="5.9"/>
<circle cx="403.8" cy="641.1" r="5.9"/>
<circle cx="408.8" cy="640.4" r="5.9"/>
<circle cx="413.0" cy="639.9" r="5.9"/>
<circle cx="416.7" cy="640.4" r="5.9"/>
<circle cx="423.5" cy="639.6" r="5.9"/>
<circle cx="429.2" cy="641.6" r="5.9"/>
<circle cx="434.2" cy="641.5" r="5.9"/>
<circle cx="438.1" cy="639.5" r="5.9"/>
<circle cx="442.4" cy="641.2" r="5.9"/>
<circle cx="449.6" cy="639.3" r="5.9"/>
<circle cx="451.6" cy="640.1" r="5.9"/>
<circle cx="457.7" cy="640.8" r="5.9"/>
<circle cx="477.1" cy="641.9" r="5.9"/>
<circle cx="483.4" cy="641.5" r="5.9"/>
<circle cx="486.8" cy="640.6" r="5.9"/>
<circle cx="493.8" cy="642.0" r="5.9"/>
<circle cx="499.4" cy="639.3" r="5.9"/>
<circle cx="502.7" cy="642.0" r="5.9"/>
<circle cx="375.8" cy="644.4" r="5.9"/>
<circle cx="394.2" cy="644.6" r="5.9"/>
<circle cx="401.9" cy="644.1" r="5.9"/>
<circle cx="405.2" cy="645.1" r="5.9"/>
<circle cx="409.8" cy="645.5" r="5.9"/>
<circle cx="416.1" cy="643.6" r="5.9"/>
<circle cx="421.9" cy="643.5" r="5.9"/>
<circle cx="426.2" cy="644.4" r="5.9"/>
<circle cx="429.5" cy="643.6" r="5.9"/>
<circle cx="450.7" cy="644.2" r="5.9"/>
<circle cx="479.2" cy="644.9" r="5.9"/>
<circle cx="485.8" cy="643.8" r="5.9"/>
<circle cx="491.9" cy="644.7" r="5.9"/>
<circle cx="494.7" cy="644.6" r="5.9"/>
<circle cx="500.9" cy="644.6" r="5.9"/>
<circle cx="504.1" cy="643.6" r="5.9"/>
<circle cx="358.6" cy="598.2" r="5.9"/>
<circle cx="355.3" cy="601.0" r="5.9"/>
<circle cx="359.8" cy="600.8" r="5.9"/>
<circle cx="366.4" cy="600.5" r="5.9"/>
<circle cx="371.7" cy="600.1" r="5.9"/>
<circle cx="358.2" cy="606.7" r="5.9"/>
<circle cx="362.1" cy="606.1" r="5.9"/>
<circle cx="368.8" cy="605.0" r="5.9"/>
<circle cx="355.7" cy="610.3" r="5.9"/>
<circle cx="361.1" cy="609.5" r="5.9"/>
<circle cx="364.9" cy="609.6" r="5.9"/>
<circle cx="371.0" cy="610.9" r="5.9"/>
<circle cx="354.8" cy="614.2" r="5.9"/>
<circle cx="357.8" cy="613.2" r="5.9"/>
<circle cx="363.7" cy="614.8" r="5.9"/>
<circle cx="367.6" cy="614.6" r="5.9"/>
<circle cx="356.3" cy="619.5" r="5.9"/>
<circle cx="359.9" cy="617.9" r="5.9"/>
<circle cx="367.3" cy="617.1" r="5.9"/>
<circle cx="370.2" cy="618.3" r="5.9"/>
<circle cx="359.6" cy="623.2" r="5.9"/>
<circle cx="361.8" cy="621.4" r="5.9"/>
<circle cx="366.9" cy="622.5" r="5.9"/>
<circle cx="371.9" cy="622.8" r="5.9"/>
<circle cx="356.9" cy="626.8" r="5.9"/>
<circle cx="362.2" cy="626.6" r="5.9"/>
<circle cx="366.2" cy="627.2" r="5.9"/>
<circle cx="370.1" cy="627.9" r="5.9"/>
<circle cx="357.8" cy="632.5" r="5.9"/>
<circle cx="363.3" cy="630.0" r="5.9"/>
<circle cx="367.7" cy="631.7" r="5.9"/>
<circle cx="355.9" cy="635.5" r="5.9"/>
<circle cx="360.6" cy="637.2" r="5.9"/>
<circle cx="367.1" cy="637.0" r="5.9"/>
<circle cx="371.5" cy="636.3" r="5.9"/>
<circle cx="359.3" cy="640.6" r="5.9"/>
<circle cx="363.7" cy="639.5" r="5.9"/>
<circle cx="367.6" cy="641.3" r="5.9"/>
<circle cx="333.7" cy="544.2" r="5.9"/>
<circle cx="345.4" cy="550.7" r="5.9"/>
<circle cx="316.2" cy="555.6" r="5.9"/>
<circle cx="322.1" cy="554.7" r="5.9"/>
<circle cx="342.6" cy="552.9" r="5.9"/>
<circle cx="312.8" cy="558.1" r="5.9"/>
<circle cx="318.5" cy="558.7" r="5.9"/>
<circle cx="324.1" cy="558.4" r="5.9"/>
<circle cx="328.5" cy="560.1" r="5.9"/>
<circle cx="336.3" cy="559.0" r="5.9"/>
<circle cx="316.7" cy="564.3" r="5.9"/>
<circle cx="322.2" cy="564.1" r="5.9"/>
<circle cx="326.9" cy="562.3" r="5.9"/>
<circle cx="331.2" cy="564.9" r="5.9"/>
<circle cx="339.5" cy="565.1" r="5.9"/>
<circle cx="325.5" cy="567.5" r="5.9"/>
<circle cx="328.9" cy="567.8" r="5.9"/>
<circle cx="336.0" cy="569.0" r="5.9"/>
<circle cx="341.1" cy="569.7" r="5.9"/>
<circle cx="347.4" cy="567.6" r="5.9"/>
<circle cx="325.7" cy="571.9" r="5.9"/>
<circle cx="343.0" cy="573.6" r="5.9"/>
<circle cx="320.6" cy="579.6" r="5.9"/>
<circle cx="325.4" cy="577.1" r="5.9"/>
<circle cx="340.1" cy="578.7" r="5.9"/>
<circle cx="346.5" cy="577.8" r="5.9"/>
<circle cx="321.3" cy="581.2" r="5.9"/>
<circle cx="342.7" cy="582.6" r="5.9"/>
<circle cx="319.0" cy="588.5" r="5.9"/>
<circle cx="322.9" cy="586.4" r="5.9"/>
<circle cx="329.1" cy="587.1" r="5.9"/>
<circle cx="335.2" cy="587.2" r="5.9"/>
<circle cx="321.4" cy="592.8" r="5.9"/>
<circle cx="326.6" cy="593.7" r="5.9"/>
<circle cx="332.4" cy="591.6" r="5.9"/>
<circle cx="320.1" cy="597.0" r="5.9"/>
<circle cx="325.9" cy="597.0" r="5.9"/>
<circle cx="329.3" cy="595.9" r="5.9"/>
<circle cx="335.5" cy="595.6" r="5.9"/>
<circle cx="304.5" cy="603.2" r="5.9"/>
<circle cx="323.3" cy="602.2" r="5.9"/>
<circle cx="325.8" cy="603.1" r="5.9"/>
<circle cx="331.7" cy="601.0" r="5.9"/>
<circle cx="337.1" cy="601.9" r="5.9"/>
<circle cx="344.1" cy="601.7" r="5.9"/>
<circle cx="296.4" cy="607.7" r="5.9"/>
<circle cx="304.0" cy="608.0" r="5.9"/>
<circle cx="325.9" cy="605.4" r="5.9"/>
<circle cx="339.8" cy="606.5" r="5.9"/>
<circle cx="346.6" cy="607.6" r="5.9"/>
<circle cx="301.4" cy="609.8" r="5.9"/>
<circle cx="305.7" cy="610.0" r="5.9"/>
<circle cx="311.6" cy="611.1" r="5.9"/>
<circle cx="317.7" cy="610.5" r="5.9"/>
<circle cx="323.1" cy="610.5" r="5.9"/>
<circle cx="325.8" cy="610.0" r="5.9"/>
<circle cx="344.5" cy="609.8" r="5.9"/>
<circle cx="303.6" cy="616.8" r="5.9"/>
<circle cx="306.8" cy="614.8" r="5.9"/>
<circle cx="312.1" cy="615.4" r="5.9"/>
<circle cx="319.5" cy="617.7" r="5.9"/>
<circle cx="326.1" cy="617.3" r="5.9"/>
<circle cx="328.8" cy="617.1" r="5.9"/>
<circle cx="342.7" cy="616.5" r="5.9"/>
<circle cx="345.3" cy="615.2" r="5.9"/>
<circle cx="312.4" cy="620.1" r="5.9"/>
<circle cx="315.5" cy="622.1" r="5.9"/>
<circle cx="328.6" cy="621.1" r="5.9"/>
<circle cx="333.2" cy="619.3" r="5.9"/>
<circle cx="338.7" cy="621.3" r="5.9"/>
<circle cx="344.7" cy="621.0" r="5.9"/>
<circle cx="303.5" cy="625.8" r="5.9"/>
<circle cx="307.6" cy="627.2" r="5.9"/>
<circle cx="313.8" cy="624.8" r="5.9"/>
<circle cx="330.3" cy="627.3" r="5.9"/>
<circle cx="336.0" cy="624.6" r="5.9"/>
<circle cx="341.3" cy="625.1" r="5.9"/>
<circle cx="346.5" cy="626.4" r="5.9"/>
<circle cx="299.2" cy="630.8" r="5.9"/>
<circle cx="306.4" cy="630.3" r="5.9"/>
<circle cx="311.2" cy="629.7" r="5.9"/>
<circle cx="328.2" cy="630.4" r="5.9"/>
<circle cx="332.3" cy="629.6" r="5.9"/>
<circle cx="339.4" cy="631.8" r="5.9"/>
<circle cx="345.3" cy="629.6" r="5.9"/>
<circle cx="297.6" cy="634.7" r="5.9"/>
<circle cx="302.4" cy="635.8" r="5.9"/>
<circle cx="306.9" cy="634.8" r="5.9"/>
<circle cx="335.8" cy="636.6" r="5.9"/>
<circle cx="341.2" cy="636.6" r="5.9"/>
<circle cx="346.5" cy="635.3" r="5.9"/>
<circle cx="301.3" cy="639.9" r="5.9"/>
<circle cx="303.7" cy="639.5" r="5.9"/>
<circle cx="309.8" cy="640.4" r="5.9"/>
<circle cx="316.3" cy="639.9" r="5.9"/>
<circle cx="323.2" cy="640.8" r="5.9"/>
<circle cx="338.8" cy="640.0" r="5.9"/>
<circle cx="342.3" cy="639.8" r="5.9"/>
<circle cx="336.2" cy="643.1" r="5.9"/>
<circle cx="303.4" cy="544.7" r="5.9"/>
<circle cx="333.0" cy="542.5" r="5.9"/>
<circle cx="327.1" cy="548.4" r="5.9"/>
<circle cx="315.3" cy="553.5" r="5.9"/>
<circle cx="344.0" cy="551.8" r="5.9"/>
<circle cx="305.1" cy="563.6" r="5.9"/>
<circle cx="311.9" cy="565.3" r="5.9"/>
<circle cx="322.0" cy="558.6" r="5.9"/>
<circle cx="328.8" cy="568.7" r="5.9"/>
<circle cx="335.6" cy="563.6" r="5.9"/>
<circle cx="342.3" cy="568.7" r="5.9"/>
<circle cx="325.4" cy="577.2" r="5.9"/>
<circle cx="318.6" cy="584.0" r="5.9"/>
<circle cx="339.0" cy="578.9" r="5.9"/>
<circle cx="345.7" cy="582.3" r="5.9"/>
<circle cx="315.3" cy="592.4" r="5.9"/>
<circle cx="322.0" cy="595.8" r="5.9"/>
<circle cx="332.2" cy="595.8" r="5.9"/>
<circle cx="342.3" cy="602.6" r="5.9"/>
<circle cx="305.1" cy="595.8" r="5.9"/>
<circle cx="301.7" cy="606.0" r="5.9"/>
<circle cx="308.5" cy="611.0" r="5.9"/>
<circle cx="315.3" cy="616.1" r="5.9"/>
<circle cx="322.0" cy="619.5" r="5.9"/>
<circle cx="328.8" cy="612.7" r="5.9"/>
<circle cx="335.6" cy="619.5" r="5.9"/>
<circle cx="342.3" cy="616.1" r="5.9"/>
<circle cx="305.1" cy="619.5" r="5.9"/>
<circle cx="310.2" cy="629.7" r="5.9"/>
<circle cx="301.7" cy="634.7" r="5.9"/>
<circle cx="306.8" cy="639.8" r="5.9"/>
<circle cx="323.7" cy="629.7" r="5.9"/>
<circle cx="330.5" cy="634.7" r="5.9"/>
<circle cx="337.3" cy="629.7" r="5.9"/>
<circle cx="344.0" cy="636.4" r="5.9"/>
<circle cx="335.6" cy="641.5" r="5.9"/>
<circle cx="322.0" cy="641.5" r="5.9"/>
<circle cx="361.0" cy="509.5" r="5.9"/>
<circle cx="367.7" cy="512.9" r="5.9"/>
<circle cx="362.7" cy="529.8" r="5.9"/>
<circle cx="369.4" cy="534.9" r="5.9"/>
<circle cx="355.9" cy="550.1" r="5.9"/>
<circle cx="362.7" cy="543.3" r="5.9"/>
<circle cx="369.4" cy="548.4" r="5.9"/>
<circle cx="352.5" cy="572.1" r="5.9"/>
<circle cx="359.3" cy="575.5" r="5.9"/>
<circle cx="366.0" cy="572.1" r="5.9"/>
<circle cx="371.1" cy="578.9" r="5.9"/>
<circle cx="355.9" cy="585.6" r="5.9"/>
<circle cx="362.7" cy="589.0" r="5.9"/>
<circle cx="369.4" cy="592.4" r="5.9"/>
<circle cx="352.5" cy="595.8" r="5.9"/>
<circle cx="359.3" cy="556.9" r="5.9"/>
<circle cx="367.7" cy="556.9" r="5.9"/>
<circle cx="355.9" cy="563.6" r="5.9"/>
<circle cx="352.5" cy="558.6" r="5.9"/>
<circle cx="308.5" cy="645.0" r="5.9"/>
<circle cx="315.3" cy="647.5" r="5.9"/>
<circle cx="322.0" cy="645.8" r="5.9"/>
<circle cx="330.5" cy="648.4" r="5.9"/>
<circle cx="335.6" cy="646.7" r="5.9"/>
<circle cx="344.9" cy="654.3" r="5.9"/>
<circle cx="367.7" cy="658.5" r="5.9"/>
<circle cx="369.4" cy="650.1" r="5.9"/>
<circle cx="387.9" cy="705.6" r="5.9"/>
<circle cx="432.9" cy="687.3" r="5.9"/>
<circle cx="451.9" cy="671.2" r="5.9"/>
<circle cx="451.0" cy="679.7" r="5.9"/>
<circle cx="410.4" cy="669.5" r="5.9"/>
<circle cx="377.4" cy="680.6" r="5.9"/>
<circle cx="374.0" cy="655.2" r="5.9"/>
<circle cx="377.4" cy="648.4" r="5.9"/>
<circle cx="394.3" cy="653.5" r="5.9"/>
<circle cx="401.1" cy="650.1" r="5.9"/>
<circle cx="409.6" cy="648.4" r="5.9"/>
<circle cx="424.8" cy="650.1" r="5.9"/>
<circle cx="433.3" cy="648.4" r="5.9"/>
<circle cx="445.1" cy="653.5" r="5.9"/>
<circle cx="451.9" cy="650.1" r="5.9"/>
<circle cx="458.6" cy="646.7" r="5.9"/>
<circle cx="499.3" cy="661.9" r="5.9"/>
<circle cx="504.4" cy="667.0" r="5.9"/>
<circle cx="676.0" cy="464.7" r="5.9"/>
<circle cx="703.1" cy="290.1" r="5.9"/>
<circle cx="677.8" cy="309.9" r="5.9"/>
<circle cx="438.8" cy="496.5" r="5.9"/>
<circle cx="411.7" cy="500.0" r="5.9"/>
<circle cx="401.6" cy="502.0" r="5.9"/>
<circle cx="447.2" cy="498.6" r="5.9"/>
<circle cx="455.0" cy="501.0" r="5.9"/>
<circle cx="386.3" cy="509.2" r="5.9"/>
<circle cx="474.7" cy="602.8" r="5.9"/>
<circle cx="479.5" cy="602.3" r="5.9"/>
<circle cx="471.4" cy="605.2" r="5.9"/>
<circle cx="478.3" cy="606.5" r="5.9"/>
<circle cx="484.3" cy="606.7" r="5.9"/>
<circle cx="487.9" cy="604.7" r="5.9"/>
<circle cx="494.2" cy="606.2" r="5.9"/>
<circle cx="498.9" cy="604.8" r="5.9"/>
<circle cx="474.6" cy="611.8" r="5.9"/>
<circle cx="481.7" cy="611.9" r="5.9"/>
<circle cx="484.8" cy="611.5" r="5.9"/>
<circle cx="490.9" cy="611.6" r="5.9"/>
<circle cx="496.2" cy="610.4" r="5.9"/>
<circle cx="500.0" cy="611.4" r="5.9"/>
<circle cx="505.8" cy="610.7" r="5.9"/>
<circle cx="540.0" cy="610.8" r="5.9"/>
<circle cx="472.7" cy="614.6" r="5.9"/>
<circle cx="478.4" cy="613.7" r="5.9"/>
<circle cx="483.4" cy="616.2" r="5.9"/>
<circle cx="488.6" cy="615.0" r="5.9"/>
<circle cx="492.4" cy="613.7" r="5.9"/>
<circle cx="496.6" cy="615.0" r="5.9"/>
<circle cx="504.0" cy="616.0" r="5.9"/>
<circle cx="506.9" cy="615.6" r="5.9"/>
<circle cx="513.7" cy="614.8" r="5.9"/>
<circle cx="532.2" cy="616.0" r="5.9"/>
<circle cx="537.5" cy="614.6" r="5.9"/>
<circle cx="542.0" cy="614.8" r="5.9"/>
<circle cx="475.8" cy="619.2" r="5.9"/>
<circle cx="478.9" cy="620.6" r="5.9"/>
<circle cx="484.7" cy="619.3" r="5.9"/>
<circle cx="491.7" cy="618.3" r="5.9"/>
<circle cx="494.0" cy="618.3" r="5.9"/>
<circle cx="499.3" cy="620.3" r="5.9"/>
<circle cx="505.4" cy="617.8" r="5.9"/>
<circle cx="509.6" cy="619.2" r="5.9"/>
<circle cx="514.3" cy="618.6" r="5.9"/>
<circle cx="521.5" cy="619.0" r="5.9"/>
<circle cx="524.5" cy="619.5" r="5.9"/>
<circle cx="529.2" cy="619.3" r="5.9"/>
<circle cx="535.8" cy="618.0" r="5.9"/>
<circle cx="471.9" cy="622.6" r="5.9"/>
<circle cx="478.4" cy="624.5" r="5.9"/>
<circle cx="481.5" cy="623.3" r="5.9"/>
<circle cx="487.2" cy="623.4" r="5.9"/>
<circle cx="493.9" cy="623.7" r="5.9"/>
<circle cx="498.5" cy="624.3" r="5.9"/>
<circle cx="502.2" cy="623.9" r="5.9"/>
<circle cx="507.4" cy="623.4" r="5.9"/>
<circle cx="512.9" cy="624.0" r="5.9"/>
<circle cx="516.8" cy="624.5" r="5.9"/>
<circle cx="521.8" cy="623.0" r="5.9"/>
<circle cx="528.9" cy="625.0" r="5.9"/>
<circle cx="532.4" cy="624.9" r="5.9"/>
<circle cx="476.1" cy="626.4" r="5.9"/>
<circle cx="479.2" cy="627.4" r="5.9"/>
<circle cx="484.1" cy="627.8" r="5.9"/>
<circle cx="489.9" cy="628.6" r="5.9"/>
<circle cx="495.3" cy="629.3" r="5.9"/>
<circle cx="501.3" cy="626.9" r="5.9"/>
<circle cx="506.6" cy="629.0" r="5.9"/>
<circle cx="510.5" cy="627.9" r="5.9"/>
<circle cx="514.3" cy="627.3" r="5.9"/>
<circle cx="519.5" cy="626.9" r="5.9"/>
<circle cx="525.7" cy="627.3" r="5.9"/>
<circle cx="473.5" cy="632.4" r="5.9"/>
<circle cx="476.7" cy="631.6" r="5.9"/>
<circle cx="483.6" cy="630.7" r="5.9"/>
<circle cx="488.2" cy="632.3" r="5.9"/>
<circle cx="493.5" cy="631.7" r="5.9"/>
<circle cx="497.7" cy="632.1" r="5.9"/>
<circle cx="503.6" cy="630.9" r="5.9"/>
<circle cx="507.8" cy="631.5" r="5.9"/>
<circle cx="513.1" cy="631.5" r="5.9"/>
<circle cx="516.9" cy="631.4" r="5.9"/>
<circle cx="475.8" cy="635.9" r="5.9"/>
<circle cx="481.5" cy="636.9" r="5.9"/>
<circle cx="484.0" cy="637.5" r="5.9"/>
<circle cx="491.5" cy="635.9" r="5.9"/>
<circle cx="496.0" cy="637.6" r="5.9"/>
<circle cx="501.5" cy="635.2" r="5.9"/>
<circle cx="506.3" cy="635.8" r="5.9"/>
<circle cx="511.2" cy="637.1" r="5.9"/>
<circle cx="473.4" cy="640.9" r="5.9"/>
<circle cx="478.0" cy="641.3" r="5.9"/>
<circle cx="481.3" cy="640.7" r="5.9"/>
<circle cx="489.2" cy="640.0" r="5.9"/>
<circle cx="492.7" cy="639.6" r="5.9"/>
<circle cx="495.4" cy="661.4" r="5.9"/>
<circle cx="502.9" cy="667.6" r="5.9"/>
<circle cx="529.1" cy="637.6" r="5.9"/>
<circle cx="519.1" cy="592.5" r="5.9"/>
<circle cx="526.6" cy="582.5" r="5.9"/>
</g>
<g fill="#0000ff">
<circle cx="259.7" cy="598.7" r="5.9"/>
<circle cx="589.3" cy="307.0" r="5.9"/>
<circle cx="602.9" cy="302.7" r="5.9"/>
<circle cx="601.2" cy="316.3" r="5.9"/>
<circle cx="590.2" cy="350.1" r="5.9"/>
<circle cx="584.3" cy="328.1" r="5.9"/>
<circle cx="527.5" cy="456.9" r="5.9"/>
<circle cx="544.5" cy="456.9" r="5.9"/>
<circle cx="519.1" cy="478.9" r="5.9"/>
<circle cx="571.6" cy="465.3" r="5.9"/>
<circle cx="608.8" cy="518.8" r="5.9"/>
<circle cx="595.3" cy="570.4" r="5.9"/>
<circle cx="595.3" cy="581.4" r="5.9"/>
<circle cx="409.6" cy="511.2" r="5.9"/>
<circle cx="411.2" cy="531.5" r="5.9"/>
<circle cx="438.3" cy="539.1" r="5.9"/>
<circle cx="397.7" cy="574.6" r="5.9"/>
<circle cx="423.1" cy="640.7" r="5.9"/>
<circle cx="509.4" cy="543.3" r="5.9"/>
<circle cx="435.8" cy="512.0" r="4.5"/>
<circle cx="382.5" cy="501.0" r="4"/>
<circle cx="429.9" cy="502.7" r="3"/>
<circle cx="414.6" cy="545.9" r="3.5"/>
<circle cx="396.9" cy="556.9" r="4"/>
<circle cx="374.0" cy="561.9" r="4"/>
<circle cx="375.7" cy="633.0" r="3"/>
<circle cx="473.9" cy="502.7" r="4"/>
<circle cx="475.6" cy="517.9" r="3"/>
<circle cx="495.9" cy="522.2" r="3"/>
<circle cx="479.0" cy="609.3" r="5.9"/>
<circle cx="484.0" cy="614.4" r="5.9"/>
<circle cx="475.6" cy="611.0" r="5.9"/>
<circle cx="359.3" cy="562.8" r="5.9"/>
<circle cx="371.1" cy="561.9" r="5.9"/>
<circle cx="369.4" cy="636.4" r="4"/>
<circle cx="441.7" cy="666.7" r="5.9"/>
<circle cx="687.9" cy="533.6" r="5.9"/>
<circle cx="668.4" cy="516.3" r="3.5"/>
<circle cx="519.2" cy="479.1" r="5.9"/>
<circle cx="473.5" cy="500.3" r="5.9"/>
<circle cx="513.3" cy="541.7" r="5.9"/>
<circle cx="533.6" cy="529.9" r="5.9"/>
<circle cx="530.2" cy="468.1" r="3"/>
<circle cx="548.8" cy="489.3" r="3.5"/>
<circle cx="569.1" cy="535.0" r="4"/>
<circle cx="574.2" cy="558.7" r="4"/>
</g>
<g fill="#ffff00">
<circle cx="455.3" cy="528.9" r="5.9"/>
<circle cx="423.1" cy="573.8" r="4.5"/>
<circle cx="415.5" cy="589.0" r="3"/>
<circle cx="466.3" cy="503.5" r="4"/>
<circle cx="511.1" cy="519.6" r="5.9"/>
<circle cx="475.6" cy="577.2" r="4"/>
<circle cx="489.1" cy="585.6" r="4"/>
<circle cx="492.5" cy="595.8" r="4"/>
<circle cx="499.3" cy="597.5" r="4"/>
<circle cx="497.6" cy="606.0" r="5.9"/>
<circle cx="492.5" cy="611.0" r="4"/>
<circle cx="501.0" cy="619.5" r="4"/>
<circle cx="499.3" cy="626.3" r="3"/>
<circle cx="499.3" cy="642.4" r="5.9"/>
<circle cx="506.0" cy="643.2" r="5.9"/>
<circle cx="344.9" cy="625.4" r="3.5"/>
<circle cx="365.2" cy="618.7" r="3.5"/>
<circle cx="501.6" cy="620.1" r="3"/>
<circle cx="489.1" cy="612.6" r="3"/>
</g>
<g fill="#ff0000">
<circle cx="482.3" cy="580.6" r="5.9"/>
<circle cx="479.0" cy="514.5" r="4"/>
<circle cx="485.7" cy="519.6" r="4"/>
<circle cx="495.9" cy="517.9" r="4.5"/>
<circle cx="502.7" cy="504.4" r="4.5"/>
<circle cx="509.4" cy="502.7" r="5.9"/>
<circle cx="458.6" cy="517.9" r="3"/>
<circle cx="511.1" cy="577.2" r="5.9"/>
<circle cx="512.8" cy="582.3" r="5.9"/>
<circle cx="506.0" cy="604.3" r="5.9"/>
<circle cx="511.1" cy="607.7" r="5.9"/>
<circle cx="412.1" cy="611.9" r="2"/>
<circle cx="405.3" cy="622.6" r="2"/>
<circle cx="479.0" cy="529.8" r="3"/>
<circle cx="485.3" cy="461.3" r="5.9"/>
<circle cx="562.3" cy="478.2" r="5.9"/>
<circle cx="559.8" cy="446.1" r="5.9"/>
<circle cx="582.7" cy="535.0" r="5.9"/>
</g>
<g fill="#ff00ff">
<circle cx="416.3" cy="552.6" r="5.9"/>
<circle cx="431.6" cy="550.1" r="5.9"/>
<circle cx="491.2" cy="479.9" r="5.9"/>
<circle cx="511.6" cy="484.2" r="5.9"/>
<circle cx="520.9" cy="491.8" r="5.9"/>
<circle cx="536.1" cy="486.7" r="5.9"/>
<circle cx="531.0" cy="510.4" r="5.9"/>
<circle cx="537.8" cy="456.2" r="5.9"/>
<circle cx="534.4" cy="435.1" r="5.9"/>
<circle cx="466.7" cy="486.7" r="5.9"/>
<circle cx="476.0" cy="489.3" r="5.9"/>
<circle cx="482.8" cy="494.3" r="5.9"/>
<circle cx="489.6" cy="496.9" r="5.9"/>
<circle cx="479.4" cy="499.4" r="5.9"/>
<circle cx="496.3" cy="501.1" r="5.9"/>
<circle cx="504.8" cy="504.5" r="5.9"/>
<circle cx="487.9" cy="502.8" r="5.9"/>
<circle cx="472.6" cy="495.2" r="5.9"/>
<circle cx="498.0" cy="507.9" r="5.9"/>
<circle cx="506.5" cy="511.3" r="5.9"/>
<circle cx="487.9" cy="511.3" r="5.9"/>
<circle cx="514.9" cy="529.9" r="5.9"/>
</g>
<g stroke="#555">
<line x1="113" y1="73.5" x2="826" y2="73.5" stroke-width="1.1"/>
<line x1="113" y1="149.4" x2="826" y2="149.4" stroke-width="1.1"/>
<line x1="113" y1="225" x2="826" y2="225" stroke-width="1.5"/>
<line x1="113" y1="298.9" x2="826" y2="298.9" stroke-width="1.9"/>
<line x1="113" y1="374" x2="826" y2="374" stroke-width="1.5"/>
<line x1="113" y1="450.9" x2="826" y2="450.9" stroke-width="1.9"/>
<line x1="113" y1="524.8" x2="826" y2="524.8" stroke-width="1.9"/>
<line x1="113" y1="600.4" x2="826" y2="600.4" stroke-width="1.4"/>
<line x1="113" y1="674.9" x2="826" y2="674.9" stroke-width="1.5"/>
</g>
<circle cx="136.7" cy="34" r="10.9" fill="#0000ff"/>
<text x="159.9" y="44.3" font-size="32.1" fill="#000">Siltstone</text>
<circle cx="136.7" cy="91" r="10.9" fill="#ffff00"/>
<text x="159.9" y="102.5" font-size="32.1" fill="#000">Shale 1</text>
<circle cx="136.7" cy="148.4" r="10.9" fill="#ff0000"/>
<text x="159.9" y="164.3" font-size="32.1" fill="#000">Shale 2</text>
<circle cx="136.7" cy="205.5" r="10.9" fill="#ff00ff"/>
<text x="159.9" y="218.5" font-size="32.1" fill="#000">Shale 3</text>
<circle cx="136.5" cy="260.8" r="10.3" fill="#000" stroke="#4a5568" stroke-width="1.6"/>
<text x="159.9" y="270.4" font-size="32.1" fill="#000">Limestone</text>
<g stroke="#555">
<line x1="230.9" y1="3" x2="230.9" y2="748" stroke-width="1.9"/>
<line x1="349.4" y1="3" x2="349.4" y2="748" stroke-width="1.1"/>
<line x1="470" y1="3" x2="470" y2="748" stroke-width="1.9"/>
<line x1="589.1" y1="3" x2="589.1" y2="748" stroke-width="1.9"/>
<line x1="708" y1="3" x2="708" y2="748" stroke-width="1.1"/>
</g>
<rect x="112" y="2.3" width="714.6" height="747.1" fill="none" stroke="#000" stroke-width="3"/>
<text transform="translate(228.3,788.6) scale(0.967,1)" font-size="33" text-anchor="middle" fill="#000">2300</text>
<text transform="translate(466.2,788.6) scale(0.967,1)" font-size="33" text-anchor="middle" fill="#000">2500</text>
<text transform="translate(704.2,788.6) scale(0.967,1)" font-size="33" text-anchor="middle" fill="#000">2600</text>
<text x="444.3" y="842" font-size="35.8" fill="#000"><tspan font-style="italic">ρ</tspan> (kg/m<tspan font-size="23" dy="-12">3</tspan><tspan dy="12">)</tspan></text>
<text transform="translate(90.7,147.5) rotate(-90) scale(1,1.05)" font-size="32" text-anchor="middle" fill="#000">1.6</text>
<text transform="translate(90.7,289.5) rotate(-90) scale(1,1.05)" font-size="32" text-anchor="middle" fill="#000">1.4</text>
<text transform="translate(90.7,438.3) rotate(-90) scale(1,1.05)" font-size="32" text-anchor="middle" fill="#000">1.2</text>
<text transform="translate(90.7,599) rotate(-90) scale(1,1.05)" font-size="32" text-anchor="middle" fill="#000">1</text>
<text transform="translate(31.6,511) rotate(-90) scale(1,1.03)" font-size="36" fill="#000">Ip</text>
<text transform="translate(31.6,462) rotate(-90) scale(1,1.03)" font-size="35.2" fill="#000">(10<tspan font-size="23" dy="-13">7</tspan><tspan dy="13">kg/m</tspan><tspan font-size="25.5" dy="-12">3</tspan></text>
<text transform="translate(38.3,305.5) rotate(-90)" font-size="32" fill="#000">*</text>
<text transform="translate(31.6,286) rotate(-90) scale(1,1.03)" font-size="36" fill="#000">m/s)</text>
</svg></body></html>
